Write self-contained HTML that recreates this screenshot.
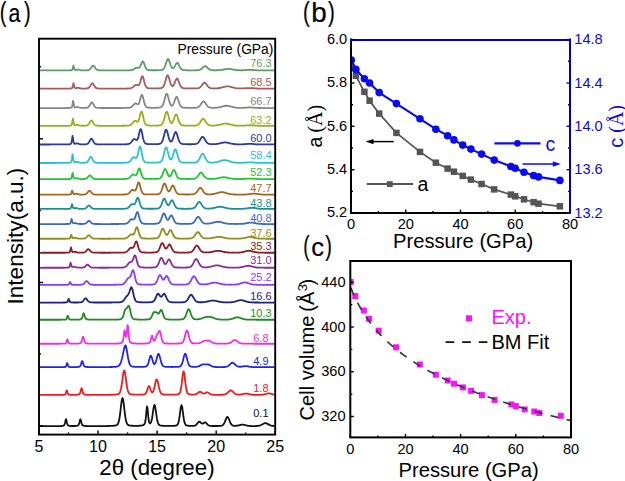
<!DOCTYPE html>
<html><head><meta charset="utf-8"><style>
html,body{margin:0;padding:0;background:#fff;}
body{width:625px;height:481px;overflow:hidden;}
svg{display:block;font-family:"Liberation Sans", sans-serif;}
</style></head><body>
<svg width="625" height="481" viewBox="0 0 625 481">
<rect width="625" height="481" fill="#fff"/>
<polyline fill="none" stroke="#5c9c64" stroke-width="1.8" stroke-linejoin="round" points="39.5,70.45 40.0,70.45 40.5,70.45 41.0,70.45 41.5,70.45 42.0,70.45 42.5,70.45 43.0,70.45 43.5,70.45 44.0,70.45 44.5,70.45 45.0,70.45 45.5,70.45 46.0,70.45 46.5,70.45 47.0,70.45 47.5,70.45 48.0,70.45 48.5,70.45 49.0,70.45 49.5,70.45 50.0,70.45 50.5,70.45 51.0,70.45 51.5,70.45 52.0,70.45 52.5,70.45 53.0,70.45 53.5,70.45 54.0,70.45 54.5,70.45 55.0,70.45 55.5,70.45 56.0,70.45 56.5,70.45 57.0,70.45 57.5,70.44 58.0,70.44 58.5,70.44 59.0,70.44 59.5,70.44 60.0,70.44 60.5,70.44 61.0,70.44 61.5,70.44 62.0,70.44 62.5,70.44 63.0,70.44 63.5,70.43 64.0,70.43 64.5,70.43 65.0,70.43 65.5,70.42 66.0,70.42 66.5,70.42 67.0,70.41 67.5,70.41 68.0,70.40 68.5,70.39 69.0,70.38 69.5,70.37 70.0,70.34 70.5,70.31 71.0,70.26 71.5,70.16 72.0,69.95 72.5,69.27 73.0,67.40 73.5,65.60 74.0,67.37 74.5,69.19 75.0,69.82 75.5,69.94 76.0,69.91 76.5,69.81 77.0,69.70 77.5,69.60 78.0,69.57 78.5,69.62 79.0,69.74 79.5,69.89 80.0,70.04 80.5,70.16 81.0,70.25 81.5,70.30 82.0,70.33 82.5,70.35 83.0,70.36 83.5,70.36 84.0,70.36 84.5,70.35 85.0,70.35 85.5,70.34 86.0,70.33 86.5,70.31 87.0,70.28 87.5,70.24 88.0,70.16 88.5,70.04 89.0,69.85 89.5,69.56 90.0,69.14 90.5,68.58 91.0,67.90 91.5,67.17 92.0,66.46 92.5,65.91 93.0,65.65 93.5,65.76 94.0,66.21 94.5,66.87 95.0,67.61 95.5,68.32 96.0,68.93 96.5,69.41 97.0,69.75 97.5,69.98 98.0,70.13 98.5,70.22 99.0,70.27 99.5,70.31 100.0,70.33 100.5,70.34 101.0,70.35 101.5,70.36 102.0,70.37 102.5,70.38 103.0,70.38 103.5,70.39 104.0,70.39 104.5,70.40 105.0,70.40 105.5,70.40 106.0,70.40 106.5,70.41 107.0,70.41 107.5,70.41 108.0,70.41 108.5,70.41 109.0,70.41 109.5,70.41 110.0,70.41 110.5,70.41 111.0,70.42 111.5,70.42 112.0,70.42 112.5,70.42 113.0,70.42 113.5,70.42 114.0,70.42 114.5,70.41 115.0,70.41 115.5,70.41 116.0,70.41 116.5,70.41 117.0,70.41 117.5,70.41 118.0,70.41 118.5,70.41 119.0,70.41 119.5,70.41 120.0,70.40 120.5,70.40 121.0,70.40 121.5,70.40 122.0,70.40 122.5,70.39 123.0,70.39 123.5,70.39 124.0,70.38 124.5,70.38 125.0,70.38 125.5,70.37 126.0,70.37 126.5,70.36 127.0,70.35 127.5,70.35 128.0,70.34 128.5,70.33 129.0,70.31 129.5,70.29 130.0,70.26 130.5,70.22 131.0,70.16 131.5,70.07 132.0,69.95 132.5,69.79 133.0,69.58 133.5,69.32 134.0,69.01 134.5,68.69 135.0,68.36 135.5,68.06 136.0,67.83 136.5,67.70 137.0,67.69 137.5,67.76 138.0,67.86 138.5,67.92 139.0,67.83 139.5,67.50 140.0,66.86 140.5,65.90 141.0,64.67 141.5,63.33 142.0,62.14 142.5,61.39 143.0,61.35 143.5,62.06 144.0,63.29 144.5,64.76 145.0,66.20 145.5,67.44 146.0,68.40 146.5,69.08 147.0,69.53 147.5,69.81 148.0,69.97 148.5,70.07 149.0,70.13 149.5,70.16 150.0,70.19 150.5,70.21 151.0,70.22 151.5,70.24 152.0,70.24 152.5,70.25 153.0,70.26 153.5,70.26 154.0,70.26 154.5,70.26 155.0,70.26 155.5,70.25 156.0,70.25 156.5,70.24 157.0,70.24 157.5,70.23 158.0,70.21 158.5,70.20 159.0,70.18 159.5,70.16 160.0,70.13 160.5,70.09 161.0,70.04 161.5,69.96 162.0,69.84 162.5,69.66 163.0,69.36 163.5,68.92 164.0,68.28 164.5,67.40 165.0,66.26 165.5,64.88 166.0,63.33 166.5,61.76 167.0,60.37 167.5,59.38 168.0,59.01 168.5,59.35 169.0,60.32 169.5,61.68 170.0,63.22 170.5,64.71 171.0,66.02 171.5,67.06 172.0,67.78 172.5,68.17 173.0,68.25 173.5,68.03 174.0,67.54 174.5,66.81 175.0,65.92 175.5,64.94 176.0,64.00 176.5,63.26 177.0,62.88 177.5,62.94 178.0,63.45 178.5,64.29 179.0,65.29 179.5,66.33 180.0,67.29 180.5,68.11 181.0,68.76 181.5,69.24 182.0,69.59 182.5,69.82 183.0,69.97 183.5,70.06 184.0,70.12 184.5,70.17 185.0,70.20 185.5,70.22 186.0,70.24 186.5,70.25 187.0,70.26 187.5,70.27 188.0,70.28 188.5,70.29 189.0,70.30 189.5,70.30 190.0,70.31 190.5,70.31 191.0,70.31 191.5,70.31 192.0,70.32 192.5,70.32 193.0,70.32 193.5,70.31 194.0,70.31 194.5,70.31 195.0,70.30 195.5,70.30 196.0,70.29 196.5,70.27 197.0,70.26 197.5,70.23 198.0,70.19 198.5,70.13 199.0,70.04 199.5,69.92 200.0,69.74 200.5,69.51 201.0,69.21 201.5,68.85 202.0,68.42 202.5,67.94 203.0,67.44 203.5,66.96 204.0,66.54 204.5,66.24 205.0,66.11 205.5,66.17 206.0,66.41 206.5,66.78 207.0,67.24 207.5,67.74 208.0,68.23 208.5,68.68 209.0,69.08 209.5,69.40 210.0,69.66 210.5,69.85 211.0,70.00 211.5,70.10 212.0,70.16 212.5,70.21 213.0,70.24 213.5,70.26 214.0,70.27 214.5,70.28 215.0,70.28 215.5,70.28 216.0,70.28 216.5,70.27 217.0,70.26 217.5,70.24 218.0,70.22 218.5,70.19 219.0,70.16 219.5,70.12 220.0,70.08 220.5,70.03 221.0,69.97 221.5,69.90 222.0,69.83 222.5,69.75 223.0,69.67 223.5,69.58 224.0,69.49 224.5,69.39 225.0,69.30 225.5,69.22 226.0,69.14 226.5,69.07 227.0,69.01 227.5,68.96 228.0,68.93 228.5,68.93 229.0,68.94 229.5,68.96 230.0,69.01 230.5,69.07 231.0,69.14 231.5,69.22 232.0,69.31 232.5,69.40 233.0,69.50 233.5,69.59 234.0,69.68 234.5,69.76 235.0,69.84 235.5,69.92 236.0,69.99 236.5,70.04 237.0,70.10 237.5,70.14 238.0,70.18 238.5,70.21 239.0,70.24 239.5,70.26 240.0,70.27 240.5,70.28 241.0,70.28 241.5,70.27 242.0,70.27 242.5,70.25 243.0,70.23 243.5,70.21 244.0,70.18 244.5,70.15 245.0,70.12 245.5,70.08 246.0,70.04 246.5,70.00 247.0,69.96 247.5,69.93 248.0,69.89 248.5,69.86 249.0,69.84 249.5,69.83 250.0,69.83 250.5,69.83 251.0,69.85 251.5,69.87 252.0,69.90 252.5,69.94 253.0,69.98 253.5,70.02 254.0,70.06 254.5,70.10 255.0,70.15 255.5,70.18 256.0,70.22 256.5,70.25 257.0,70.28 257.5,70.31 258.0,70.33 258.5,70.35 259.0,70.36 259.5,70.38 260.0,70.39 260.5,70.40 261.0,70.40 261.5,70.41 262.0,70.42 262.5,70.42 263.0,70.42 263.5,70.42 264.0,70.43 264.5,70.43 265.0,70.43 265.5,70.43 266.0,70.43 266.5,70.43 267.0,70.43 267.5,70.44 268.0,70.44 268.5,70.44 269.0,70.44 269.5,70.44 270.0,70.44 270.5,70.44 271.0,70.44 271.5,70.44 272.0,70.44 272.5,70.44 273.0,70.44 273.5,70.44 274.0,70.44 274.5,70.44"/>
<text x="260.9" y="66.9" font-size="11" text-anchor="middle" fill="#5c9c64">76.3</text>
<polyline fill="none" stroke="#a45c5c" stroke-width="1.8" stroke-linejoin="round" points="39.5,88.66 40.0,88.66 40.5,88.66 41.0,88.66 41.5,88.66 42.0,88.66 42.5,88.66 43.0,88.66 43.5,88.66 44.0,88.66 44.5,88.66 45.0,88.66 45.5,88.66 46.0,88.66 46.5,88.66 47.0,88.66 47.5,88.66 48.0,88.66 48.5,88.66 49.0,88.66 49.5,88.66 50.0,88.66 50.5,88.66 51.0,88.66 51.5,88.66 52.0,88.66 52.5,88.66 53.0,88.66 53.5,88.66 54.0,88.66 54.5,88.66 55.0,88.66 55.5,88.66 56.0,88.65 56.5,88.65 57.0,88.65 57.5,88.65 58.0,88.65 58.5,88.65 59.0,88.65 59.5,88.65 60.0,88.65 60.5,88.65 61.0,88.65 61.5,88.65 62.0,88.65 62.5,88.64 63.0,88.64 63.5,88.64 64.0,88.64 64.5,88.64 65.0,88.63 65.5,88.63 66.0,88.63 66.5,88.62 67.0,88.62 67.5,88.61 68.0,88.60 68.5,88.59 69.0,88.58 69.5,88.56 70.0,88.54 70.5,88.50 71.0,88.44 71.5,88.34 72.0,88.10 72.5,87.33 73.0,85.24 73.5,83.21 74.0,85.20 74.5,87.26 75.0,87.97 75.5,88.11 76.0,88.09 76.5,88.00 77.0,87.89 77.5,87.80 78.0,87.77 78.5,87.82 79.0,87.94 79.5,88.09 80.0,88.24 80.5,88.36 81.0,88.45 81.5,88.50 82.0,88.53 82.5,88.55 83.0,88.55 83.5,88.55 84.0,88.55 84.5,88.54 85.0,88.53 85.5,88.52 86.0,88.50 86.5,88.47 87.0,88.42 87.5,88.33 88.0,88.18 88.5,87.94 89.0,87.56 89.5,87.02 90.0,86.31 90.5,85.47 91.0,84.59 91.5,83.82 92.0,83.33 92.5,83.29 93.0,83.69 93.5,84.43 94.0,85.30 94.5,86.16 95.0,86.90 95.5,87.47 96.0,87.88 96.5,88.15 97.0,88.31 97.5,88.41 98.0,88.47 98.5,88.50 99.0,88.53 99.5,88.54 100.0,88.55 100.5,88.57 101.0,88.57 101.5,88.58 102.0,88.59 102.5,88.59 103.0,88.60 103.5,88.60 104.0,88.60 104.5,88.61 105.0,88.61 105.5,88.61 106.0,88.61 106.5,88.61 107.0,88.61 107.5,88.61 108.0,88.62 108.5,88.62 109.0,88.62 109.5,88.62 110.0,88.62 110.5,88.62 111.0,88.62 111.5,88.62 112.0,88.62 112.5,88.62 113.0,88.62 113.5,88.62 114.0,88.61 114.5,88.61 115.0,88.61 115.5,88.61 116.0,88.61 116.5,88.61 117.0,88.61 117.5,88.61 118.0,88.60 118.5,88.60 119.0,88.60 119.5,88.60 120.0,88.60 120.5,88.59 121.0,88.59 121.5,88.59 122.0,88.58 122.5,88.58 123.0,88.58 123.5,88.57 124.0,88.57 124.5,88.56 125.0,88.55 125.5,88.55 126.0,88.54 126.5,88.53 127.0,88.52 127.5,88.51 128.0,88.49 128.5,88.47 129.0,88.44 129.5,88.40 130.0,88.34 130.5,88.26 131.0,88.14 131.5,87.97 132.0,87.74 132.5,87.44 133.0,87.08 133.5,86.66 134.0,86.20 134.5,85.74 135.0,85.32 135.5,85.01 136.0,84.83 136.5,84.82 137.0,84.94 137.5,85.11 138.0,85.23 138.5,85.16 139.0,84.79 139.5,84.01 140.0,82.78 140.5,81.15 141.0,79.32 141.5,77.61 142.0,76.42 142.5,76.16 143.0,76.93 143.5,78.51 144.0,80.48 144.5,82.48 145.0,84.24 145.5,85.63 146.0,86.64 146.5,87.31 147.0,87.73 147.5,87.97 148.0,88.12 148.5,88.21 149.0,88.27 149.5,88.30 150.0,88.33 150.5,88.36 151.0,88.37 151.5,88.39 152.0,88.40 152.5,88.40 153.0,88.41 153.5,88.41 154.0,88.41 154.5,88.41 155.0,88.41 155.5,88.41 156.0,88.40 156.5,88.39 157.0,88.38 157.5,88.37 158.0,88.35 158.5,88.33 159.0,88.31 159.5,88.27 160.0,88.23 160.5,88.18 161.0,88.09 161.5,87.96 162.0,87.76 162.5,87.45 163.0,86.97 163.5,86.26 164.0,85.28 164.5,84.00 165.0,82.43 165.5,80.64 166.0,78.78 166.5,77.07 167.0,75.79 167.5,75.19 168.0,75.43 168.5,76.43 169.0,77.97 169.5,79.76 170.0,81.54 170.5,83.14 171.0,84.44 171.5,85.37 172.0,85.91 172.5,86.08 173.0,85.89 173.5,85.35 174.0,84.50 174.5,83.38 175.0,82.09 175.5,80.75 176.0,79.55 176.5,78.71 177.0,78.42 177.5,78.76 178.0,79.64 178.5,80.89 179.0,82.28 179.5,83.65 180.0,84.88 180.5,85.89 181.0,86.68 181.5,87.25 182.0,87.64 182.5,87.90 183.0,88.07 183.5,88.18 184.0,88.25 184.5,88.30 185.0,88.34 185.5,88.36 186.0,88.38 186.5,88.40 187.0,88.42 187.5,88.43 188.0,88.44 188.5,88.45 189.0,88.46 189.5,88.46 190.0,88.47 190.5,88.47 191.0,88.47 191.5,88.47 192.0,88.47 192.5,88.47 193.0,88.47 193.5,88.47 194.0,88.46 194.5,88.45 195.0,88.44 195.5,88.43 196.0,88.41 196.5,88.38 197.0,88.34 197.5,88.28 198.0,88.20 198.5,88.07 199.0,87.88 199.5,87.63 200.0,87.30 200.5,86.87 201.0,86.35 201.5,85.74 202.0,85.08 202.5,84.39 203.0,83.74 203.5,83.20 204.0,82.83 204.5,82.70 205.0,82.83 205.5,83.20 206.0,83.74 206.5,84.39 207.0,85.07 207.5,85.74 208.0,86.34 208.5,86.86 209.0,87.29 209.5,87.63 210.0,87.88 210.5,88.06 211.0,88.19 211.5,88.27 212.0,88.33 212.5,88.37 213.0,88.39 213.5,88.40 214.0,88.41 214.5,88.40 215.0,88.40 215.5,88.39 216.0,88.37 216.5,88.34 217.0,88.31 217.5,88.27 218.0,88.22 218.5,88.16 219.0,88.09 219.5,88.01 220.0,87.92 220.5,87.82 221.0,87.71 221.5,87.59 222.0,87.46 222.5,87.33 223.0,87.19 223.5,87.05 224.0,86.91 224.5,86.77 225.0,86.65 225.5,86.54 226.0,86.45 226.5,86.38 227.0,86.34 227.5,86.33 228.0,86.34 228.5,86.39 229.0,86.46 229.5,86.55 230.0,86.66 230.5,86.79 231.0,86.92 231.5,87.06 232.0,87.21 232.5,87.35 233.0,87.48 233.5,87.62 234.0,87.74 234.5,87.85 235.0,87.96 235.5,88.05 236.0,88.13 236.5,88.20 237.0,88.27 237.5,88.32 238.0,88.36 238.5,88.40 239.0,88.42 239.5,88.44 240.0,88.46 240.5,88.47 241.0,88.47 241.5,88.46 242.0,88.46 242.5,88.44 243.0,88.43 243.5,88.40 244.0,88.38 244.5,88.35 245.0,88.31 245.5,88.27 246.0,88.24 246.5,88.20 247.0,88.16 247.5,88.12 248.0,88.09 248.5,88.06 249.0,88.04 249.5,88.03 250.0,88.03 250.5,88.03 251.0,88.05 251.5,88.07 252.0,88.10 252.5,88.14 253.0,88.18 253.5,88.22 254.0,88.26 254.5,88.31 255.0,88.35 255.5,88.39 256.0,88.42 256.5,88.45 257.0,88.48 257.5,88.51 258.0,88.53 258.5,88.55 259.0,88.57 259.5,88.58 260.0,88.59 260.5,88.60 261.0,88.61 261.5,88.61 262.0,88.62 262.5,88.62 263.0,88.63 263.5,88.63 264.0,88.63 264.5,88.63 265.0,88.64 265.5,88.64 266.0,88.64 266.5,88.64 267.0,88.64 267.5,88.64 268.0,88.64 268.5,88.64 269.0,88.64 269.5,88.64 270.0,88.65 270.5,88.65 271.0,88.65 271.5,88.65 272.0,88.65 272.5,88.65 273.0,88.65 273.5,88.65 274.0,88.65 274.5,88.65"/>
<text x="260.9" y="86.1" font-size="11" text-anchor="middle" fill="#a45c5c">68.5</text>
<polyline fill="none" stroke="#868686" stroke-width="1.8" stroke-linejoin="round" points="39.5,108.07 40.0,108.07 40.5,108.07 41.0,108.07 41.5,108.07 42.0,108.07 42.5,108.07 43.0,108.07 43.5,108.07 44.0,108.07 44.5,108.07 45.0,108.07 45.5,108.07 46.0,108.07 46.5,108.07 47.0,108.07 47.5,108.07 48.0,108.07 48.5,108.07 49.0,108.07 49.5,108.07 50.0,108.07 50.5,108.07 51.0,108.07 51.5,108.06 52.0,108.06 52.5,108.06 53.0,108.06 53.5,108.06 54.0,108.06 54.5,108.06 55.0,108.06 55.5,108.06 56.0,108.06 56.5,108.06 57.0,108.06 57.5,108.06 58.0,108.06 58.5,108.06 59.0,108.06 59.5,108.05 60.0,108.05 60.5,108.05 61.0,108.05 61.5,108.05 62.0,108.05 62.5,108.05 63.0,108.04 63.5,108.04 64.0,108.04 64.5,108.04 65.0,108.03 65.5,108.03 66.0,108.02 66.5,108.02 67.0,108.01 67.5,108.00 68.0,107.99 68.5,107.97 69.0,107.95 69.5,107.92 70.0,107.87 70.5,107.80 71.0,107.68 71.5,107.42 72.0,106.62 72.5,104.22 73.0,100.97 73.5,102.73 74.0,105.83 74.5,107.06 75.0,107.35 75.5,107.37 76.0,107.29 76.5,107.18 77.0,107.08 77.5,107.05 78.0,107.12 78.5,107.25 79.0,107.42 79.5,107.59 80.0,107.73 80.5,107.82 81.0,107.89 81.5,107.92 82.0,107.94 82.5,107.95 83.0,107.95 83.5,107.95 84.0,107.94 84.5,107.93 85.0,107.92 85.5,107.90 86.0,107.86 86.5,107.81 87.0,107.72 87.5,107.56 88.0,107.31 88.5,106.91 89.0,106.34 89.5,105.59 90.0,104.70 90.5,103.77 91.0,102.96 91.5,102.44 92.0,102.39 92.5,102.82 93.0,103.60 93.5,104.52 94.0,105.42 94.5,106.20 95.0,106.81 95.5,107.24 96.0,107.53 96.5,107.70 97.0,107.80 97.5,107.86 98.0,107.90 98.5,107.93 99.0,107.94 99.5,107.96 100.0,107.97 100.5,107.98 101.0,107.98 101.5,107.99 102.0,107.99 102.5,108.00 103.0,108.00 103.5,108.01 104.0,108.01 104.5,108.01 105.0,108.01 105.5,108.01 106.0,108.02 106.5,108.02 107.0,108.02 107.5,108.02 108.0,108.02 108.5,108.02 109.0,108.02 109.5,108.02 110.0,108.02 110.5,108.02 111.0,108.02 111.5,108.02 112.0,108.02 112.5,108.02 113.0,108.02 113.5,108.02 114.0,108.02 114.5,108.02 115.0,108.01 115.5,108.01 116.0,108.01 116.5,108.01 117.0,108.01 117.5,108.01 118.0,108.00 118.5,108.00 119.0,108.00 119.5,108.00 120.0,107.99 120.5,107.99 121.0,107.98 121.5,107.98 122.0,107.98 122.5,107.97 123.0,107.97 123.5,107.96 124.0,107.95 124.5,107.94 125.0,107.94 125.5,107.93 126.0,107.91 126.5,107.90 127.0,107.88 127.5,107.86 128.0,107.84 128.5,107.80 129.0,107.74 129.5,107.66 130.0,107.54 130.5,107.37 131.0,107.14 131.5,106.83 132.0,106.44 132.5,105.96 133.0,105.43 133.5,104.86 134.0,104.32 134.5,103.85 135.0,103.54 135.5,103.42 136.0,103.51 136.5,103.74 137.0,104.03 137.5,104.24 138.0,104.24 138.5,103.90 139.0,103.11 139.5,101.82 140.0,100.12 140.5,98.19 141.0,96.38 141.5,95.13 142.0,94.84 142.5,95.66 143.0,97.33 143.5,99.41 144.0,101.52 144.5,103.38 145.0,104.85 145.5,105.92 146.0,106.63 146.5,107.07 147.0,107.33 147.5,107.49 148.0,107.58 148.5,107.64 149.0,107.68 149.5,107.71 150.0,107.74 150.5,107.76 151.0,107.77 151.5,107.78 152.0,107.79 152.5,107.79 153.0,107.80 153.5,107.80 154.0,107.80 154.5,107.79 155.0,107.79 155.5,107.78 156.0,107.77 156.5,107.75 157.0,107.74 157.5,107.72 158.0,107.69 158.5,107.66 159.0,107.62 159.5,107.56 160.0,107.48 160.5,107.36 161.0,107.16 161.5,106.85 162.0,106.38 162.5,105.68 163.0,104.70 163.5,103.40 164.0,101.77 164.5,99.90 165.0,97.92 165.5,96.04 166.0,94.55 166.5,93.75 167.0,93.83 167.5,94.76 168.0,96.32 168.5,98.20 169.0,100.14 169.5,101.91 170.0,103.40 170.5,104.53 171.0,105.28 171.5,105.67 172.0,105.71 172.5,105.41 173.0,104.78 173.5,103.84 174.0,102.62 174.5,101.20 175.0,99.70 175.5,98.33 176.0,97.30 176.5,96.84 177.0,97.07 177.5,97.93 178.0,99.24 178.5,100.76 179.0,102.28 179.5,103.67 180.0,104.83 180.5,105.75 181.0,106.42 181.5,106.88 182.0,107.20 182.5,107.40 183.0,107.53 183.5,107.61 184.0,107.67 184.5,107.71 185.0,107.74 185.5,107.76 186.0,107.78 186.5,107.80 187.0,107.81 187.5,107.82 188.0,107.83 188.5,107.84 189.0,107.85 189.5,107.85 190.0,107.86 190.5,107.86 191.0,107.86 191.5,107.86 192.0,107.86 192.5,107.85 193.0,107.85 193.5,107.84 194.0,107.83 194.5,107.81 195.0,107.79 195.5,107.76 196.0,107.72 196.5,107.65 197.0,107.55 197.5,107.41 198.0,107.20 198.5,106.92 199.0,106.54 199.5,106.07 200.0,105.48 200.5,104.81 201.0,104.06 201.5,103.30 202.0,102.57 202.5,101.96 203.0,101.55 203.5,101.40 204.0,101.55 204.5,101.96 205.0,102.57 205.5,103.30 206.0,104.06 206.5,104.81 207.0,105.48 207.5,106.07 208.0,106.54 208.5,106.92 209.0,107.20 209.5,107.40 210.0,107.55 210.5,107.64 211.0,107.71 211.5,107.75 212.0,107.78 212.5,107.79 213.0,107.80 213.5,107.80 214.0,107.80 214.5,107.79 215.0,107.77 215.5,107.75 216.0,107.72 216.5,107.68 217.0,107.63 217.5,107.58 218.0,107.51 218.5,107.43 219.0,107.34 219.5,107.25 220.0,107.14 220.5,107.02 221.0,106.89 221.5,106.76 222.0,106.62 222.5,106.48 223.0,106.34 223.5,106.20 224.0,106.08 224.5,105.97 225.0,105.87 225.5,105.80 226.0,105.75 226.5,105.73 227.0,105.74 227.5,105.78 228.0,105.85 228.5,105.93 229.0,106.04 229.5,106.17 230.0,106.30 230.5,106.44 231.0,106.58 231.5,106.73 232.0,106.86 232.5,107.00 233.0,107.12 233.5,107.24 234.0,107.35 234.5,107.44 235.0,107.53 235.5,107.60 236.0,107.67 236.5,107.72 237.0,107.77 237.5,107.80 238.0,107.83 238.5,107.86 239.0,107.88 239.5,107.89 240.0,107.90 240.5,107.90 241.0,107.90 241.5,107.89 242.0,107.88 242.5,107.86 243.0,107.84 243.5,107.82 244.0,107.79 244.5,107.76 245.0,107.72 245.5,107.69 246.0,107.65 246.5,107.61 247.0,107.57 247.5,107.53 248.0,107.50 248.5,107.47 249.0,107.45 249.5,107.44 250.0,107.44 250.5,107.44 251.0,107.46 251.5,107.48 252.0,107.51 252.5,107.55 253.0,107.59 253.5,107.63 254.0,107.67 254.5,107.72 255.0,107.76 255.5,107.80 256.0,107.83 256.5,107.86 257.0,107.89 257.5,107.92 258.0,107.94 258.5,107.96 259.0,107.98 259.5,107.99 260.0,108.00 260.5,108.01 261.0,108.02 261.5,108.02 262.0,108.03 262.5,108.03 263.0,108.04 263.5,108.04 264.0,108.04 264.5,108.04 265.0,108.04 265.5,108.05 266.0,108.05 266.5,108.05 267.0,108.05 267.5,108.05 268.0,108.05 268.5,108.05 269.0,108.05 269.5,108.05 270.0,108.05 270.5,108.05 271.0,108.06 271.5,108.06 272.0,108.06 272.5,108.06 273.0,108.06 273.5,108.06 274.0,108.06 274.5,108.06"/>
<text x="260.9" y="104.6" font-size="11" text-anchor="middle" fill="#868686">66.7</text>
<polyline fill="none" stroke="#98b018" stroke-width="1.8" stroke-linejoin="round" points="39.5,125.87 40.0,125.87 40.5,125.87 41.0,125.87 41.5,125.87 42.0,125.87 42.5,125.87 43.0,125.87 43.5,125.87 44.0,125.87 44.5,125.87 45.0,125.87 45.5,125.87 46.0,125.87 46.5,125.87 47.0,125.87 47.5,125.87 48.0,125.87 48.5,125.87 49.0,125.87 49.5,125.87 50.0,125.87 50.5,125.87 51.0,125.87 51.5,125.87 52.0,125.87 52.5,125.87 53.0,125.87 53.5,125.86 54.0,125.86 54.5,125.86 55.0,125.86 55.5,125.86 56.0,125.86 56.5,125.86 57.0,125.86 57.5,125.86 58.0,125.86 58.5,125.86 59.0,125.86 59.5,125.86 60.0,125.85 60.5,125.85 61.0,125.85 61.5,125.85 62.0,125.85 62.5,125.85 63.0,125.84 63.5,125.84 64.0,125.84 64.5,125.84 65.0,125.83 65.5,125.83 66.0,125.82 66.5,125.81 67.0,125.81 67.5,125.80 68.0,125.78 68.5,125.76 69.0,125.74 69.5,125.70 70.0,125.65 70.5,125.56 71.0,125.40 71.5,125.00 72.0,123.68 72.5,120.49 73.0,118.67 73.5,121.93 74.0,124.30 74.5,125.05 75.0,125.20 75.5,125.18 76.0,125.08 76.5,124.96 77.0,124.87 77.5,124.86 78.0,124.94 78.5,125.09 79.0,125.26 79.5,125.42 80.0,125.55 80.5,125.64 81.0,125.70 81.5,125.73 82.0,125.75 82.5,125.75 83.0,125.75 83.5,125.75 84.0,125.74 84.5,125.73 85.0,125.71 85.5,125.68 86.0,125.64 86.5,125.56 87.0,125.42 87.5,125.20 88.0,124.86 88.5,124.35 89.0,123.67 89.5,122.86 90.0,121.97 90.5,121.16 91.0,120.61 91.5,120.46 92.0,120.79 92.5,121.47 93.0,122.33 93.5,123.20 94.0,123.97 94.5,124.58 95.0,125.02 95.5,125.31 96.0,125.49 96.5,125.60 97.0,125.67 97.5,125.70 98.0,125.73 98.5,125.75 99.0,125.76 99.5,125.77 100.0,125.78 100.5,125.79 101.0,125.79 101.5,125.80 102.0,125.80 102.5,125.80 103.0,125.81 103.5,125.81 104.0,125.81 104.5,125.81 105.0,125.82 105.5,125.82 106.0,125.82 106.5,125.82 107.0,125.82 107.5,125.82 108.0,125.82 108.5,125.82 109.0,125.82 109.5,125.82 110.0,125.82 110.5,125.82 111.0,125.82 111.5,125.82 112.0,125.82 112.5,125.82 113.0,125.82 113.5,125.82 114.0,125.82 114.5,125.81 115.0,125.81 115.5,125.81 116.0,125.81 116.5,125.81 117.0,125.80 117.5,125.80 118.0,125.80 118.5,125.80 119.0,125.79 119.5,125.79 120.0,125.79 120.5,125.78 121.0,125.78 121.5,125.77 122.0,125.77 122.5,125.76 123.0,125.75 123.5,125.75 124.0,125.74 124.5,125.73 125.0,125.72 125.5,125.71 126.0,125.69 126.5,125.68 127.0,125.65 127.5,125.63 128.0,125.59 128.5,125.53 129.0,125.45 129.5,125.33 130.0,125.16 130.5,124.92 131.0,124.59 131.5,124.18 132.0,123.68 132.5,123.11 133.0,122.49 133.5,121.89 134.0,121.36 134.5,120.98 135.0,120.80 135.5,120.86 136.0,121.09 136.5,121.40 137.0,121.66 137.5,121.73 138.0,121.45 138.5,120.70 139.0,119.41 139.5,117.64 140.0,115.58 140.5,113.55 141.0,112.03 141.5,111.49 142.0,112.15 142.5,113.81 143.0,116.02 143.5,118.33 144.0,120.42 144.5,122.11 145.0,123.35 145.5,124.19 146.0,124.72 146.5,125.04 147.0,125.22 147.5,125.34 148.0,125.41 148.5,125.45 149.0,125.49 149.5,125.52 150.0,125.54 150.5,125.56 151.0,125.57 151.5,125.58 152.0,125.59 152.5,125.59 153.0,125.60 153.5,125.60 154.0,125.59 154.5,125.59 155.0,125.58 155.5,125.58 156.0,125.57 156.5,125.55 157.0,125.54 157.5,125.52 158.0,125.49 158.5,125.46 159.0,125.42 159.5,125.36 160.0,125.28 160.5,125.16 161.0,124.96 161.5,124.66 162.0,124.19 162.5,123.50 163.0,122.53 163.5,121.25 164.0,119.65 164.5,117.80 165.0,115.84 165.5,113.99 166.0,112.52 166.5,111.73 167.0,111.80 167.5,112.71 168.0,114.24 168.5,116.09 169.0,117.99 169.5,119.72 170.0,121.14 170.5,122.19 171.0,122.83 171.5,123.06 172.0,122.89 172.5,122.34 173.0,121.43 173.5,120.21 174.0,118.77 174.5,117.25 175.0,115.85 175.5,114.79 176.0,114.32 176.5,114.56 177.0,115.45 177.5,116.79 178.0,118.35 178.5,119.92 179.0,121.34 179.5,122.54 180.0,123.48 180.5,124.17 181.0,124.65 181.5,124.97 182.0,125.18 182.5,125.31 183.0,125.40 183.5,125.46 184.0,125.50 184.5,125.53 185.0,125.55 185.5,125.57 186.0,125.59 186.5,125.61 187.0,125.62 187.5,125.63 188.0,125.64 188.5,125.64 189.0,125.65 189.5,125.65 190.0,125.65 190.5,125.65 191.0,125.65 191.5,125.65 192.0,125.65 192.5,125.64 193.0,125.63 193.5,125.62 194.0,125.61 194.5,125.58 195.0,125.55 195.5,125.51 196.0,125.44 196.5,125.35 197.0,125.21 197.5,125.00 198.0,124.72 198.5,124.34 199.0,123.86 199.5,123.26 200.0,122.56 200.5,121.78 201.0,120.97 201.5,120.19 202.0,119.51 202.5,119.02 203.0,118.81 203.5,118.90 204.0,119.29 204.5,119.90 205.0,120.65 205.5,121.46 206.0,122.26 206.5,122.99 207.0,123.63 207.5,124.16 208.0,124.58 208.5,124.90 209.0,125.13 209.5,125.29 210.0,125.40 210.5,125.47 211.0,125.52 211.5,125.55 212.0,125.57 212.5,125.57 213.0,125.57 213.5,125.57 214.0,125.55 214.5,125.53 215.0,125.50 215.5,125.47 216.0,125.42 216.5,125.37 217.0,125.30 217.5,125.22 218.0,125.14 218.5,125.04 219.0,124.93 219.5,124.81 220.0,124.69 220.5,124.55 221.0,124.41 221.5,124.27 222.0,124.14 222.5,124.00 223.0,123.88 223.5,123.76 224.0,123.67 224.5,123.60 225.0,123.55 225.5,123.53 226.0,123.54 226.5,123.58 227.0,123.65 227.5,123.73 228.0,123.84 228.5,123.97 229.0,124.10 229.5,124.24 230.0,124.38 230.5,124.53 231.0,124.67 231.5,124.80 232.0,124.92 232.5,125.04 233.0,125.15 233.5,125.24 234.0,125.33 234.5,125.40 235.0,125.47 235.5,125.52 236.0,125.57 236.5,125.61 237.0,125.64 237.5,125.67 238.0,125.69 238.5,125.70 239.0,125.71 239.5,125.72 240.0,125.72 240.5,125.72 241.0,125.71 241.5,125.70 242.0,125.69 242.5,125.67 243.0,125.65 243.5,125.63 244.0,125.60 244.5,125.57 245.0,125.53 245.5,125.49 246.0,125.45 246.5,125.41 247.0,125.37 247.5,125.34 248.0,125.30 248.5,125.28 249.0,125.26 249.5,125.24 250.0,125.24 250.5,125.25 251.0,125.26 251.5,125.28 252.0,125.32 252.5,125.35 253.0,125.39 253.5,125.43 254.0,125.48 254.5,125.52 255.0,125.56 255.5,125.60 256.0,125.63 256.5,125.67 257.0,125.70 257.5,125.72 258.0,125.74 258.5,125.76 259.0,125.78 259.5,125.79 260.0,125.80 260.5,125.81 261.0,125.82 261.5,125.83 262.0,125.83 262.5,125.83 263.0,125.84 263.5,125.84 264.0,125.84 264.5,125.84 265.0,125.85 265.5,125.85 266.0,125.85 266.5,125.85 267.0,125.85 267.5,125.85 268.0,125.85 268.5,125.85 269.0,125.85 269.5,125.86 270.0,125.86 270.5,125.86 271.0,125.86 271.5,125.86 272.0,125.86 272.5,125.86 273.0,125.86 273.5,125.86 274.0,125.86 274.5,125.86"/>
<text x="260.9" y="123.5" font-size="11" text-anchor="middle" fill="#98b018">63.2</text>
<polyline fill="none" stroke="#2c3aa0" stroke-width="1.8" stroke-linejoin="round" points="39.5,144.48 40.0,144.48 40.5,144.48 41.0,144.48 41.5,144.48 42.0,144.48 42.5,144.48 43.0,144.48 43.5,144.48 44.0,144.48 44.5,144.48 45.0,144.48 45.5,144.48 46.0,144.48 46.5,144.48 47.0,144.48 47.5,144.48 48.0,144.48 48.5,144.48 49.0,144.48 49.5,144.48 50.0,144.48 50.5,144.47 51.0,144.47 51.5,144.47 52.0,144.47 52.5,144.47 53.0,144.47 53.5,144.47 54.0,144.47 54.5,144.47 55.0,144.47 55.5,144.47 56.0,144.47 56.5,144.47 57.0,144.47 57.5,144.47 58.0,144.47 58.5,144.46 59.0,144.46 59.5,144.46 60.0,144.46 60.5,144.46 61.0,144.46 61.5,144.45 62.0,144.45 62.5,144.45 63.0,144.45 63.5,144.44 64.0,144.44 64.5,144.44 65.0,144.43 65.5,144.42 66.0,144.42 66.5,144.41 67.0,144.40 67.5,144.38 68.0,144.36 68.5,144.34 69.0,144.30 69.5,144.24 70.0,144.16 70.5,144.01 71.0,143.70 71.5,142.71 72.0,139.79 72.5,135.81 73.0,137.98 73.5,141.78 74.0,143.30 74.5,143.68 75.0,143.74 75.5,143.67 76.0,143.55 76.5,143.42 77.0,143.35 77.5,143.38 78.0,143.51 78.5,143.69 79.0,143.88 79.5,144.04 80.0,144.17 80.5,144.26 81.0,144.31 81.5,144.34 82.0,144.35 82.5,144.35 83.0,144.35 83.5,144.35 84.0,144.34 84.5,144.33 85.0,144.31 85.5,144.28 86.0,144.23 86.5,144.15 87.0,144.01 87.5,143.77 88.0,143.41 88.5,142.87 89.0,142.16 89.5,141.30 90.0,140.36 90.5,139.51 91.0,138.92 91.5,138.77 92.0,139.11 92.5,139.83 93.0,140.74 93.5,141.66 94.0,142.47 94.5,143.11 95.0,143.58 95.5,143.89 96.0,144.08 96.5,144.19 97.0,144.26 97.5,144.30 98.0,144.33 98.5,144.35 99.0,144.36 99.5,144.37 100.0,144.38 100.5,144.39 101.0,144.39 101.5,144.40 102.0,144.40 102.5,144.41 103.0,144.41 103.5,144.41 104.0,144.42 104.5,144.42 105.0,144.42 105.5,144.42 106.0,144.42 106.5,144.42 107.0,144.42 107.5,144.42 108.0,144.42 108.5,144.43 109.0,144.43 109.5,144.42 110.0,144.42 110.5,144.42 111.0,144.42 111.5,144.42 112.0,144.42 112.5,144.42 113.0,144.42 113.5,144.42 114.0,144.42 114.5,144.41 115.0,144.41 115.5,144.41 116.0,144.41 116.5,144.41 117.0,144.40 117.5,144.40 118.0,144.40 118.5,144.39 119.0,144.39 119.5,144.39 120.0,144.38 120.5,144.38 121.0,144.37 121.5,144.36 122.0,144.36 122.5,144.35 123.0,144.34 123.5,144.33 124.0,144.32 124.5,144.31 125.0,144.30 125.5,144.28 126.0,144.26 126.5,144.23 127.0,144.20 127.5,144.14 128.0,144.07 128.5,143.96 129.0,143.80 129.5,143.58 130.0,143.27 130.5,142.87 131.0,142.37 131.5,141.79 132.0,141.15 132.5,140.49 133.0,139.89 133.5,139.41 134.0,139.13 134.5,139.09 135.0,139.27 135.5,139.58 136.0,139.89 136.5,140.06 137.0,139.92 137.5,139.32 138.0,138.16 138.5,136.44 139.0,134.30 139.5,132.04 140.0,130.12 140.5,129.07 141.0,129.26 141.5,130.67 142.0,132.87 142.5,135.37 143.0,137.75 143.5,139.76 144.0,141.28 144.5,142.35 145.0,143.04 145.5,143.47 146.0,143.72 146.5,143.87 147.0,143.96 147.5,144.02 148.0,144.06 148.5,144.09 149.0,144.12 149.5,144.14 150.0,144.16 150.5,144.17 151.0,144.18 151.5,144.18 152.0,144.19 152.5,144.19 153.0,144.19 153.5,144.19 154.0,144.19 154.5,144.18 155.0,144.17 155.5,144.16 156.0,144.14 156.5,144.13 157.0,144.10 157.5,144.08 158.0,144.04 158.5,144.00 159.0,143.93 159.5,143.84 160.0,143.70 160.5,143.48 161.0,143.13 161.5,142.60 162.0,141.83 162.5,140.76 163.0,139.35 163.5,137.62 164.0,135.66 164.5,133.62 165.0,131.74 165.5,130.33 166.0,129.67 166.5,129.93 167.0,131.04 167.5,132.73 168.0,134.69 168.5,136.65 169.0,138.41 169.5,139.83 170.0,140.87 170.5,141.48 171.0,141.69 171.5,141.50 172.0,140.91 172.5,139.96 173.0,138.67 173.5,137.12 174.0,135.46 174.5,133.88 175.0,132.63 175.5,131.98 176.0,132.08 176.5,132.91 177.0,134.29 177.5,135.96 178.0,137.68 178.5,139.27 179.0,140.63 179.5,141.70 180.0,142.51 180.5,143.07 181.0,143.45 181.5,143.70 182.0,143.85 182.5,143.96 183.0,144.02 183.5,144.07 184.0,144.11 184.5,144.14 185.0,144.16 185.5,144.18 186.0,144.19 186.5,144.21 187.0,144.22 187.5,144.23 188.0,144.23 188.5,144.24 189.0,144.24 189.5,144.25 190.0,144.25 190.5,144.24 191.0,144.24 191.5,144.24 192.0,144.23 192.5,144.22 193.0,144.21 193.5,144.20 194.0,144.17 194.5,144.14 195.0,144.09 195.5,144.02 196.0,143.92 196.5,143.76 197.0,143.54 197.5,143.24 198.0,142.83 198.5,142.30 199.0,141.65 199.5,140.89 200.0,140.05 200.5,139.17 201.0,138.31 201.5,137.58 202.0,137.05 202.5,136.82 203.0,136.92 203.5,137.34 204.0,138.00 204.5,138.82 205.0,139.70 205.5,140.57 206.0,141.36 206.5,142.06 207.0,142.63 207.5,143.09 208.0,143.43 208.5,143.69 209.0,143.86 209.5,143.98 210.0,144.07 210.5,144.12 211.0,144.15 211.5,144.17 212.0,144.19 212.5,144.19 213.0,144.19 213.5,144.18 214.0,144.16 214.5,144.14 215.0,144.11 215.5,144.08 216.0,144.03 216.5,143.98 217.0,143.91 217.5,143.84 218.0,143.76 218.5,143.67 219.0,143.57 219.5,143.46 220.0,143.34 220.5,143.23 221.0,143.10 221.5,142.98 222.0,142.87 222.5,142.76 223.0,142.66 223.5,142.57 224.0,142.50 224.5,142.46 225.0,142.44 225.5,142.44 226.0,142.47 226.5,142.52 227.0,142.60 227.5,142.69 228.0,142.79 228.5,142.91 229.0,143.03 229.5,143.16 230.0,143.28 230.5,143.40 231.0,143.52 231.5,143.63 232.0,143.73 232.5,143.83 233.0,143.91 233.5,143.99 234.0,144.06 234.5,144.11 235.0,144.16 235.5,144.21 236.0,144.24 236.5,144.27 237.0,144.29 237.5,144.31 238.0,144.33 238.5,144.34 239.0,144.34 239.5,144.35 240.0,144.34 240.5,144.34 241.0,144.33 241.5,144.32 242.0,144.31 242.5,144.29 243.0,144.27 243.5,144.24 244.0,144.21 244.5,144.18 245.0,144.15 245.5,144.11 246.0,144.07 246.5,144.03 247.0,143.99 247.5,143.95 248.0,143.92 248.5,143.89 249.0,143.87 249.5,143.86 250.0,143.85 250.5,143.86 251.0,143.87 251.5,143.90 252.0,143.93 252.5,143.96 253.0,144.00 253.5,144.04 254.0,144.09 254.5,144.13 255.0,144.17 255.5,144.21 256.0,144.24 256.5,144.28 257.0,144.31 257.5,144.33 258.0,144.35 258.5,144.37 259.0,144.39 259.5,144.40 260.0,144.41 260.5,144.42 261.0,144.43 261.5,144.44 262.0,144.44 262.5,144.44 263.0,144.45 263.5,144.45 264.0,144.45 264.5,144.45 265.0,144.46 265.5,144.46 266.0,144.46 266.5,144.46 267.0,144.46 267.5,144.46 268.0,144.46 268.5,144.46 269.0,144.46 269.5,144.47 270.0,144.47 270.5,144.47 271.0,144.47 271.5,144.47 272.0,144.47 272.5,144.47 273.0,144.47 273.5,144.47 274.0,144.47 274.5,144.47"/>
<text x="260.9" y="141.6" font-size="11" text-anchor="middle" fill="#2c3aa0">60.0</text>
<polyline fill="none" stroke="#2cc0d4" stroke-width="1.8" stroke-linejoin="round" points="39.5,162.99 40.0,162.99 40.5,162.99 41.0,162.99 41.5,162.99 42.0,162.99 42.5,162.99 43.0,162.99 43.5,162.98 44.0,162.98 44.5,162.98 45.0,162.98 45.5,162.98 46.0,162.98 46.5,162.98 47.0,162.98 47.5,162.98 48.0,162.98 48.5,162.98 49.0,162.98 49.5,162.98 50.0,162.98 50.5,162.98 51.0,162.98 51.5,162.98 52.0,162.98 52.5,162.98 53.0,162.98 53.5,162.98 54.0,162.98 54.5,162.98 55.0,162.98 55.5,162.98 56.0,162.97 56.5,162.97 57.0,162.97 57.5,162.97 58.0,162.97 58.5,162.97 59.0,162.97 59.5,162.97 60.0,162.97 60.5,162.96 61.0,162.96 61.5,162.96 62.0,162.96 62.5,162.96 63.0,162.95 63.5,162.95 64.0,162.94 64.5,162.94 65.0,162.94 65.5,162.93 66.0,162.92 66.5,162.91 67.0,162.90 67.5,162.88 68.0,162.87 68.5,162.84 69.0,162.80 69.5,162.74 70.0,162.66 70.5,162.51 71.0,162.18 71.5,161.17 72.0,158.19 72.5,154.12 73.0,156.33 73.5,160.22 74.0,161.78 74.5,162.17 75.0,162.23 75.5,162.17 76.0,162.04 76.5,161.92 77.0,161.85 77.5,161.88 78.0,162.00 78.5,162.18 79.0,162.37 79.5,162.54 80.0,162.67 80.5,162.75 81.0,162.80 81.5,162.83 82.0,162.84 82.5,162.84 83.0,162.84 83.5,162.83 84.0,162.81 84.5,162.79 85.0,162.76 85.5,162.70 86.0,162.60 86.5,162.43 87.0,162.15 87.5,161.72 88.0,161.10 88.5,160.29 89.0,159.32 89.5,158.31 90.0,157.42 90.5,156.86 91.0,156.81 91.5,157.28 92.0,158.12 92.5,159.12 93.0,160.10 93.5,160.95 94.0,161.61 94.5,162.08 95.0,162.39 95.5,162.58 96.0,162.69 96.5,162.76 97.0,162.80 97.5,162.83 98.0,162.84 98.5,162.86 99.0,162.87 99.5,162.88 100.0,162.89 100.5,162.89 101.0,162.90 101.5,162.90 102.0,162.91 102.5,162.91 103.0,162.92 103.5,162.92 104.0,162.92 104.5,162.92 105.0,162.92 105.5,162.92 106.0,162.93 106.5,162.93 107.0,162.93 107.5,162.93 108.0,162.93 108.5,162.93 109.0,162.93 109.5,162.93 110.0,162.93 110.5,162.93 111.0,162.92 111.5,162.92 112.0,162.92 112.5,162.92 113.0,162.92 113.5,162.92 114.0,162.92 114.5,162.91 115.0,162.91 115.5,162.91 116.0,162.91 116.5,162.90 117.0,162.90 117.5,162.90 118.0,162.89 118.5,162.89 119.0,162.88 119.5,162.88 120.0,162.87 120.5,162.87 121.0,162.86 121.5,162.85 122.0,162.84 122.5,162.84 123.0,162.82 123.5,162.81 124.0,162.80 124.5,162.78 125.0,162.77 125.5,162.74 126.0,162.71 126.5,162.67 127.0,162.61 127.5,162.52 128.0,162.39 128.5,162.21 129.0,161.95 129.5,161.60 130.0,161.15 130.5,160.59 131.0,159.94 131.5,159.24 132.0,158.54 132.5,157.91 133.0,157.43 133.5,157.17 134.0,157.18 134.5,157.40 135.0,157.73 135.5,158.01 136.0,158.09 136.5,157.78 137.0,156.94 137.5,155.48 138.0,153.47 138.5,151.11 139.0,148.80 139.5,147.07 140.0,146.46 140.5,147.22 141.0,149.13 141.5,151.67 142.0,154.32 142.5,156.72 143.0,158.66 143.5,160.09 144.0,161.05 144.5,161.66 145.0,162.03 145.5,162.25 146.0,162.38 146.5,162.46 147.0,162.52 147.5,162.56 148.0,162.59 148.5,162.61 149.0,162.64 149.5,162.65 150.0,162.66 150.5,162.67 151.0,162.68 151.5,162.69 152.0,162.69 152.5,162.69 153.0,162.69 153.5,162.69 154.0,162.68 154.5,162.67 155.0,162.66 155.5,162.65 156.0,162.63 156.5,162.61 157.0,162.59 157.5,162.56 158.0,162.52 158.5,162.47 159.0,162.40 159.5,162.31 160.0,162.16 160.5,161.92 161.0,161.56 161.5,161.00 162.0,160.18 162.5,159.05 163.0,157.56 163.5,155.74 164.0,153.66 164.5,151.51 165.0,149.53 165.5,148.04 166.0,147.34 166.5,147.61 167.0,148.77 167.5,150.54 168.0,152.60 168.5,154.65 169.0,156.47 169.5,157.92 170.0,158.92 170.5,159.44 171.0,159.48 171.5,159.03 172.0,158.14 172.5,156.84 173.0,155.21 173.5,153.42 174.0,151.65 174.5,150.19 175.0,149.33 175.5,149.27 176.0,150.04 176.5,151.46 177.0,153.25 177.5,155.15 178.0,156.93 178.5,158.48 179.0,159.72 179.5,160.66 180.0,161.33 180.5,161.78 181.0,162.08 181.5,162.27 182.0,162.39 182.5,162.47 183.0,162.52 183.5,162.57 184.0,162.60 184.5,162.62 185.0,162.64 185.5,162.66 186.0,162.68 186.5,162.69 187.0,162.70 187.5,162.71 188.0,162.71 188.5,162.72 189.0,162.72 189.5,162.72 190.0,162.72 190.5,162.72 191.0,162.71 191.5,162.71 192.0,162.70 192.5,162.69 193.0,162.67 193.5,162.65 194.0,162.62 194.5,162.58 195.0,162.52 195.5,162.44 196.0,162.31 196.5,162.12 197.0,161.85 197.5,161.48 198.0,160.99 198.5,160.35 199.0,159.57 199.5,158.64 200.0,157.62 200.5,156.55 201.0,155.52 201.5,154.63 202.0,153.99 202.5,153.71 203.0,153.83 203.5,154.34 204.0,155.14 204.5,156.13 205.0,157.19 205.5,158.24 206.0,159.21 206.5,160.05 207.0,160.74 207.5,161.29 208.0,161.71 208.5,162.01 209.0,162.22 209.5,162.37 210.0,162.46 210.5,162.52 211.0,162.56 211.5,162.58 212.0,162.58 212.5,162.58 213.0,162.56 213.5,162.54 214.0,162.51 214.5,162.46 215.0,162.41 215.5,162.34 216.0,162.26 216.5,162.16 217.0,162.05 217.5,161.93 218.0,161.80 218.5,161.65 219.0,161.49 219.5,161.32 220.0,161.15 220.5,160.97 221.0,160.79 221.5,160.63 222.0,160.47 222.5,160.33 223.0,160.21 223.5,160.12 224.0,160.06 224.5,160.03 225.0,160.05 225.5,160.10 226.0,160.18 226.5,160.29 227.0,160.43 227.5,160.58 228.0,160.75 228.5,160.93 229.0,161.11 229.5,161.29 230.0,161.47 230.5,161.64 231.0,161.79 231.5,161.94 232.0,162.08 232.5,162.20 233.0,162.30 233.5,162.40 234.0,162.48 234.5,162.55 235.0,162.61 235.5,162.66 236.0,162.70 236.5,162.74 237.0,162.76 237.5,162.79 238.0,162.80 238.5,162.81 239.0,162.82 239.5,162.83 240.0,162.83 240.5,162.83 241.0,162.82 241.5,162.81 242.0,162.80 242.5,162.78 243.0,162.76 243.5,162.73 244.0,162.70 244.5,162.67 245.0,162.64 245.5,162.60 246.0,162.56 246.5,162.52 247.0,162.48 247.5,162.45 248.0,162.41 248.5,162.38 249.0,162.36 249.5,162.35 250.0,162.35 250.5,162.35 251.0,162.37 251.5,162.39 252.0,162.42 252.5,162.46 253.0,162.50 253.5,162.54 254.0,162.59 254.5,162.63 255.0,162.67 255.5,162.71 256.0,162.74 256.5,162.78 257.0,162.81 257.5,162.83 258.0,162.85 258.5,162.87 259.0,162.89 259.5,162.90 260.0,162.91 260.5,162.92 261.0,162.93 261.5,162.94 262.0,162.94 262.5,162.95 263.0,162.95 263.5,162.95 264.0,162.95 264.5,162.96 265.0,162.96 265.5,162.96 266.0,162.96 266.5,162.96 267.0,162.96 267.5,162.96 268.0,162.97 268.5,162.97 269.0,162.97 269.5,162.97 270.0,162.97 270.5,162.97 271.0,162.97 271.5,162.97 272.0,162.97 272.5,162.97 273.0,162.97 273.5,162.97 274.0,162.97 274.5,162.97"/>
<text x="260.9" y="158.8" font-size="11" text-anchor="middle" fill="#2cc0d4">58.4</text>
<polyline fill="none" stroke="#1ec832" stroke-width="1.8" stroke-linejoin="round" points="39.5,179.16 40.0,179.16 40.5,179.16 41.0,179.16 41.5,179.16 42.0,179.16 42.5,179.16 43.0,179.16 43.5,179.16 44.0,179.16 44.5,179.16 45.0,179.16 45.5,179.16 46.0,179.16 46.5,179.16 47.0,179.16 47.5,179.16 48.0,179.16 48.5,179.16 49.0,179.16 49.5,179.16 50.0,179.16 50.5,179.16 51.0,179.16 51.5,179.16 52.0,179.16 52.5,179.16 53.0,179.16 53.5,179.15 54.0,179.15 54.5,179.15 55.0,179.15 55.5,179.15 56.0,179.15 56.5,179.15 57.0,179.15 57.5,179.15 58.0,179.15 58.5,179.15 59.0,179.15 59.5,179.15 60.0,179.15 60.5,179.14 61.0,179.14 61.5,179.14 62.0,179.14 62.5,179.14 63.0,179.14 63.5,179.13 64.0,179.13 64.5,179.13 65.0,179.12 65.5,179.12 66.0,179.11 66.5,179.11 67.0,179.10 67.5,179.09 68.0,179.07 68.5,179.05 69.0,179.03 69.5,178.99 70.0,178.93 70.5,178.82 71.0,178.59 71.5,177.88 72.0,175.79 72.5,172.93 73.0,174.47 73.5,177.17 74.0,178.22 74.5,178.45 75.0,178.44 75.5,178.34 76.0,178.23 76.5,178.16 77.0,178.17 77.5,178.27 78.0,178.42 78.5,178.59 79.0,178.75 79.5,178.87 80.0,178.95 80.5,179.01 81.0,179.03 81.5,179.05 82.0,179.05 82.5,179.05 83.0,179.04 83.5,179.03 84.0,179.01 84.5,178.98 85.0,178.92 85.5,178.81 86.0,178.64 86.5,178.38 87.0,178.00 87.5,177.50 88.0,176.91 88.5,176.29 89.0,175.75 89.5,175.40 90.0,175.37 90.5,175.66 91.0,176.17 91.5,176.79 92.0,177.39 92.5,177.91 93.0,178.32 93.5,178.60 94.0,178.79 94.5,178.91 95.0,178.98 95.5,179.02 96.0,179.04 96.5,179.06 97.0,179.07 97.5,179.08 98.0,179.09 98.5,179.09 99.0,179.10 99.5,179.10 100.0,179.11 100.5,179.11 101.0,179.11 101.5,179.11 102.0,179.11 102.5,179.12 103.0,179.12 103.5,179.12 104.0,179.12 104.5,179.12 105.0,179.12 105.5,179.12 106.0,179.12 106.5,179.12 107.0,179.12 107.5,179.12 108.0,179.12 108.5,179.12 109.0,179.12 109.5,179.12 110.0,179.12 110.5,179.12 111.0,179.12 111.5,179.12 112.0,179.12 112.5,179.11 113.0,179.11 113.5,179.11 114.0,179.11 114.5,179.11 115.0,179.11 115.5,179.10 116.0,179.10 116.5,179.10 117.0,179.10 117.5,179.09 118.0,179.09 118.5,179.09 119.0,179.08 119.5,179.08 120.0,179.07 120.5,179.07 121.0,179.06 121.5,179.06 122.0,179.05 122.5,179.04 123.0,179.03 123.5,179.02 124.0,179.01 124.5,178.99 125.0,178.97 125.5,178.95 126.0,178.91 126.5,178.86 127.0,178.79 127.5,178.67 128.0,178.51 128.5,178.29 129.0,177.99 129.5,177.61 130.0,177.14 130.5,176.61 131.0,176.03 131.5,175.47 132.0,174.98 132.5,174.63 133.0,174.47 133.5,174.52 134.0,174.74 134.5,175.03 135.0,175.28 135.5,175.35 136.0,175.13 136.5,174.52 137.0,173.51 137.5,172.15 138.0,170.63 138.5,169.26 139.0,168.41 139.5,168.39 140.0,169.23 140.5,170.70 141.0,172.43 141.5,174.13 142.0,175.59 142.5,176.73 143.0,177.53 143.5,178.06 144.0,178.39 144.5,178.59 145.0,178.70 145.5,178.77 146.0,178.82 146.5,178.85 147.0,178.88 147.5,178.90 148.0,178.91 148.5,178.93 149.0,178.94 149.5,178.94 150.0,178.95 150.5,178.95 151.0,178.96 151.5,178.96 152.0,178.96 152.5,178.96 153.0,178.95 153.5,178.95 154.0,178.94 154.5,178.93 155.0,178.92 155.5,178.91 156.0,178.89 156.5,178.87 157.0,178.85 157.5,178.82 158.0,178.77 158.5,178.71 159.0,178.61 159.5,178.46 160.0,178.22 160.5,177.86 161.0,177.33 161.5,176.59 162.0,175.63 162.5,174.44 163.0,173.09 163.5,171.69 164.0,170.40 164.5,169.43 165.0,168.98 165.5,169.15 166.0,169.90 166.5,171.04 167.0,172.36 167.5,173.66 168.0,174.80 168.5,175.68 169.0,176.23 169.5,176.42 170.0,176.26 170.5,175.76 171.0,174.95 171.5,173.91 172.0,172.74 172.5,171.58 173.0,170.61 173.5,170.04 174.0,170.00 174.5,170.52 175.0,171.46 175.5,172.66 176.0,173.92 176.5,175.12 177.0,176.15 177.5,176.98 178.0,177.60 178.5,178.05 179.0,178.35 179.5,178.55 180.0,178.67 180.5,178.76 181.0,178.81 181.5,178.85 182.0,178.88 182.5,178.90 183.0,178.91 183.5,178.93 184.0,178.94 184.5,178.95 185.0,178.96 185.5,178.96 186.0,178.97 186.5,178.97 187.0,178.98 187.5,178.98 188.0,178.98 188.5,178.98 189.0,178.97 189.5,178.97 190.0,178.97 190.5,178.96 191.0,178.95 191.5,178.94 192.0,178.92 192.5,178.90 193.0,178.87 193.5,178.82 194.0,178.76 194.5,178.66 195.0,178.51 195.5,178.31 196.0,178.02 196.5,177.65 197.0,177.17 197.5,176.59 198.0,175.91 198.5,175.17 199.0,174.40 199.5,173.67 200.0,173.06 200.5,172.65 201.0,172.51 201.5,172.65 202.0,173.06 202.5,173.67 203.0,174.40 203.5,175.16 204.0,175.91 204.5,176.59 205.0,177.17 205.5,177.65 206.0,178.02 206.5,178.30 207.0,178.51 207.5,178.65 208.0,178.75 208.5,178.81 209.0,178.85 209.5,178.88 210.0,178.90 210.5,178.90 211.0,178.91 211.5,178.90 212.0,178.89 212.5,178.88 213.0,178.85 213.5,178.83 214.0,178.79 214.5,178.75 215.0,178.69 215.5,178.63 216.0,178.56 216.5,178.49 217.0,178.40 217.5,178.30 218.0,178.20 218.5,178.09 219.0,177.98 219.5,177.86 220.0,177.75 220.5,177.63 221.0,177.53 221.5,177.43 222.0,177.35 222.5,177.29 223.0,177.25 223.5,177.23 224.0,177.23 224.5,177.26 225.0,177.31 225.5,177.38 226.0,177.46 226.5,177.56 227.0,177.67 227.5,177.79 228.0,177.91 228.5,178.02 229.0,178.14 229.5,178.25 230.0,178.36 230.5,178.46 231.0,178.54 231.5,178.63 232.0,178.70 232.5,178.76 233.0,178.82 233.5,178.86 234.0,178.91 234.5,178.94 235.0,178.97 235.5,178.99 236.0,179.01 236.5,179.02 237.0,179.03 237.5,179.04 238.0,179.05 238.5,179.05 239.0,179.05 239.5,179.05 240.0,179.05 240.5,179.04 241.0,179.03 241.5,179.02 242.0,179.00 242.5,178.98 243.0,178.96 243.5,178.93 244.0,178.90 244.5,178.87 245.0,178.84 245.5,178.80 246.0,178.76 246.5,178.72 247.0,178.68 247.5,178.64 248.0,178.60 248.5,178.58 249.0,178.55 249.5,178.54 250.0,178.54 250.5,178.54 251.0,178.56 251.5,178.58 252.0,178.61 252.5,178.65 253.0,178.69 253.5,178.73 254.0,178.77 254.5,178.81 255.0,178.85 255.5,178.89 256.0,178.93 256.5,178.96 257.0,178.99 257.5,179.02 258.0,179.04 258.5,179.06 259.0,179.07 259.5,179.09 260.0,179.10 260.5,179.11 261.0,179.11 261.5,179.12 262.0,179.12 262.5,179.13 263.0,179.13 263.5,179.13 264.0,179.14 264.5,179.14 265.0,179.14 265.5,179.14 266.0,179.14 266.5,179.14 267.0,179.14 267.5,179.14 268.0,179.14 268.5,179.15 269.0,179.15 269.5,179.15 270.0,179.15 270.5,179.15 271.0,179.15 271.5,179.15 272.0,179.15 272.5,179.15 273.0,179.15 273.5,179.15 274.0,179.15 274.5,179.15"/>
<text x="260.9" y="176.1" font-size="11" text-anchor="middle" fill="#1ec832">52.3</text>
<polyline fill="none" stroke="#a2661e" stroke-width="1.8" stroke-linejoin="round" points="39.5,194.68 40.0,194.68 40.5,194.68 41.0,194.68 41.5,194.68 42.0,194.68 42.5,194.68 43.0,194.68 43.5,194.68 44.0,194.68 44.5,194.68 45.0,194.68 45.5,194.68 46.0,194.68 46.5,194.68 47.0,194.68 47.5,194.68 48.0,194.68 48.5,194.67 49.0,194.67 49.5,194.67 50.0,194.67 50.5,194.67 51.0,194.67 51.5,194.67 52.0,194.67 52.5,194.67 53.0,194.67 53.5,194.67 54.0,194.67 54.5,194.67 55.0,194.67 55.5,194.67 56.0,194.67 56.5,194.67 57.0,194.67 57.5,194.67 58.0,194.67 58.5,194.67 59.0,194.67 59.5,194.67 60.0,194.66 60.5,194.66 61.0,194.66 61.5,194.66 62.0,194.66 62.5,194.66 63.0,194.66 63.5,194.65 64.0,194.65 64.5,194.65 65.0,194.65 65.5,194.64 66.0,194.64 66.5,194.63 67.0,194.62 67.5,194.61 68.0,194.60 68.5,194.58 69.0,194.56 69.5,194.52 70.0,194.45 70.5,194.32 71.0,193.94 71.5,192.75 72.0,190.67 72.5,191.02 73.0,193.00 73.5,193.90 74.0,194.08 74.5,194.05 75.0,193.94 75.5,193.81 76.0,193.72 76.5,193.70 77.0,193.78 77.5,193.92 78.0,194.09 78.5,194.25 79.0,194.37 79.5,194.46 80.0,194.52 80.5,194.55 81.0,194.57 81.5,194.57 82.0,194.57 82.5,194.56 83.0,194.55 83.5,194.54 84.0,194.51 84.5,194.46 85.0,194.37 85.5,194.23 86.0,194.00 86.5,193.66 87.0,193.19 87.5,192.62 88.0,191.99 88.5,191.38 89.0,190.93 89.5,190.76 90.0,190.93 90.5,191.38 91.0,191.99 91.5,192.62 92.0,193.20 92.5,193.66 93.0,194.00 93.5,194.23 94.0,194.38 94.5,194.47 95.0,194.52 95.5,194.55 96.0,194.57 96.5,194.58 97.0,194.59 97.5,194.60 98.0,194.61 98.5,194.61 99.0,194.61 99.5,194.62 100.0,194.62 100.5,194.62 101.0,194.63 101.5,194.63 102.0,194.63 102.5,194.63 103.0,194.63 103.5,194.63 104.0,194.63 104.5,194.63 105.0,194.63 105.5,194.64 106.0,194.64 106.5,194.64 107.0,194.64 107.5,194.63 108.0,194.63 108.5,194.63 109.0,194.63 109.5,194.63 110.0,194.63 110.5,194.63 111.0,194.63 111.5,194.63 112.0,194.63 112.5,194.63 113.0,194.62 113.5,194.62 114.0,194.62 114.5,194.62 115.0,194.62 115.5,194.61 116.0,194.61 116.5,194.61 117.0,194.61 117.5,194.60 118.0,194.60 118.5,194.59 119.0,194.59 119.5,194.58 120.0,194.58 120.5,194.57 121.0,194.57 121.5,194.56 122.0,194.55 122.5,194.54 123.0,194.53 123.5,194.52 124.0,194.50 124.5,194.48 125.0,194.45 125.5,194.42 126.0,194.37 126.5,194.29 127.0,194.18 127.5,194.02 128.0,193.79 128.5,193.49 129.0,193.10 129.5,192.64 130.0,192.10 130.5,191.52 131.0,190.96 131.5,190.46 132.0,190.10 132.5,189.93 133.0,189.97 133.5,190.16 134.0,190.41 134.5,190.58 135.0,190.54 135.5,190.16 136.0,189.33 136.5,188.06 137.0,186.44 137.5,184.72 138.0,183.24 138.5,182.44 139.0,182.61 139.5,183.74 140.0,185.49 140.5,187.47 141.0,189.35 141.5,190.93 142.0,192.14 142.5,192.99 143.0,193.54 143.5,193.87 144.0,194.07 144.5,194.19 145.0,194.26 145.5,194.31 146.0,194.34 146.5,194.37 147.0,194.39 147.5,194.41 148.0,194.42 148.5,194.43 149.0,194.44 149.5,194.45 150.0,194.45 150.5,194.45 151.0,194.45 151.5,194.45 152.0,194.45 152.5,194.45 153.0,194.44 153.5,194.43 154.0,194.42 154.5,194.41 155.0,194.40 155.5,194.38 156.0,194.36 156.5,194.33 157.0,194.29 157.5,194.24 158.0,194.17 158.5,194.05 159.0,193.87 159.5,193.58 160.0,193.15 160.5,192.52 161.0,191.66 161.5,190.55 162.0,189.20 162.5,187.69 163.0,186.16 163.5,184.80 164.0,183.83 164.5,183.46 165.0,183.78 165.5,184.70 166.0,186.01 166.5,187.46 167.0,188.84 167.5,190.00 168.0,190.84 168.5,191.28 169.0,191.32 169.5,190.97 170.0,190.27 170.5,189.29 171.0,188.16 171.5,187.02 172.0,186.07 172.5,185.51 173.0,185.48 173.5,186.00 174.0,186.95 174.5,188.15 175.0,189.42 175.5,190.61 176.0,191.64 176.5,192.47 177.0,193.10 177.5,193.55 178.0,193.85 178.5,194.05 179.0,194.18 179.5,194.26 180.0,194.31 180.5,194.35 181.0,194.38 181.5,194.40 182.0,194.42 182.5,194.43 183.0,194.45 183.5,194.46 184.0,194.46 184.5,194.47 185.0,194.48 185.5,194.48 186.0,194.48 186.5,194.49 187.0,194.49 187.5,194.49 188.0,194.48 188.5,194.48 189.0,194.48 189.5,194.47 190.0,194.46 190.5,194.45 191.0,194.44 191.5,194.42 192.0,194.39 192.5,194.35 193.0,194.30 193.5,194.22 194.0,194.10 194.5,193.93 195.0,193.68 195.5,193.36 196.0,192.93 196.5,192.39 197.0,191.75 197.5,191.02 198.0,190.24 198.5,189.45 199.0,188.74 199.5,188.19 200.0,187.87 200.5,187.83 201.0,188.10 201.5,188.61 202.0,189.30 202.5,190.07 203.0,190.86 203.5,191.60 204.0,192.26 204.5,192.82 205.0,193.26 205.5,193.61 206.0,193.86 206.5,194.04 207.0,194.16 207.5,194.24 208.0,194.29 208.5,194.32 209.0,194.34 209.5,194.34 210.0,194.33 210.5,194.31 211.0,194.29 211.5,194.25 212.0,194.21 212.5,194.15 213.0,194.09 213.5,194.01 214.0,193.92 214.5,193.82 215.0,193.71 215.5,193.58 216.0,193.45 216.5,193.31 217.0,193.16 217.5,193.01 218.0,192.85 218.5,192.70 219.0,192.56 219.5,192.44 220.0,192.33 220.5,192.24 221.0,192.17 221.5,192.14 222.0,192.14 222.5,192.17 223.0,192.23 223.5,192.32 224.0,192.43 224.5,192.55 225.0,192.70 225.5,192.85 226.0,193.00 226.5,193.16 227.0,193.31 227.5,193.46 228.0,193.60 228.5,193.73 229.0,193.85 229.5,193.96 230.0,194.06 230.5,194.14 231.0,194.22 231.5,194.28 232.0,194.34 232.5,194.39 233.0,194.42 233.5,194.46 234.0,194.48 234.5,194.51 235.0,194.52 235.5,194.54 236.0,194.55 236.5,194.56 237.0,194.57 237.5,194.57 238.0,194.58 238.5,194.58 239.0,194.58 239.5,194.59 240.0,194.59 240.5,194.59 241.0,194.59 241.5,194.58 242.0,194.58 242.5,194.58 243.0,194.57 243.5,194.56 244.0,194.55 244.5,194.53 245.0,194.51 245.5,194.49 246.0,194.46 246.5,194.42 247.0,194.38 247.5,194.34 248.0,194.28 248.5,194.23 249.0,194.17 249.5,194.10 250.0,194.03 250.5,193.96 251.0,193.89 251.5,193.83 252.0,193.77 252.5,193.72 253.0,193.69 253.5,193.67 254.0,193.66 254.5,193.67 255.0,193.69 255.5,193.73 256.0,193.78 256.5,193.84 257.0,193.90 257.5,193.97 258.0,194.04 258.5,194.11 259.0,194.18 259.5,194.24 260.0,194.30 260.5,194.36 261.0,194.40 261.5,194.45 262.0,194.48 262.5,194.51 263.0,194.54 263.5,194.56 264.0,194.58 264.5,194.59 265.0,194.61 265.5,194.61 266.0,194.62 266.5,194.63 267.0,194.63 267.5,194.64 268.0,194.64 268.5,194.64 269.0,194.65 269.5,194.65 270.0,194.65 270.5,194.65 271.0,194.65 271.5,194.65 272.0,194.65 272.5,194.66 273.0,194.66 273.5,194.66 274.0,194.66 274.5,194.66"/>
<text x="260.9" y="191.5" font-size="11" text-anchor="middle" fill="#a2661e">47.7</text>
<polyline fill="none" stroke="#1a9090" stroke-width="1.8" stroke-linejoin="round" points="39.5,208.97 40.0,208.97 40.5,208.97 41.0,208.97 41.5,208.97 42.0,208.97 42.5,208.97 43.0,208.97 43.5,208.97 44.0,208.97 44.5,208.97 45.0,208.97 45.5,208.97 46.0,208.97 46.5,208.97 47.0,208.97 47.5,208.97 48.0,208.97 48.5,208.97 49.0,208.97 49.5,208.97 50.0,208.97 50.5,208.97 51.0,208.97 51.5,208.97 52.0,208.97 52.5,208.97 53.0,208.97 53.5,208.97 54.0,208.97 54.5,208.97 55.0,208.96 55.5,208.96 56.0,208.96 56.5,208.96 57.0,208.96 57.5,208.96 58.0,208.96 58.5,208.96 59.0,208.96 59.5,208.96 60.0,208.96 60.5,208.96 61.0,208.96 61.5,208.95 62.0,208.95 62.5,208.95 63.0,208.95 63.5,208.95 64.0,208.94 64.5,208.94 65.0,208.94 65.5,208.93 66.0,208.93 66.5,208.92 67.0,208.91 67.5,208.90 68.0,208.88 68.5,208.86 69.0,208.83 69.5,208.77 70.0,208.68 70.5,208.46 71.0,207.77 71.5,205.90 72.0,204.08 72.5,205.83 73.0,207.60 73.5,208.17 74.0,208.23 74.5,208.15 75.0,208.05 75.5,207.98 76.0,207.99 76.5,208.08 77.0,208.24 77.5,208.41 78.0,208.57 78.5,208.69 79.0,208.77 79.5,208.82 80.0,208.85 80.5,208.87 81.0,208.87 81.5,208.87 82.0,208.86 82.5,208.85 83.0,208.84 83.5,208.81 84.0,208.76 84.5,208.67 85.0,208.53 85.5,208.31 86.0,207.98 86.5,207.54 87.0,207.01 87.5,206.44 88.0,205.92 88.5,205.55 89.0,205.46 89.5,205.67 90.0,206.11 90.5,206.67 91.0,207.23 91.5,207.73 92.0,208.13 92.5,208.41 93.0,208.60 93.5,208.72 94.0,208.79 94.5,208.83 95.0,208.86 95.5,208.87 96.0,208.89 96.5,208.89 97.0,208.90 97.5,208.91 98.0,208.91 98.5,208.91 99.0,208.92 99.5,208.92 100.0,208.92 100.5,208.93 101.0,208.93 101.5,208.93 102.0,208.93 102.5,208.93 103.0,208.93 103.5,208.93 104.0,208.93 104.5,208.93 105.0,208.93 105.5,208.93 106.0,208.93 106.5,208.93 107.0,208.93 107.5,208.93 108.0,208.93 108.5,208.93 109.0,208.93 109.5,208.93 110.0,208.93 110.5,208.93 111.0,208.92 111.5,208.92 112.0,208.92 112.5,208.92 113.0,208.92 113.5,208.92 114.0,208.91 114.5,208.91 115.0,208.91 115.5,208.91 116.0,208.90 116.5,208.90 117.0,208.90 117.5,208.89 118.0,208.89 118.5,208.89 119.0,208.88 119.5,208.88 120.0,208.87 120.5,208.86 121.0,208.86 121.5,208.85 122.0,208.84 122.5,208.83 123.0,208.81 123.5,208.80 124.0,208.78 124.5,208.75 125.0,208.72 125.5,208.67 126.0,208.60 126.5,208.49 127.0,208.34 127.5,208.12 128.0,207.83 128.5,207.45 129.0,206.99 129.5,206.45 130.0,205.86 130.5,205.28 131.0,204.74 131.5,204.34 132.0,204.11 132.5,204.07 133.0,204.18 133.5,204.33 134.0,204.38 134.5,204.18 135.0,203.62 135.5,202.65 136.0,201.34 136.5,199.86 137.0,198.51 137.5,197.69 138.0,197.71 138.5,198.61 139.0,200.15 139.5,201.96 140.0,203.73 140.5,205.25 141.0,206.44 141.5,207.28 142.0,207.83 142.5,208.17 143.0,208.37 143.5,208.50 144.0,208.57 144.5,208.62 145.0,208.65 145.5,208.68 146.0,208.70 146.5,208.72 147.0,208.73 147.5,208.74 148.0,208.75 148.5,208.76 149.0,208.76 149.5,208.77 150.0,208.77 150.5,208.77 151.0,208.77 151.5,208.77 152.0,208.76 152.5,208.76 153.0,208.75 153.5,208.74 154.0,208.73 154.5,208.72 155.0,208.70 155.5,208.68 156.0,208.66 156.5,208.63 157.0,208.59 157.5,208.53 158.0,208.43 158.5,208.29 159.0,208.07 159.5,207.73 160.0,207.22 160.5,206.51 161.0,205.57 161.5,204.40 162.0,203.05 162.5,201.62 163.0,200.27 163.5,199.19 164.0,198.60 164.5,198.64 165.0,199.28 165.5,200.36 166.0,201.64 166.5,202.92 167.0,204.01 167.5,204.80 168.0,205.20 168.5,205.20 169.0,204.81 169.5,204.09 170.0,203.13 170.5,202.08 171.0,201.12 171.5,200.43 172.0,200.20 172.5,200.50 173.0,201.26 173.5,202.32 174.0,203.51 174.5,204.68 175.0,205.73 175.5,206.59 176.0,207.26 176.5,207.75 177.0,208.08 177.5,208.31 178.0,208.45 178.5,208.54 179.0,208.60 179.5,208.64 180.0,208.67 180.5,208.70 181.0,208.72 181.5,208.73 182.0,208.74 182.5,208.75 183.0,208.76 183.5,208.77 184.0,208.77 184.5,208.78 185.0,208.78 185.5,208.78 186.0,208.78 186.5,208.78 187.0,208.78 187.5,208.77 188.0,208.77 188.5,208.76 189.0,208.75 189.5,208.74 190.0,208.73 190.5,208.71 191.0,208.68 191.5,208.63 192.0,208.57 192.5,208.48 193.0,208.35 193.5,208.16 194.0,207.89 194.5,207.54 195.0,207.07 195.5,206.50 196.0,205.82 196.5,205.05 197.0,204.24 197.5,203.44 198.0,202.74 198.5,202.21 199.0,201.93 199.5,201.96 200.0,202.29 200.5,202.86 201.0,203.59 201.5,204.40 202.0,205.20 202.5,205.95 203.0,206.61 203.5,207.16 204.0,207.60 204.5,207.93 205.0,208.18 205.5,208.35 206.0,208.46 206.5,208.54 207.0,208.58 207.5,208.61 208.0,208.62 208.5,208.61 209.0,208.60 209.5,208.58 210.0,208.54 210.5,208.50 211.0,208.45 211.5,208.39 212.0,208.32 212.5,208.23 213.0,208.14 213.5,208.03 214.0,207.92 214.5,207.80 215.0,207.67 215.5,207.54 216.0,207.41 216.5,207.28 217.0,207.15 217.5,207.03 218.0,206.93 218.5,206.84 219.0,206.78 219.5,206.74 220.0,206.73 220.5,206.74 221.0,206.78 221.5,206.85 222.0,206.94 222.5,207.05 223.0,207.17 223.5,207.30 224.0,207.43 224.5,207.57 225.0,207.71 225.5,207.84 226.0,207.97 226.5,208.09 227.0,208.20 227.5,208.30 228.0,208.39 228.5,208.47 229.0,208.54 229.5,208.60 230.0,208.65 230.5,208.69 231.0,208.73 231.5,208.76 232.0,208.79 232.5,208.81 233.0,208.82 233.5,208.84 234.0,208.85 234.5,208.86 235.0,208.86 235.5,208.87 236.0,208.87 236.5,208.88 237.0,208.88 237.5,208.88 238.0,208.88 238.5,208.88 239.0,208.88 239.5,208.87 240.0,208.87 240.5,208.86 241.0,208.85 241.5,208.84 242.0,208.83 242.5,208.81 243.0,208.78 243.5,208.75 244.0,208.72 244.5,208.68 245.0,208.63 245.5,208.57 246.0,208.51 246.5,208.44 247.0,208.36 247.5,208.29 248.0,208.20 248.5,208.12 249.0,208.04 249.5,207.96 250.0,207.89 250.5,207.83 251.0,207.79 251.5,207.76 252.0,207.75 252.5,207.76 253.0,207.79 253.5,207.84 254.0,207.90 254.5,207.97 255.0,208.05 255.5,208.13 256.0,208.21 256.5,208.30 257.0,208.38 257.5,208.45 258.0,208.52 258.5,208.59 259.0,208.65 259.5,208.70 260.0,208.74 260.5,208.78 261.0,208.81 261.5,208.83 262.0,208.86 262.5,208.87 263.0,208.89 263.5,208.90 264.0,208.91 264.5,208.92 265.0,208.92 265.5,208.93 266.0,208.93 266.5,208.93 267.0,208.94 267.5,208.94 268.0,208.94 268.5,208.94 269.0,208.94 269.5,208.95 270.0,208.95 270.5,208.95 271.0,208.95 271.5,208.95 272.0,208.95 272.5,208.95 273.0,208.95 273.5,208.95 274.0,208.95 274.5,208.96"/>
<text x="260.9" y="206.6" font-size="11" text-anchor="middle" fill="#1a9090">43.8</text>
<polyline fill="none" stroke="#3a6cb4" stroke-width="1.8" stroke-linejoin="round" points="39.5,224.07 40.0,224.07 40.5,224.07 41.0,224.07 41.5,224.07 42.0,224.07 42.5,224.07 43.0,224.07 43.5,224.07 44.0,224.07 44.5,224.07 45.0,224.07 45.5,224.07 46.0,224.07 46.5,224.07 47.0,224.07 47.5,224.07 48.0,224.07 48.5,224.07 49.0,224.07 49.5,224.07 50.0,224.07 50.5,224.07 51.0,224.07 51.5,224.07 52.0,224.07 52.5,224.07 53.0,224.07 53.5,224.07 54.0,224.07 54.5,224.07 55.0,224.07 55.5,224.07 56.0,224.07 56.5,224.06 57.0,224.06 57.5,224.06 58.0,224.06 58.5,224.06 59.0,224.06 59.5,224.06 60.0,224.06 60.5,224.06 61.0,224.06 61.5,224.05 62.0,224.05 62.5,224.05 63.0,224.05 63.5,224.05 64.0,224.04 64.5,224.04 65.0,224.03 65.5,224.03 66.0,224.02 66.5,224.01 67.0,224.00 67.5,223.98 68.0,223.96 68.5,223.93 69.0,223.88 69.5,223.79 70.0,223.60 70.5,223.02 71.0,221.32 71.5,218.99 72.0,220.20 72.5,222.34 73.0,223.14 73.5,223.26 74.0,223.20 74.5,223.11 75.0,223.06 75.5,223.09 76.0,223.21 76.5,223.37 77.0,223.55 77.5,223.70 78.0,223.81 78.5,223.89 79.0,223.94 79.5,223.96 80.0,223.98 80.5,223.98 81.0,223.98 81.5,223.98 82.0,223.98 82.5,223.97 83.0,223.95 83.5,223.92 84.0,223.88 84.5,223.80 85.0,223.67 85.5,223.46 86.0,223.17 86.5,222.77 87.0,222.28 87.5,221.76 88.0,221.28 88.5,220.95 89.0,220.86 89.5,221.05 90.0,221.46 90.5,221.97 91.0,222.48 91.5,222.94 92.0,223.30 92.5,223.56 93.0,223.74 93.5,223.84 94.0,223.91 94.5,223.95 95.0,223.97 95.5,223.98 96.0,223.99 96.5,224.00 97.0,224.01 97.5,224.01 98.0,224.02 98.5,224.02 99.0,224.02 99.5,224.02 100.0,224.03 100.5,224.03 101.0,224.03 101.5,224.03 102.0,224.03 102.5,224.03 103.0,224.03 103.5,224.03 104.0,224.03 104.5,224.03 105.0,224.03 105.5,224.03 106.0,224.03 106.5,224.03 107.0,224.03 107.5,224.03 108.0,224.03 108.5,224.03 109.0,224.03 109.5,224.03 110.0,224.03 110.5,224.03 111.0,224.02 111.5,224.02 112.0,224.02 112.5,224.02 113.0,224.02 113.5,224.02 114.0,224.01 114.5,224.01 115.0,224.01 115.5,224.01 116.0,224.00 116.5,224.00 117.0,223.99 117.5,223.99 118.0,223.99 118.5,223.98 119.0,223.98 119.5,223.97 120.0,223.96 120.5,223.95 121.0,223.95 121.5,223.94 122.0,223.93 122.5,223.91 123.0,223.90 123.5,223.88 124.0,223.85 124.5,223.82 125.0,223.77 125.5,223.69 126.0,223.59 126.5,223.43 127.0,223.22 127.5,222.93 128.0,222.55 128.5,222.08 129.0,221.54 129.5,220.96 130.0,220.37 130.5,219.84 131.0,219.43 131.5,219.20 132.0,219.17 132.5,219.29 133.0,219.45 133.5,219.51 134.0,219.33 134.5,218.77 135.0,217.78 135.5,216.41 136.0,214.81 136.5,213.28 137.0,212.24 137.5,212.05 138.0,212.83 138.5,214.35 139.0,216.25 139.5,218.15 140.0,219.83 140.5,221.17 141.0,222.13 141.5,222.77 142.0,223.17 142.5,223.41 143.0,223.55 143.5,223.64 144.0,223.69 144.5,223.73 145.0,223.76 145.5,223.79 146.0,223.80 146.5,223.82 147.0,223.83 147.5,223.84 148.0,223.85 148.5,223.86 149.0,223.86 149.5,223.86 150.0,223.86 150.5,223.86 151.0,223.86 151.5,223.86 152.0,223.85 152.5,223.84 153.0,223.84 153.5,223.83 154.0,223.81 154.5,223.80 155.0,223.78 155.5,223.75 156.0,223.72 156.5,223.68 157.0,223.63 157.5,223.54 158.0,223.40 158.5,223.19 159.0,222.87 159.5,222.39 160.0,221.70 160.5,220.78 161.0,219.63 161.5,218.27 162.0,216.80 162.5,215.37 163.0,214.18 163.5,213.46 164.0,213.36 164.5,213.90 165.0,214.92 165.5,216.20 166.0,217.49 166.5,218.61 167.0,219.42 167.5,219.84 168.0,219.82 168.5,219.40 169.0,218.66 169.5,217.70 170.0,216.70 170.5,215.85 171.0,215.34 171.5,215.33 172.0,215.83 172.5,216.74 173.0,217.88 173.5,219.08 174.0,220.21 174.5,221.18 175.0,221.97 175.5,222.57 176.0,222.99 176.5,223.28 177.0,223.46 177.5,223.58 178.0,223.66 178.5,223.71 179.0,223.75 179.5,223.78 180.0,223.80 180.5,223.81 181.0,223.83 181.5,223.84 182.0,223.85 182.5,223.86 183.0,223.86 183.5,223.87 184.0,223.87 184.5,223.87 185.0,223.87 185.5,223.87 186.0,223.87 186.5,223.86 187.0,223.86 187.5,223.85 188.0,223.84 188.5,223.83 189.0,223.81 189.5,223.79 190.0,223.76 190.5,223.71 191.0,223.64 191.5,223.54 192.0,223.40 192.5,223.19 193.0,222.90 193.5,222.51 194.0,222.01 194.5,221.39 195.0,220.67 195.5,219.87 196.0,219.04 196.5,218.23 197.0,217.53 197.5,217.03 198.0,216.81 198.5,216.90 199.0,217.30 199.5,217.93 200.0,218.70 200.5,219.53 201.0,220.35 201.5,221.10 202.0,221.76 202.5,222.30 203.0,222.72 203.5,223.05 204.0,223.28 204.5,223.44 205.0,223.54 205.5,223.61 206.0,223.64 206.5,223.65 207.0,223.65 207.5,223.63 208.0,223.60 208.5,223.56 209.0,223.51 209.5,223.45 210.0,223.37 210.5,223.29 211.0,223.19 211.5,223.08 212.0,222.97 212.5,222.84 213.0,222.71 213.5,222.57 214.0,222.43 214.5,222.29 215.0,222.16 215.5,222.04 216.0,221.93 216.5,221.84 217.0,221.78 217.5,221.73 218.0,221.72 218.5,221.74 219.0,221.78 219.5,221.85 220.0,221.95 220.5,222.06 221.0,222.19 221.5,222.32 222.0,222.46 222.5,222.61 223.0,222.75 223.5,222.89 224.0,223.02 224.5,223.14 225.0,223.26 225.5,223.36 226.0,223.46 226.5,223.54 227.0,223.62 227.5,223.68 228.0,223.73 228.5,223.78 229.0,223.82 229.5,223.85 230.0,223.88 230.5,223.90 231.0,223.92 231.5,223.93 232.0,223.94 232.5,223.95 233.0,223.96 233.5,223.96 234.0,223.97 234.5,223.97 235.0,223.97 235.5,223.98 236.0,223.98 236.5,223.98 237.0,223.98 237.5,223.97 238.0,223.97 238.5,223.97 239.0,223.96 239.5,223.95 240.0,223.94 240.5,223.92 241.0,223.90 241.5,223.88 242.0,223.85 242.5,223.81 243.0,223.77 243.5,223.71 244.0,223.65 244.5,223.58 245.0,223.50 245.5,223.42 246.0,223.32 246.5,223.22 247.0,223.12 247.5,223.02 248.0,222.91 248.5,222.82 249.0,222.73 249.5,222.66 250.0,222.60 250.5,222.57 251.0,222.56 251.5,222.57 252.0,222.60 252.5,222.66 253.0,222.74 253.5,222.82 254.0,222.92 254.5,223.02 255.0,223.13 255.5,223.23 256.0,223.33 256.5,223.43 257.0,223.52 257.5,223.60 258.0,223.67 258.5,223.73 259.0,223.79 259.5,223.83 260.0,223.87 260.5,223.90 261.0,223.93 261.5,223.95 262.0,223.97 262.5,223.98 263.0,224.00 263.5,224.00 264.0,224.01 264.5,224.02 265.0,224.02 265.5,224.03 266.0,224.03 266.5,224.03 267.0,224.04 267.5,224.04 268.0,224.04 268.5,224.04 269.0,224.04 269.5,224.04 270.0,224.05 270.5,224.05 271.0,224.05 271.5,224.05 272.0,224.05 272.5,224.05 273.0,224.05 273.5,224.05 274.0,224.05 274.5,224.06"/>
<text x="260.9" y="221.8" font-size="11" text-anchor="middle" fill="#3a6cb4">40.8</text>
<polyline fill="none" stroke="#8e8e1a" stroke-width="1.8" stroke-linejoin="round" points="39.5,238.77 40.0,238.77 40.5,238.77 41.0,238.77 41.5,238.77 42.0,238.77 42.5,238.77 43.0,238.77 43.5,238.77 44.0,238.77 44.5,238.77 45.0,238.77 45.5,238.77 46.0,238.77 46.5,238.77 47.0,238.77 47.5,238.77 48.0,238.77 48.5,238.77 49.0,238.77 49.5,238.77 50.0,238.77 50.5,238.77 51.0,238.77 51.5,238.77 52.0,238.77 52.5,238.77 53.0,238.77 53.5,238.77 54.0,238.77 54.5,238.77 55.0,238.77 55.5,238.77 56.0,238.77 56.5,238.76 57.0,238.76 57.5,238.76 58.0,238.76 58.5,238.76 59.0,238.76 59.5,238.76 60.0,238.76 60.5,238.76 61.0,238.76 61.5,238.75 62.0,238.75 62.5,238.75 63.0,238.75 63.5,238.75 64.0,238.74 64.5,238.74 65.0,238.73 65.5,238.73 66.0,238.72 66.5,238.71 67.0,238.70 67.5,238.68 68.0,238.66 68.5,238.62 69.0,238.55 69.5,238.42 70.0,238.05 70.5,236.88 71.0,234.84 71.5,235.17 72.0,237.08 72.5,237.93 73.0,238.08 73.5,238.02 74.0,237.91 74.5,237.81 75.0,237.78 75.5,237.85 76.0,237.98 76.5,238.15 77.0,238.32 77.5,238.45 78.0,238.55 78.5,238.62 79.0,238.65 79.5,238.67 80.0,238.68 80.5,238.68 81.0,238.68 81.5,238.68 82.0,238.67 82.5,238.66 83.0,238.64 83.5,238.61 84.0,238.56 84.5,238.47 85.0,238.32 85.5,238.09 86.0,237.76 86.5,237.30 87.0,236.76 87.5,236.17 88.0,235.63 88.5,235.26 89.0,235.16 89.5,235.38 90.0,235.83 90.5,236.41 91.0,236.99 91.5,237.50 92.0,237.91 92.5,238.20 93.0,238.40 93.5,238.52 94.0,238.59 94.5,238.63 95.0,238.66 95.5,238.67 96.0,238.69 96.5,238.69 97.0,238.70 97.5,238.71 98.0,238.71 98.5,238.72 99.0,238.72 99.5,238.72 100.0,238.72 100.5,238.73 101.0,238.73 101.5,238.73 102.0,238.73 102.5,238.73 103.0,238.73 103.5,238.73 104.0,238.73 104.5,238.73 105.0,238.73 105.5,238.73 106.0,238.73 106.5,238.73 107.0,238.73 107.5,238.73 108.0,238.73 108.5,238.73 109.0,238.73 109.5,238.73 110.0,238.73 110.5,238.73 111.0,238.72 111.5,238.72 112.0,238.72 112.5,238.72 113.0,238.72 113.5,238.72 114.0,238.71 114.5,238.71 115.0,238.71 115.5,238.71 116.0,238.70 116.5,238.70 117.0,238.70 117.5,238.69 118.0,238.69 118.5,238.68 119.0,238.68 119.5,238.67 120.0,238.66 120.5,238.65 121.0,238.65 121.5,238.64 122.0,238.62 122.5,238.61 123.0,238.59 123.5,238.57 124.0,238.54 124.5,238.49 125.0,238.43 125.5,238.33 126.0,238.19 126.5,238.00 127.0,237.74 127.5,237.40 128.0,236.99 128.5,236.51 129.0,235.99 129.5,235.46 130.0,234.99 130.5,234.62 131.0,234.41 131.5,234.38 132.0,234.47 132.5,234.59 133.0,234.61 133.5,234.39 134.0,233.81 134.5,232.82 135.0,231.46 135.5,229.89 136.0,228.40 136.5,227.38 137.0,227.18 137.5,227.93 138.0,229.40 138.5,231.22 139.0,233.06 139.5,234.69 140.0,235.97 140.5,236.90 141.0,237.52 141.5,237.91 142.0,238.14 142.5,238.27 143.0,238.36 143.5,238.41 144.0,238.45 144.5,238.47 145.0,238.50 145.5,238.51 146.0,238.53 146.5,238.54 147.0,238.55 147.5,238.56 148.0,238.56 148.5,238.56 149.0,238.57 149.5,238.57 150.0,238.56 150.5,238.56 151.0,238.56 151.5,238.55 152.0,238.54 152.5,238.53 153.0,238.52 153.5,238.51 154.0,238.49 154.5,238.47 155.0,238.44 155.5,238.40 156.0,238.35 156.5,238.26 157.0,238.13 157.5,237.93 158.0,237.63 158.5,237.17 159.0,236.51 159.5,235.64 160.0,234.54 160.5,233.24 161.0,231.84 161.5,230.48 162.0,229.36 162.5,228.67 163.0,228.58 163.5,229.09 164.0,230.07 164.5,231.30 165.0,232.55 165.5,233.65 166.0,234.46 166.5,234.89 167.0,234.92 167.5,234.56 168.0,233.85 168.5,232.91 169.0,231.87 169.5,230.91 170.0,230.23 170.5,230.00 171.0,230.30 171.5,231.06 172.0,232.13 172.5,233.32 173.0,234.49 173.5,235.53 174.0,236.40 174.5,237.06 175.0,237.55 175.5,237.89 176.0,238.11 176.5,238.25 177.0,238.35 177.5,238.41 178.0,238.45 178.5,238.48 179.0,238.50 179.5,238.52 180.0,238.54 180.5,238.55 181.0,238.56 181.5,238.57 182.0,238.57 182.5,238.58 183.0,238.58 183.5,238.59 184.0,238.59 184.5,238.59 185.0,238.59 185.5,238.59 186.0,238.58 186.5,238.58 187.0,238.57 187.5,238.57 188.0,238.56 188.5,238.54 189.0,238.52 189.5,238.50 190.0,238.46 190.5,238.41 191.0,238.33 191.5,238.21 192.0,238.05 192.5,237.81 193.0,237.50 193.5,237.08 194.0,236.56 194.5,235.93 195.0,235.23 195.5,234.47 196.0,233.71 196.5,233.02 197.0,232.48 197.5,232.17 198.0,232.14 198.5,232.39 199.0,232.89 199.5,233.56 200.0,234.31 200.5,235.07 201.0,235.79 201.5,236.43 202.0,236.97 202.5,237.41 203.0,237.74 203.5,237.99 204.0,238.16 204.5,238.28 205.0,238.36 205.5,238.41 206.0,238.44 206.5,238.46 207.0,238.46 207.5,238.45 208.0,238.44 208.5,238.42 209.0,238.39 209.5,238.35 210.0,238.31 210.5,238.25 211.0,238.19 211.5,238.11 212.0,238.03 212.5,237.94 213.0,237.84 213.5,237.73 214.0,237.62 214.5,237.51 215.0,237.39 215.5,237.28 216.0,237.17 216.5,237.07 217.0,236.99 217.5,236.91 218.0,236.86 218.5,236.83 219.0,236.83 219.5,236.85 220.0,236.89 220.5,236.95 221.0,237.03 221.5,237.12 222.0,237.23 222.5,237.34 223.0,237.46 223.5,237.58 224.0,237.70 224.5,237.81 225.0,237.92 225.5,238.02 226.0,238.11 226.5,238.20 227.0,238.27 227.5,238.34 228.0,238.40 228.5,238.45 229.0,238.49 229.5,238.53 230.0,238.56 230.5,238.58 231.0,238.60 231.5,238.62 232.0,238.63 232.5,238.64 233.0,238.65 233.5,238.66 234.0,238.66 234.5,238.66 235.0,238.67 235.5,238.67 236.0,238.67 236.5,238.66 237.0,238.66 237.5,238.65 238.0,238.64 238.5,238.63 239.0,238.62 239.5,238.60 240.0,238.58 240.5,238.55 241.0,238.51 241.5,238.46 242.0,238.41 242.5,238.35 243.0,238.27 243.5,238.19 244.0,238.09 244.5,237.99 245.0,237.88 245.5,237.76 246.0,237.63 246.5,237.51 247.0,237.39 247.5,237.27 248.0,237.17 248.5,237.08 249.0,237.01 249.5,236.97 250.0,236.96 250.5,236.97 251.0,237.01 251.5,237.08 252.0,237.17 252.5,237.28 253.0,237.39 253.5,237.52 254.0,237.64 254.5,237.77 255.0,237.89 255.5,238.00 256.0,238.11 256.5,238.21 257.0,238.29 257.5,238.37 258.0,238.43 258.5,238.49 259.0,238.53 259.5,238.57 260.0,238.61 260.5,238.63 261.0,238.65 261.5,238.67 262.0,238.68 262.5,238.69 263.0,238.70 263.5,238.71 264.0,238.71 264.5,238.72 265.0,238.72 265.5,238.73 266.0,238.73 266.5,238.73 267.0,238.73 267.5,238.74 268.0,238.74 268.5,238.74 269.0,238.74 269.5,238.74 270.0,238.74 270.5,238.75 271.0,238.75 271.5,238.75 272.0,238.75 272.5,238.75 273.0,238.75 273.5,238.75 274.0,238.75 274.5,238.75"/>
<text x="260.9" y="236.8" font-size="11" text-anchor="middle" fill="#8e8e1a">37.6</text>
<polyline fill="none" stroke="#8e1a24" stroke-width="1.8" stroke-linejoin="round" points="39.5,252.78 40.0,252.78 40.5,252.78 41.0,252.78 41.5,252.78 42.0,252.77 42.5,252.77 43.0,252.77 43.5,252.77 44.0,252.77 44.5,252.77 45.0,252.77 45.5,252.77 46.0,252.77 46.5,252.77 47.0,252.77 47.5,252.77 48.0,252.77 48.5,252.77 49.0,252.77 49.5,252.77 50.0,252.77 50.5,252.77 51.0,252.77 51.5,252.77 52.0,252.77 52.5,252.77 53.0,252.77 53.5,252.77 54.0,252.77 54.5,252.77 55.0,252.77 55.5,252.77 56.0,252.77 56.5,252.77 57.0,252.76 57.5,252.76 58.0,252.76 58.5,252.76 59.0,252.76 59.5,252.76 60.0,252.76 60.5,252.76 61.0,252.76 61.5,252.75 62.0,252.75 62.5,252.75 63.0,252.75 63.5,252.74 64.0,252.74 64.5,252.73 65.0,252.73 65.5,252.72 66.0,252.71 66.5,252.70 67.0,252.68 67.5,252.66 68.0,252.62 68.5,252.56 69.0,252.46 69.5,252.23 70.0,251.48 70.5,249.45 71.0,247.49 71.5,249.38 72.0,251.31 72.5,251.94 73.0,252.01 73.5,251.94 74.0,251.84 74.5,251.77 75.0,251.78 75.5,251.88 76.0,252.04 76.5,252.21 77.0,252.37 77.5,252.49 78.0,252.58 78.5,252.63 79.0,252.66 79.5,252.67 80.0,252.68 80.5,252.68 81.0,252.67 81.5,252.67 82.0,252.65 82.5,252.64 83.0,252.60 83.5,252.55 84.0,252.45 84.5,252.29 85.0,252.03 85.5,251.67 86.0,251.20 86.5,250.64 87.0,250.06 87.5,249.54 88.0,249.22 88.5,249.19 89.0,249.46 89.5,249.94 90.0,250.53 90.5,251.10 91.0,251.59 91.5,251.98 92.0,252.25 92.5,252.43 93.0,252.54 93.5,252.60 94.0,252.64 94.5,252.66 95.0,252.68 95.5,252.69 96.0,252.70 96.5,252.70 97.0,252.71 97.5,252.71 98.0,252.72 98.5,252.72 99.0,252.72 99.5,252.73 100.0,252.73 100.5,252.73 101.0,252.73 101.5,252.73 102.0,252.73 102.5,252.73 103.0,252.73 103.5,252.73 104.0,252.73 104.5,252.73 105.0,252.73 105.5,252.73 106.0,252.73 106.5,252.73 107.0,252.73 107.5,252.73 108.0,252.73 108.5,252.73 109.0,252.73 109.5,252.73 110.0,252.73 110.5,252.73 111.0,252.72 111.5,252.72 112.0,252.72 112.5,252.72 113.0,252.72 113.5,252.71 114.0,252.71 114.5,252.71 115.0,252.71 115.5,252.70 116.0,252.70 116.5,252.69 117.0,252.69 117.5,252.68 118.0,252.68 118.5,252.67 119.0,252.67 119.5,252.66 120.0,252.65 120.5,252.64 121.0,252.63 121.5,252.62 122.0,252.60 122.5,252.59 123.0,252.56 123.5,252.53 124.0,252.49 124.5,252.42 125.0,252.33 125.5,252.20 126.0,252.00 126.5,251.74 127.0,251.38 127.5,250.94 128.0,250.42 128.5,249.84 129.0,249.23 129.5,248.65 130.0,248.17 130.5,247.85 131.0,247.72 131.5,247.75 132.0,247.85 132.5,247.88 133.0,247.69 133.5,247.16 134.0,246.23 134.5,244.96 135.0,243.52 135.5,242.21 136.0,241.42 136.5,241.46 137.0,242.38 137.5,243.93 138.0,245.75 138.5,247.53 139.0,249.05 139.5,250.23 140.0,251.08 140.5,251.63 141.0,251.97 141.5,252.18 142.0,252.30 142.5,252.37 143.0,252.42 143.5,252.45 144.0,252.48 144.5,252.50 145.0,252.52 145.5,252.53 146.0,252.54 146.5,252.55 147.0,252.56 147.5,252.56 148.0,252.57 148.5,252.57 149.0,252.57 149.5,252.57 150.0,252.57 150.5,252.56 151.0,252.56 151.5,252.55 152.0,252.54 152.5,252.53 153.0,252.51 153.5,252.49 154.0,252.47 154.5,252.44 155.0,252.40 155.5,252.35 156.0,252.26 156.5,252.13 157.0,251.92 157.5,251.60 158.0,251.13 158.5,250.47 159.0,249.59 159.5,248.50 160.0,247.24 160.5,245.91 161.0,244.64 161.5,243.64 162.0,243.08 162.5,243.11 163.0,243.69 163.5,244.66 164.0,245.80 164.5,246.91 165.0,247.82 165.5,248.40 166.0,248.60 166.5,248.40 167.0,247.84 167.5,247.03 168.0,246.10 168.5,245.22 169.0,244.59 169.5,244.39 170.0,244.68 170.5,245.41 171.0,246.42 171.5,247.56 172.0,248.68 172.5,249.67 173.0,250.50 173.5,251.14 174.0,251.60 174.5,251.92 175.0,252.13 175.5,252.27 176.0,252.36 176.5,252.42 177.0,252.46 177.5,252.49 178.0,252.51 178.5,252.53 179.0,252.54 179.5,252.55 180.0,252.56 180.5,252.57 181.0,252.58 181.5,252.58 182.0,252.58 182.5,252.59 183.0,252.59 183.5,252.59 184.0,252.59 184.5,252.58 185.0,252.58 185.5,252.57 186.0,252.57 186.5,252.56 187.0,252.55 187.5,252.53 188.0,252.51 188.5,252.49 189.0,252.44 189.5,252.39 190.0,252.30 190.5,252.17 191.0,251.99 191.5,251.74 192.0,251.39 192.5,250.93 193.0,250.37 193.5,249.68 194.0,248.91 194.5,248.08 195.0,247.26 195.5,246.50 196.0,245.91 196.5,245.57 197.0,245.54 197.5,245.82 198.0,246.37 198.5,247.09 199.0,247.91 199.5,248.74 200.0,249.53 200.5,250.23 201.0,250.82 201.5,251.29 202.0,251.66 202.5,251.93 203.0,252.12 203.5,252.25 204.0,252.34 204.5,252.40 205.0,252.43 205.5,252.45 206.0,252.45 206.5,252.45 207.0,252.44 207.5,252.42 208.0,252.39 208.5,252.35 209.0,252.31 209.5,252.26 210.0,252.20 210.5,252.12 211.0,252.04 211.5,251.95 212.0,251.86 212.5,251.75 213.0,251.64 213.5,251.53 214.0,251.41 214.5,251.30 215.0,251.19 215.5,251.09 216.0,251.00 216.5,250.93 217.0,250.87 217.5,250.84 218.0,250.83 218.5,250.84 219.0,250.88 219.5,250.93 220.0,251.01 220.5,251.10 221.0,251.21 221.5,251.32 222.0,251.44 222.5,251.56 223.0,251.67 223.5,251.79 224.0,251.90 224.5,252.00 225.0,252.09 225.5,252.18 226.0,252.26 226.5,252.32 227.0,252.38 227.5,252.44 228.0,252.48 228.5,252.52 229.0,252.55 229.5,252.58 230.0,252.60 230.5,252.61 231.0,252.63 231.5,252.64 232.0,252.65 232.5,252.65 233.0,252.66 233.5,252.66 234.0,252.66 234.5,252.66 235.0,252.66 235.5,252.66 236.0,252.65 236.5,252.64 237.0,252.63 237.5,252.62 238.0,252.60 238.5,252.58 239.0,252.55 239.5,252.52 240.0,252.48 240.5,252.42 241.0,252.36 241.5,252.29 242.0,252.20 242.5,252.11 243.0,252.00 243.5,251.88 244.0,251.76 244.5,251.62 245.0,251.48 245.5,251.35 246.0,251.21 246.5,251.08 247.0,250.97 247.5,250.88 248.0,250.81 248.5,250.77 249.0,250.76 249.5,250.78 250.0,250.84 250.5,250.92 251.0,251.02 251.5,251.14 252.0,251.27 252.5,251.41 253.0,251.55 253.5,251.69 254.0,251.82 254.5,251.95 255.0,252.06 255.5,252.17 256.0,252.26 256.5,252.34 257.0,252.41 257.5,252.47 258.0,252.52 258.5,252.56 259.0,252.60 259.5,252.62 260.0,252.65 260.5,252.66 261.0,252.68 261.5,252.69 262.0,252.70 262.5,252.71 263.0,252.71 263.5,252.72 264.0,252.72 264.5,252.72 265.0,252.73 265.5,252.73 266.0,252.73 266.5,252.74 267.0,252.74 267.5,252.74 268.0,252.74 268.5,252.74 269.0,252.74 269.5,252.75 270.0,252.75 270.5,252.75 271.0,252.75 271.5,252.75 272.0,252.75 272.5,252.75 273.0,252.75 273.5,252.75 274.0,252.76 274.5,252.76"/>
<text x="260.9" y="249.9" font-size="11" text-anchor="middle" fill="#8e1a24">35.3</text>
<polyline fill="none" stroke="#8e2a98" stroke-width="1.8" stroke-linejoin="round" points="39.5,267.78 40.0,267.78 40.5,267.78 41.0,267.78 41.5,267.78 42.0,267.78 42.5,267.77 43.0,267.77 43.5,267.77 44.0,267.77 44.5,267.77 45.0,267.77 45.5,267.77 46.0,267.77 46.5,267.77 47.0,267.77 47.5,267.77 48.0,267.77 48.5,267.77 49.0,267.77 49.5,267.77 50.0,267.77 50.5,267.77 51.0,267.77 51.5,267.77 52.0,267.77 52.5,267.77 53.0,267.77 53.5,267.77 54.0,267.77 54.5,267.77 55.0,267.77 55.5,267.77 56.0,267.77 56.5,267.76 57.0,267.76 57.5,267.76 58.0,267.76 58.5,267.76 59.0,267.76 59.5,267.76 60.0,267.76 60.5,267.76 61.0,267.75 61.5,267.75 62.0,267.75 62.5,267.75 63.0,267.74 63.5,267.74 64.0,267.73 64.5,267.73 65.0,267.72 65.5,267.71 66.0,267.70 66.5,267.68 67.0,267.66 67.5,267.63 68.0,267.58 68.5,267.49 69.0,267.30 69.5,266.71 70.0,264.97 70.5,262.61 71.0,263.85 71.5,266.05 72.0,266.88 72.5,267.02 73.0,266.96 73.5,266.86 74.0,266.78 74.5,266.78 75.0,266.86 75.5,267.01 76.0,267.18 76.5,267.34 77.0,267.47 77.5,267.56 78.0,267.62 78.5,267.65 79.0,267.67 79.5,267.68 80.0,267.68 80.5,267.67 81.0,267.67 81.5,267.65 82.0,267.63 82.5,267.59 83.0,267.52 83.5,267.40 84.0,267.21 84.5,266.93 85.0,266.55 85.5,266.08 86.0,265.56 86.5,265.07 87.0,264.70 87.5,264.56 88.0,264.70 88.5,265.07 89.0,265.56 89.5,266.08 90.0,266.56 90.5,266.94 91.0,267.22 91.5,267.41 92.0,267.53 92.5,267.60 93.0,267.64 93.5,267.67 94.0,267.68 94.5,267.69 95.0,267.70 95.5,267.71 96.0,267.71 96.5,267.72 97.0,267.72 97.5,267.72 98.0,267.72 98.5,267.73 99.0,267.73 99.5,267.73 100.0,267.73 100.5,267.73 101.0,267.73 101.5,267.73 102.0,267.73 102.5,267.73 103.0,267.73 103.5,267.73 104.0,267.73 104.5,267.73 105.0,267.73 105.5,267.73 106.0,267.73 106.5,267.73 107.0,267.73 107.5,267.73 108.0,267.73 108.5,267.73 109.0,267.72 109.5,267.72 110.0,267.72 110.5,267.72 111.0,267.72 111.5,267.71 112.0,267.71 112.5,267.71 113.0,267.71 113.5,267.70 114.0,267.70 114.5,267.70 115.0,267.69 115.5,267.69 116.0,267.68 116.5,267.68 117.0,267.67 117.5,267.67 118.0,267.66 118.5,267.65 119.0,267.64 119.5,267.63 120.0,267.62 120.5,267.61 121.0,267.59 121.5,267.58 122.0,267.55 122.5,267.52 123.0,267.48 123.5,267.42 124.0,267.33 124.5,267.20 125.0,267.02 125.5,266.76 126.0,266.42 126.5,265.97 127.0,265.44 127.5,264.82 128.0,264.16 128.5,263.50 129.0,262.91 129.5,262.45 130.0,262.16 130.5,262.03 131.0,261.95 131.5,261.78 132.0,261.36 132.5,260.59 133.0,259.44 133.5,258.03 134.0,256.63 134.5,255.59 135.0,255.33 135.5,256.01 136.0,257.49 136.5,259.40 137.0,261.37 137.5,263.14 138.0,264.57 138.5,265.62 139.0,266.33 139.5,266.78 140.0,267.05 140.5,267.21 141.0,267.31 141.5,267.37 142.0,267.42 142.5,267.45 143.0,267.47 143.5,267.50 144.0,267.51 144.5,267.53 145.0,267.54 145.5,267.55 146.0,267.55 146.5,267.56 147.0,267.56 147.5,267.56 148.0,267.56 148.5,267.56 149.0,267.56 149.5,267.56 150.0,267.55 150.5,267.54 151.0,267.53 151.5,267.52 152.0,267.51 152.5,267.49 153.0,267.47 153.5,267.44 154.0,267.40 154.5,267.35 155.0,267.27 155.5,267.14 156.0,266.95 156.5,266.65 157.0,266.20 157.5,265.56 158.0,264.70 158.5,263.62 159.0,262.35 159.5,260.98 160.0,259.65 160.5,258.54 161.0,257.87 161.5,257.78 162.0,258.29 162.5,259.25 163.0,260.46 163.5,261.69 164.0,262.77 164.5,263.57 165.0,264.01 165.5,264.05 166.0,263.72 166.5,263.06 167.0,262.16 167.5,261.18 168.0,260.27 168.5,259.62 169.0,259.40 169.5,259.69 170.0,260.41 170.5,261.42 171.0,262.56 171.5,263.67 172.0,264.67 172.5,265.49 173.0,266.13 173.5,266.59 174.0,266.92 174.5,267.13 175.0,267.26 175.5,267.35 176.0,267.41 176.5,267.45 177.0,267.48 177.5,267.50 178.0,267.51 178.5,267.53 179.0,267.54 179.5,267.55 180.0,267.55 180.5,267.56 181.0,267.56 181.5,267.57 182.0,267.57 182.5,267.57 183.0,267.57 183.5,267.56 184.0,267.56 184.5,267.55 185.0,267.55 185.5,267.54 186.0,267.52 186.5,267.51 187.0,267.49 187.5,267.46 188.0,267.43 188.5,267.37 189.0,267.30 189.5,267.18 190.0,267.02 190.5,266.78 191.0,266.45 191.5,266.01 192.0,265.43 192.5,264.71 193.0,263.87 193.5,262.92 194.0,261.91 194.5,260.92 195.0,260.04 195.5,259.38 196.0,259.04 196.5,259.08 197.0,259.49 197.5,260.20 198.0,261.10 198.5,262.10 199.0,263.10 199.5,264.03 200.0,264.85 200.5,265.54 201.0,266.08 201.5,266.50 202.0,266.80 202.5,267.02 203.0,267.16 203.5,267.25 204.0,267.31 204.5,267.34 205.0,267.36 205.5,267.36 206.0,267.35 206.5,267.32 207.0,267.29 207.5,267.25 208.0,267.19 208.5,267.12 209.0,267.05 209.5,266.96 210.0,266.85 210.5,266.74 211.0,266.62 211.5,266.49 212.0,266.35 212.5,266.20 213.0,266.06 213.5,265.92 214.0,265.78 214.5,265.65 215.0,265.54 215.5,265.44 216.0,265.37 216.5,265.33 217.0,265.32 217.5,265.33 218.0,265.38 218.5,265.45 219.0,265.55 219.5,265.67 220.0,265.80 220.5,265.94 221.0,266.09 221.5,266.24 222.0,266.39 222.5,266.53 223.0,266.67 223.5,266.80 224.0,266.92 224.5,267.03 225.0,267.13 225.5,267.21 226.0,267.29 226.5,267.35 227.0,267.41 227.5,267.46 228.0,267.50 228.5,267.53 229.0,267.56 229.5,267.58 230.0,267.60 230.5,267.61 231.0,267.62 231.5,267.63 232.0,267.64 232.5,267.64 233.0,267.65 233.5,267.65 234.0,267.65 234.5,267.65 235.0,267.64 235.5,267.64 236.0,267.63 236.5,267.62 237.0,267.61 237.5,267.59 238.0,267.56 238.5,267.53 239.0,267.50 239.5,267.45 240.0,267.39 240.5,267.33 241.0,267.25 241.5,267.16 242.0,267.06 242.5,266.95 243.0,266.83 243.5,266.70 244.0,266.56 244.5,266.42 245.0,266.29 245.5,266.15 246.0,266.03 246.5,265.93 247.0,265.84 247.5,265.78 248.0,265.76 248.5,265.76 249.0,265.80 249.5,265.86 250.0,265.95 250.5,266.06 251.0,266.19 251.5,266.32 252.0,266.46 252.5,266.60 253.0,266.74 253.5,266.87 254.0,266.99 254.5,267.10 255.0,267.20 255.5,267.29 256.0,267.37 256.5,267.43 257.0,267.49 257.5,267.54 258.0,267.57 258.5,267.61 259.0,267.63 259.5,267.65 260.0,267.67 260.5,267.68 261.0,267.69 261.5,267.70 262.0,267.71 262.5,267.71 263.0,267.72 263.5,267.72 264.0,267.72 264.5,267.73 265.0,267.73 265.5,267.73 266.0,267.73 266.5,267.74 267.0,267.74 267.5,267.74 268.0,267.74 268.5,267.74 269.0,267.75 269.5,267.75 270.0,267.75 270.5,267.75 271.0,267.75 271.5,267.75 272.0,267.75 272.5,267.75 273.0,267.75 273.5,267.75 274.0,267.76 274.5,267.76"/>
<text x="260.9" y="264.4" font-size="11" text-anchor="middle" fill="#8e2a98">31.0</text>
<polyline fill="none" stroke="#8c3cf0" stroke-width="1.8" stroke-linejoin="round" points="39.5,284.87 40.0,284.87 40.5,284.87 41.0,284.87 41.5,284.87 42.0,284.87 42.5,284.87 43.0,284.87 43.5,284.87 44.0,284.87 44.5,284.87 45.0,284.87 45.5,284.87 46.0,284.87 46.5,284.87 47.0,284.87 47.5,284.87 48.0,284.87 48.5,284.87 49.0,284.87 49.5,284.87 50.0,284.87 50.5,284.87 51.0,284.87 51.5,284.87 52.0,284.87 52.5,284.86 53.0,284.86 53.5,284.86 54.0,284.86 54.5,284.86 55.0,284.86 55.5,284.86 56.0,284.86 56.5,284.86 57.0,284.86 57.5,284.86 58.0,284.86 58.5,284.86 59.0,284.86 59.5,284.86 60.0,284.86 60.5,284.85 61.0,284.85 61.5,284.85 62.0,284.85 62.5,284.85 63.0,284.84 63.5,284.84 64.0,284.84 64.5,284.83 65.0,284.83 65.5,284.82 66.0,284.81 66.5,284.79 67.0,284.77 67.5,284.74 68.0,284.68 68.5,284.54 69.0,284.14 69.5,283.15 70.0,282.00 70.5,282.61 71.0,283.83 71.5,284.43 72.0,284.63 72.5,284.71 73.0,284.75 73.5,284.77 74.0,284.79 74.5,284.80 75.0,284.80 75.5,284.80 76.0,284.81 76.5,284.81 77.0,284.80 77.5,284.80 78.0,284.80 78.5,284.79 79.0,284.79 79.5,284.78 80.0,284.77 80.5,284.75 81.0,284.72 81.5,284.68 82.0,284.60 82.5,284.47 83.0,284.27 83.5,283.96 84.0,283.53 84.5,282.99 85.0,282.37 85.5,281.77 86.0,281.29 86.5,281.06 87.0,281.16 87.5,281.55 88.0,282.12 88.5,282.74 89.0,283.32 89.5,283.80 90.0,284.15 90.5,284.40 91.0,284.55 91.5,284.65 92.0,284.70 92.5,284.74 93.0,284.76 93.5,284.77 94.0,284.78 94.5,284.79 95.0,284.79 95.5,284.80 96.0,284.80 96.5,284.81 97.0,284.81 97.5,284.81 98.0,284.81 98.5,284.82 99.0,284.82 99.5,284.82 100.0,284.82 100.5,284.82 101.0,284.82 101.5,284.82 102.0,284.82 102.5,284.82 103.0,284.82 103.5,284.82 104.0,284.82 104.5,284.82 105.0,284.82 105.5,284.81 106.0,284.81 106.5,284.81 107.0,284.81 107.5,284.81 108.0,284.81 108.5,284.81 109.0,284.80 109.5,284.80 110.0,284.80 110.5,284.80 111.0,284.79 111.5,284.79 112.0,284.78 112.5,284.78 113.0,284.78 113.5,284.77 114.0,284.77 114.5,284.76 115.0,284.75 115.5,284.75 116.0,284.74 116.5,284.73 117.0,284.72 117.5,284.71 118.0,284.70 118.5,284.68 119.0,284.67 119.5,284.65 120.0,284.63 120.5,284.60 121.0,284.56 121.5,284.50 122.0,284.42 122.5,284.31 123.0,284.14 123.5,283.91 124.0,283.58 124.5,283.14 125.0,282.58 125.5,281.91 126.0,281.16 126.5,280.35 127.0,279.56 127.5,278.85 128.0,278.30 128.5,277.93 129.0,277.68 129.5,277.41 130.0,276.95 130.5,276.14 131.0,274.93 131.5,273.40 132.0,271.80 132.5,270.55 133.0,270.09 133.5,270.73 134.0,272.35 134.5,274.55 135.0,276.89 135.5,279.04 136.0,280.81 136.5,282.13 137.0,283.04 137.5,283.62 138.0,283.97 138.5,284.18 139.0,284.31 139.5,284.39 140.0,284.45 140.5,284.49 141.0,284.52 141.5,284.55 142.0,284.57 142.5,284.59 143.0,284.60 143.5,284.61 144.0,284.62 144.5,284.63 145.0,284.64 145.5,284.64 146.0,284.64 146.5,284.64 147.0,284.64 147.5,284.64 148.0,284.64 148.5,284.63 149.0,284.63 149.5,284.62 150.0,284.61 150.5,284.59 151.0,284.58 151.5,284.56 152.0,284.53 152.5,284.50 153.0,284.45 153.5,284.38 154.0,284.26 154.5,284.09 155.0,283.82 155.5,283.41 156.0,282.83 156.5,282.04 157.0,281.03 157.5,279.83 158.0,278.50 158.5,277.19 159.0,276.05 159.5,275.28 160.0,275.05 160.5,275.39 161.0,276.18 161.5,277.21 162.0,278.25 162.5,279.10 163.0,279.63 163.5,279.75 164.0,279.47 164.5,278.84 165.0,277.98 165.5,277.08 166.0,276.32 166.5,275.94 167.0,276.05 167.5,276.66 168.0,277.65 168.5,278.83 169.0,280.04 169.5,281.16 170.0,282.11 170.5,282.87 171.0,283.43 171.5,283.83 172.0,284.10 172.5,284.27 173.0,284.39 173.5,284.46 174.0,284.51 174.5,284.54 175.0,284.57 175.5,284.59 176.0,284.60 176.5,284.62 177.0,284.63 177.5,284.64 178.0,284.64 178.5,284.65 179.0,284.65 179.5,284.65 180.0,284.66 180.5,284.65 181.0,284.65 181.5,284.65 182.0,284.65 182.5,284.64 183.0,284.63 183.5,284.62 184.0,284.61 184.5,284.59 185.0,284.57 185.5,284.54 186.0,284.49 186.5,284.43 187.0,284.33 187.5,284.19 188.0,283.99 188.5,283.70 189.0,283.31 189.5,282.79 190.0,282.14 190.5,281.35 191.0,280.45 191.5,279.47 192.0,278.47 192.5,277.55 193.0,276.80 193.5,276.32 194.0,276.21 194.5,276.47 195.0,277.07 195.5,277.90 196.0,278.86 196.5,279.86 197.0,280.81 197.5,281.67 198.0,282.40 198.5,283.00 199.0,283.46 199.5,283.80 200.0,284.04 200.5,284.21 201.0,284.32 201.5,284.40 202.0,284.44 202.5,284.46 203.0,284.46 203.5,284.46 204.0,284.44 204.5,284.41 205.0,284.38 205.5,284.33 206.0,284.27 206.5,284.20 207.0,284.12 207.5,284.03 208.0,283.93 208.5,283.82 209.0,283.70 209.5,283.58 210.0,283.44 210.5,283.31 211.0,283.18 211.5,283.05 212.0,282.93 212.5,282.83 213.0,282.74 213.5,282.67 214.0,282.63 214.5,282.61 215.0,282.62 215.5,282.66 216.0,282.72 216.5,282.80 217.0,282.91 217.5,283.03 218.0,283.15 218.5,283.29 219.0,283.43 219.5,283.56 220.0,283.69 220.5,283.82 221.0,283.94 221.5,284.05 222.0,284.16 222.5,284.25 223.0,284.33 223.5,284.40 224.0,284.46 224.5,284.51 225.0,284.56 225.5,284.60 226.0,284.63 226.5,284.65 227.0,284.67 227.5,284.69 228.0,284.70 228.5,284.71 229.0,284.72 229.5,284.72 230.0,284.73 230.5,284.73 231.0,284.72 231.5,284.72 232.0,284.72 232.5,284.71 233.0,284.69 233.5,284.68 234.0,284.66 234.5,284.63 235.0,284.59 235.5,284.55 236.0,284.50 236.5,284.43 237.0,284.36 237.5,284.27 238.0,284.16 238.5,284.04 239.0,283.91 239.5,283.77 240.0,283.61 240.5,283.45 241.0,283.29 241.5,283.12 242.0,282.96 242.5,282.81 243.0,282.68 243.5,282.57 244.0,282.50 244.5,282.45 245.0,282.45 245.5,282.49 246.0,282.56 246.5,282.66 247.0,282.79 247.5,282.94 248.0,283.10 248.5,283.26 249.0,283.43 249.5,283.60 250.0,283.75 250.5,283.90 251.0,284.04 251.5,284.16 252.0,284.27 252.5,284.36 253.0,284.45 253.5,284.52 254.0,284.57 254.5,284.62 255.0,284.66 255.5,284.69 256.0,284.72 256.5,284.74 257.0,284.75 257.5,284.77 258.0,284.78 258.5,284.79 259.0,284.79 259.5,284.80 260.0,284.80 260.5,284.81 261.0,284.81 261.5,284.82 262.0,284.82 262.5,284.82 263.0,284.82 263.5,284.83 264.0,284.83 264.5,284.83 265.0,284.83 265.5,284.83 266.0,284.84 266.5,284.84 267.0,284.84 267.5,284.84 268.0,284.84 268.5,284.84 269.0,284.84 269.5,284.84 270.0,284.85 270.5,284.85 271.0,284.85 271.5,284.85 272.0,284.85 272.5,284.85 273.0,284.85 273.5,284.85 274.0,284.85 274.5,284.85"/>
<text x="260.9" y="281.0" font-size="11" text-anchor="middle" fill="#8c3cf0">25.2</text>
<polyline fill="none" stroke="#1e2080" stroke-width="1.8" stroke-linejoin="round" points="39.5,302.57 40.0,302.57 40.5,302.57 41.0,302.57 41.5,302.57 42.0,302.57 42.5,302.57 43.0,302.57 43.5,302.57 44.0,302.57 44.5,302.57 45.0,302.57 45.5,302.57 46.0,302.57 46.5,302.57 47.0,302.57 47.5,302.57 48.0,302.57 48.5,302.57 49.0,302.57 49.5,302.57 50.0,302.57 50.5,302.57 51.0,302.57 51.5,302.57 52.0,302.57 52.5,302.57 53.0,302.57 53.5,302.56 54.0,302.56 54.5,302.56 55.0,302.56 55.5,302.56 56.0,302.56 56.5,302.56 57.0,302.56 57.5,302.56 58.0,302.56 58.5,302.56 59.0,302.55 59.5,302.55 60.0,302.55 60.5,302.55 61.0,302.55 61.5,302.54 62.0,302.54 62.5,302.53 63.0,302.53 63.5,302.52 64.0,302.51 64.5,302.50 65.0,302.48 65.5,302.46 66.0,302.42 66.5,302.35 67.0,302.20 67.5,301.78 68.0,300.66 68.5,299.01 69.0,299.29 69.5,300.95 70.0,301.90 70.5,302.23 71.0,302.35 71.5,302.41 72.0,302.45 72.5,302.47 73.0,302.48 73.5,302.49 74.0,302.50 74.5,302.50 75.0,302.50 75.5,302.50 76.0,302.50 76.5,302.50 77.0,302.49 77.5,302.49 78.0,302.48 78.5,302.47 79.0,302.46 79.5,302.44 80.0,302.41 80.5,302.36 81.0,302.28 81.5,302.13 82.0,301.91 82.5,301.56 83.0,301.09 83.5,300.49 84.0,299.81 84.5,299.15 85.0,298.62 85.5,298.36 86.0,298.47 86.5,298.91 87.0,299.54 87.5,300.22 88.0,300.86 88.5,301.39 89.0,301.78 89.5,302.05 90.0,302.22 90.5,302.33 91.0,302.39 91.5,302.43 92.0,302.45 92.5,302.46 93.0,302.47 93.5,302.48 94.0,302.49 94.5,302.50 95.0,302.50 95.5,302.50 96.0,302.51 96.5,302.51 97.0,302.51 97.5,302.51 98.0,302.52 98.5,302.52 99.0,302.52 99.5,302.52 100.0,302.52 100.5,302.52 101.0,302.52 101.5,302.52 102.0,302.52 102.5,302.52 103.0,302.52 103.5,302.52 104.0,302.52 104.5,302.51 105.0,302.51 105.5,302.51 106.0,302.51 106.5,302.51 107.0,302.51 107.5,302.50 108.0,302.50 108.5,302.50 109.0,302.50 109.5,302.49 110.0,302.49 110.5,302.49 111.0,302.48 111.5,302.48 112.0,302.47 112.5,302.47 113.0,302.46 113.5,302.46 114.0,302.45 114.5,302.44 115.0,302.43 115.5,302.42 116.0,302.41 116.5,302.40 117.0,302.39 117.5,302.37 118.0,302.35 118.5,302.33 119.0,302.30 119.5,302.27 120.0,302.22 120.5,302.15 121.0,302.05 121.5,301.90 122.0,301.69 122.5,301.41 123.0,301.02 123.5,300.52 124.0,299.92 124.5,299.23 125.0,298.47 125.5,297.70 126.0,296.97 126.5,296.32 127.0,295.78 127.5,295.29 128.0,294.74 128.5,293.99 129.0,292.93 129.5,291.56 130.0,290.00 130.5,288.52 131.0,287.49 131.5,287.29 132.0,288.12 132.5,289.80 133.0,291.98 133.5,294.28 134.0,296.40 134.5,298.17 135.0,299.53 135.5,300.50 136.0,301.14 136.5,301.55 137.0,301.80 137.5,301.96 138.0,302.05 138.5,302.12 139.0,302.17 139.5,302.20 140.0,302.23 140.5,302.25 141.0,302.27 141.5,302.29 142.0,302.30 142.5,302.31 143.0,302.32 143.5,302.33 144.0,302.34 144.5,302.34 145.0,302.34 145.5,302.34 146.0,302.34 146.5,302.34 147.0,302.33 147.5,302.32 148.0,302.32 148.5,302.31 149.0,302.29 149.5,302.27 150.0,302.25 150.5,302.22 151.0,302.18 151.5,302.12 152.0,302.03 152.5,301.88 153.0,301.66 153.5,301.32 154.0,300.84 154.5,300.16 155.0,299.30 155.5,298.25 156.0,297.07 156.5,295.87 157.0,294.80 157.5,294.01 158.0,293.67 158.5,293.82 159.0,294.38 159.5,295.14 160.0,295.90 160.5,296.47 161.0,296.73 161.5,296.62 162.0,296.16 162.5,295.46 163.0,294.67 163.5,294.00 164.0,293.67 164.5,293.82 165.0,294.44 165.5,295.42 166.0,296.59 166.5,297.79 167.0,298.90 167.5,299.85 168.0,300.60 168.5,301.15 169.0,301.55 169.5,301.81 170.0,301.99 170.5,302.10 171.0,302.17 171.5,302.22 172.0,302.25 172.5,302.28 173.0,302.30 173.5,302.31 174.0,302.33 174.5,302.34 175.0,302.35 175.5,302.35 176.0,302.36 176.5,302.36 177.0,302.37 177.5,302.37 178.0,302.37 178.5,302.36 179.0,302.36 179.5,302.36 180.0,302.35 180.5,302.34 181.0,302.33 181.5,302.32 182.0,302.30 182.5,302.28 183.0,302.24 183.5,302.19 184.0,302.12 184.5,302.01 185.0,301.85 185.5,301.62 186.0,301.31 186.5,300.89 187.0,300.35 187.5,299.68 188.0,298.90 188.5,298.03 189.0,297.13 189.5,296.25 190.0,295.50 190.5,294.96 191.0,294.72 191.5,294.82 192.0,295.25 192.5,295.93 193.0,296.77 193.5,297.67 194.0,298.56 194.5,299.38 195.0,300.09 195.5,300.68 196.0,301.15 196.5,301.50 197.0,301.76 197.5,301.94 198.0,302.06 198.5,302.14 199.0,302.19 199.5,302.23 200.0,302.24 200.5,302.25 201.0,302.25 201.5,302.24 202.0,302.23 202.5,302.21 203.0,302.18 203.5,302.14 204.0,302.09 204.5,302.03 205.0,301.97 205.5,301.89 206.0,301.80 206.5,301.71 207.0,301.61 207.5,301.50 208.0,301.38 208.5,301.26 209.0,301.14 209.5,301.02 210.0,300.90 210.5,300.80 211.0,300.70 211.5,300.62 212.0,300.56 212.5,300.53 213.0,300.52 213.5,300.53 214.0,300.57 214.5,300.63 215.0,300.71 215.5,300.81 216.0,300.92 216.5,301.03 217.0,301.16 217.5,301.28 218.0,301.40 218.5,301.52 219.0,301.64 219.5,301.75 220.0,301.84 220.5,301.93 221.0,302.01 221.5,302.09 222.0,302.15 222.5,302.20 223.0,302.25 223.5,302.29 224.0,302.32 224.5,302.34 225.0,302.36 225.5,302.38 226.0,302.39 226.5,302.40 227.0,302.40 227.5,302.40 228.0,302.40 228.5,302.40 229.0,302.39 229.5,302.37 230.0,302.35 230.5,302.33 231.0,302.29 231.5,302.25 232.0,302.20 232.5,302.13 233.0,302.06 233.5,301.97 234.0,301.86 234.5,301.74 235.0,301.61 235.5,301.47 236.0,301.31 236.5,301.15 237.0,300.99 237.5,300.82 238.0,300.66 238.5,300.51 239.0,300.38 239.5,300.27 240.0,300.20 240.5,300.16 241.0,300.15 241.5,300.19 242.0,300.26 242.5,300.36 243.0,300.49 243.5,300.64 244.0,300.80 244.5,300.97 245.0,301.13 245.5,301.30 246.0,301.46 246.5,301.61 247.0,301.74 247.5,301.86 248.0,301.97 248.5,302.07 249.0,302.15 249.5,302.22 250.0,302.28 250.5,302.32 251.0,302.36 251.5,302.40 252.0,302.42 252.5,302.44 253.0,302.46 253.5,302.47 254.0,302.48 254.5,302.49 255.0,302.50 255.5,302.50 256.0,302.51 256.5,302.51 257.0,302.52 257.5,302.52 258.0,302.52 258.5,302.52 259.0,302.53 259.5,302.53 260.0,302.53 260.5,302.53 261.0,302.54 261.5,302.54 262.0,302.54 262.5,302.54 263.0,302.54 263.5,302.54 264.0,302.54 264.5,302.55 265.0,302.55 265.5,302.55 266.0,302.55 266.5,302.55 267.0,302.55 267.5,302.55 268.0,302.55 268.5,302.55 269.0,302.55 269.5,302.55 270.0,302.56 270.5,302.56 271.0,302.56 271.5,302.56 272.0,302.56 272.5,302.56 273.0,302.56 273.5,302.56 274.0,302.56 274.5,302.56"/>
<text x="260.9" y="299.7" font-size="11" text-anchor="middle" fill="#1e2080">16.6</text>
<polyline fill="none" stroke="#1e8c1e" stroke-width="1.8" stroke-linejoin="round" points="39.5,319.76 40.0,319.76 40.5,319.76 41.0,319.76 41.5,319.76 42.0,319.76 42.5,319.76 43.0,319.76 43.5,319.76 44.0,319.76 44.5,319.76 45.0,319.76 45.5,319.76 46.0,319.76 46.5,319.76 47.0,319.76 47.5,319.76 48.0,319.76 48.5,319.76 49.0,319.76 49.5,319.75 50.0,319.75 50.5,319.75 51.0,319.75 51.5,319.75 52.0,319.75 52.5,319.75 53.0,319.75 53.5,319.75 54.0,319.75 54.5,319.75 55.0,319.75 55.5,319.75 56.0,319.75 56.5,319.75 57.0,319.74 57.5,319.74 58.0,319.74 58.5,319.74 59.0,319.74 59.5,319.73 60.0,319.73 60.5,319.73 61.0,319.72 61.5,319.72 62.0,319.71 62.5,319.70 63.0,319.69 63.5,319.68 64.0,319.66 64.5,319.63 65.0,319.59 65.5,319.52 66.0,319.38 66.5,318.99 67.0,317.89 67.5,315.96 68.0,315.64 68.5,317.54 69.0,318.84 69.5,319.32 70.0,319.49 70.5,319.56 71.0,319.61 71.5,319.63 72.0,319.65 72.5,319.66 73.0,319.67 73.5,319.67 74.0,319.67 74.5,319.67 75.0,319.67 75.5,319.66 76.0,319.66 76.5,319.65 77.0,319.63 77.5,319.62 78.0,319.60 78.5,319.57 79.0,319.53 79.5,319.49 80.0,319.42 80.5,319.31 81.0,319.13 81.5,318.77 82.0,318.03 82.5,316.72 83.0,314.85 83.5,313.24 84.0,313.46 84.5,315.25 85.0,317.03 85.5,318.22 86.0,318.86 86.5,319.17 87.0,319.34 87.5,319.43 88.0,319.50 88.5,319.54 89.0,319.58 89.5,319.60 90.0,319.63 90.5,319.64 91.0,319.65 91.5,319.67 92.0,319.67 92.5,319.68 93.0,319.69 93.5,319.69 94.0,319.70 94.5,319.70 95.0,319.70 95.5,319.71 96.0,319.71 96.5,319.71 97.0,319.71 97.5,319.71 98.0,319.71 98.5,319.71 99.0,319.71 99.5,319.71 100.0,319.71 100.5,319.71 101.0,319.71 101.5,319.71 102.0,319.71 102.5,319.71 103.0,319.71 103.5,319.71 104.0,319.71 104.5,319.71 105.0,319.71 105.5,319.71 106.0,319.70 106.5,319.70 107.0,319.70 107.5,319.70 108.0,319.70 108.5,319.69 109.0,319.69 109.5,319.69 110.0,319.68 110.5,319.68 111.0,319.68 111.5,319.67 112.0,319.67 112.5,319.66 113.0,319.65 113.5,319.65 114.0,319.64 114.5,319.63 115.0,319.62 115.5,319.61 116.0,319.59 116.5,319.58 117.0,319.56 117.5,319.54 118.0,319.52 118.5,319.49 119.0,319.45 119.5,319.41 120.0,319.35 120.5,319.25 121.0,319.09 121.5,318.81 122.0,318.32 122.5,317.56 123.0,316.43 123.5,314.95 124.0,313.23 124.5,311.48 125.0,310.03 125.5,309.13 126.0,308.72 126.5,308.43 127.0,307.93 127.5,307.11 128.0,306.20 128.5,305.68 129.0,306.05 129.5,307.43 130.0,309.52 130.5,311.86 131.0,314.05 131.5,315.85 132.0,317.18 132.5,318.08 133.0,318.64 133.5,318.97 134.0,319.16 134.5,319.27 135.0,319.34 135.5,319.39 136.0,319.43 136.5,319.46 137.0,319.48 137.5,319.50 138.0,319.52 138.5,319.53 139.0,319.54 139.5,319.55 140.0,319.56 140.5,319.57 141.0,319.57 141.5,319.57 142.0,319.57 142.5,319.57 143.0,319.57 143.5,319.57 144.0,319.56 144.5,319.56 145.0,319.55 145.5,319.54 146.0,319.53 146.5,319.51 147.0,319.49 147.5,319.47 148.0,319.43 148.5,319.38 149.0,319.29 149.5,319.15 150.0,318.90 150.5,318.47 151.0,317.82 151.5,316.90 152.0,315.74 152.5,314.47 153.0,313.28 153.5,312.43 154.0,312.06 154.5,312.03 155.0,312.12 155.5,312.16 156.0,312.16 156.5,312.28 157.0,312.66 157.5,313.20 158.0,313.63 158.5,313.72 159.0,313.33 159.5,312.49 160.0,311.40 160.5,310.38 161.0,309.82 161.5,309.99 162.0,310.91 162.5,312.32 163.0,313.91 163.5,315.43 164.0,316.70 164.5,317.68 165.0,318.36 165.5,318.80 166.0,319.08 166.5,319.24 167.0,319.34 167.5,319.40 168.0,319.44 168.5,319.47 169.0,319.49 169.5,319.51 170.0,319.53 170.5,319.54 171.0,319.55 171.5,319.56 172.0,319.57 172.5,319.57 173.0,319.58 173.5,319.58 174.0,319.58 174.5,319.58 175.0,319.58 175.5,319.58 176.0,319.58 176.5,319.57 177.0,319.57 177.5,319.56 178.0,319.55 178.5,319.54 179.0,319.53 179.5,319.51 180.0,319.49 180.5,319.47 181.0,319.44 181.5,319.39 182.0,319.33 182.5,319.23 183.0,319.07 183.5,318.82 184.0,318.44 184.5,317.88 185.0,317.10 185.5,316.09 186.0,314.84 186.5,313.41 187.0,311.94 187.5,310.59 188.0,309.57 188.5,309.10 189.0,309.30 189.5,310.12 190.0,311.36 190.5,312.81 191.0,314.27 191.5,315.59 192.0,316.70 192.5,317.57 193.0,318.20 193.5,318.64 194.0,318.93 194.5,319.11 195.0,319.22 195.5,319.28 196.0,319.31 196.5,319.31 197.0,319.31 197.5,319.28 198.0,319.24 198.5,319.19 199.0,319.11 199.5,319.02 200.0,318.91 200.5,318.79 201.0,318.64 201.5,318.48 202.0,318.30 202.5,318.12 203.0,317.92 203.5,317.73 204.0,317.54 204.5,317.37 205.0,317.21 205.5,317.08 206.0,316.97 206.5,316.89 207.0,316.83 207.5,316.80 208.0,316.78 208.5,316.78 209.0,316.79 209.5,316.82 210.0,316.87 210.5,316.93 211.0,317.03 211.5,317.15 212.0,317.30 212.5,317.47 213.0,317.65 213.5,317.85 214.0,318.05 214.5,318.24 215.0,318.43 215.5,318.61 216.0,318.77 216.5,318.92 217.0,319.05 217.5,319.16 218.0,319.26 218.5,319.34 219.0,319.40 219.5,319.45 220.0,319.49 220.5,319.53 221.0,319.55 221.5,319.57 222.0,319.59 222.5,319.60 223.0,319.60 223.5,319.61 224.0,319.61 224.5,319.61 225.0,319.61 225.5,319.61 226.0,319.60 226.5,319.59 227.0,319.57 227.5,319.55 228.0,319.53 228.5,319.49 229.0,319.44 229.5,319.38 230.0,319.31 230.5,319.22 231.0,319.11 231.5,318.98 232.0,318.83 232.5,318.67 233.0,318.49 233.5,318.30 234.0,318.10 234.5,317.90 235.0,317.71 235.5,317.54 236.0,317.40 236.5,317.30 237.0,317.24 237.5,317.24 238.0,317.29 238.5,317.38 239.0,317.52 239.5,317.69 240.0,317.87 240.5,318.07 241.0,318.27 241.5,318.47 242.0,318.65 242.5,318.82 243.0,318.97 243.5,319.11 244.0,319.22 244.5,319.32 245.0,319.40 245.5,319.47 246.0,319.52 246.5,319.56 247.0,319.59 247.5,319.62 248.0,319.64 248.5,319.65 249.0,319.67 249.5,319.68 250.0,319.68 250.5,319.69 251.0,319.69 251.5,319.70 252.0,319.70 252.5,319.71 253.0,319.71 253.5,319.71 254.0,319.72 254.5,319.72 255.0,319.72 255.5,319.72 256.0,319.72 256.5,319.73 257.0,319.73 257.5,319.73 258.0,319.73 258.5,319.73 259.0,319.73 259.5,319.73 260.0,319.74 260.5,319.74 261.0,319.74 261.5,319.74 262.0,319.74 262.5,319.74 263.0,319.74 263.5,319.74 264.0,319.74 264.5,319.74 265.0,319.74 265.5,319.74 266.0,319.75 266.5,319.75 267.0,319.75 267.5,319.75 268.0,319.75 268.5,319.75 269.0,319.75 269.5,319.75 270.0,319.75 270.5,319.75 271.0,319.75 271.5,319.75 272.0,319.75 272.5,319.75 273.0,319.75 273.5,319.75 274.0,319.75 274.5,319.75"/>
<text x="260.9" y="317.4" font-size="11" text-anchor="middle" fill="#1e8c1e">10.3</text>
<polyline fill="none" stroke="#ee2cee" stroke-width="1.8" stroke-linejoin="round" points="39.5,343.75 40.0,343.75 40.5,343.75 41.0,343.75 41.5,343.75 42.0,343.75 42.5,343.75 43.0,343.75 43.5,343.75 44.0,343.75 44.5,343.75 45.0,343.75 45.5,343.75 46.0,343.75 46.5,343.75 47.0,343.75 47.5,343.75 48.0,343.75 48.5,343.75 49.0,343.75 49.5,343.75 50.0,343.75 50.5,343.75 51.0,343.75 51.5,343.74 52.0,343.74 52.5,343.74 53.0,343.74 53.5,343.74 54.0,343.74 54.5,343.74 55.0,343.74 55.5,343.74 56.0,343.74 56.5,343.74 57.0,343.73 57.5,343.73 58.0,343.73 58.5,343.73 59.0,343.73 59.5,343.72 60.0,343.72 60.5,343.72 61.0,343.71 61.5,343.70 62.0,343.70 62.5,343.69 63.0,343.67 63.5,343.65 64.0,343.63 64.5,343.59 65.0,343.52 65.5,343.40 66.0,343.07 66.5,342.11 67.0,340.18 67.5,339.21 68.0,341.03 68.5,342.60 69.0,343.23 69.5,343.44 70.0,343.53 70.5,343.59 71.0,343.62 71.5,343.63 72.0,343.65 72.5,343.65 73.0,343.66 73.5,343.66 74.0,343.66 74.5,343.65 75.0,343.65 75.5,343.64 76.0,343.63 76.5,343.62 77.0,343.60 77.5,343.58 78.0,343.55 78.5,343.51 79.0,343.45 79.5,343.37 80.0,343.25 80.5,343.03 81.0,342.58 81.5,341.70 82.0,340.17 82.5,338.14 83.0,336.69 83.5,337.38 84.0,339.39 84.5,341.17 85.0,342.30 85.5,342.89 86.0,343.18 86.5,343.33 87.0,343.42 87.5,343.49 88.0,343.53 88.5,343.57 89.0,343.60 89.5,343.62 90.0,343.63 90.5,343.65 91.0,343.66 91.5,343.67 92.0,343.67 92.5,343.68 93.0,343.68 93.5,343.69 94.0,343.69 94.5,343.70 95.0,343.70 95.5,343.70 96.0,343.70 96.5,343.70 97.0,343.70 97.5,343.71 98.0,343.71 98.5,343.71 99.0,343.71 99.5,343.71 100.0,343.71 100.5,343.71 101.0,343.71 101.5,343.71 102.0,343.71 102.5,343.71 103.0,343.71 103.5,343.70 104.0,343.70 104.5,343.70 105.0,343.70 105.5,343.70 106.0,343.70 106.5,343.70 107.0,343.69 107.5,343.69 108.0,343.69 108.5,343.69 109.0,343.68 109.5,343.68 110.0,343.68 110.5,343.67 111.0,343.67 111.5,343.66 112.0,343.66 112.5,343.65 113.0,343.64 113.5,343.63 114.0,343.63 114.5,343.61 115.0,343.60 115.5,343.59 116.0,343.57 116.5,343.55 117.0,343.53 117.5,343.51 118.0,343.48 118.5,343.44 119.0,343.39 119.5,343.33 120.0,343.25 120.5,343.15 121.0,343.01 121.5,342.81 122.0,342.48 122.5,341.85 123.0,340.49 123.5,337.82 124.0,333.77 124.5,330.47 125.0,331.64 125.5,335.04 126.0,336.74 126.5,335.24 127.0,330.45 127.5,325.17 128.0,326.20 128.5,332.42 129.0,337.65 129.5,340.51 130.0,341.80 130.5,342.39 131.0,342.72 131.5,342.94 132.0,343.09 132.5,343.20 133.0,343.28 133.5,343.34 134.0,343.39 134.5,343.43 135.0,343.46 135.5,343.49 136.0,343.51 136.5,343.53 137.0,343.54 137.5,343.55 138.0,343.56 138.5,343.57 139.0,343.57 139.5,343.58 140.0,343.58 140.5,343.58 141.0,343.58 141.5,343.58 142.0,343.57 142.5,343.57 143.0,343.56 143.5,343.55 144.0,343.54 144.5,343.53 145.0,343.51 145.5,343.49 146.0,343.46 146.5,343.43 147.0,343.39 147.5,343.33 148.0,343.26 148.5,343.15 149.0,342.99 149.5,342.69 150.0,342.11 150.5,340.99 151.0,339.14 151.5,336.85 152.0,335.58 152.5,336.70 153.0,338.79 153.5,340.33 154.0,340.94 154.5,340.71 155.0,339.86 155.5,338.57 156.0,337.09 156.5,335.68 157.0,334.60 157.5,333.87 158.0,333.18 158.5,332.31 159.0,331.37 159.5,330.85 160.0,331.33 160.5,332.95 161.0,335.25 161.5,337.63 162.0,339.66 162.5,341.17 163.0,342.15 163.5,342.72 164.0,343.04 164.5,343.21 165.0,343.31 165.5,343.37 166.0,343.41 166.5,343.45 167.0,343.48 167.5,343.50 168.0,343.52 168.5,343.53 169.0,343.54 169.5,343.55 170.0,343.56 170.5,343.57 171.0,343.57 171.5,343.58 172.0,343.58 172.5,343.58 173.0,343.58 173.5,343.58 174.0,343.58 174.5,343.57 175.0,343.57 175.5,343.56 176.0,343.55 176.5,343.55 177.0,343.53 177.5,343.52 178.0,343.50 178.5,343.48 179.0,343.46 179.5,343.43 180.0,343.38 180.5,343.32 181.0,343.23 181.5,343.08 182.0,342.83 182.5,342.42 183.0,341.78 183.5,340.83 184.0,339.51 184.5,337.83 185.0,335.87 185.5,333.81 186.0,331.98 186.5,330.74 187.0,330.42 187.5,331.14 188.0,332.66 188.5,334.62 189.0,336.67 189.5,338.54 190.0,340.08 190.5,341.24 191.0,342.06 191.5,342.59 192.0,342.93 192.5,343.13 193.0,343.25 193.5,343.32 194.0,343.37 194.5,343.40 195.0,343.42 195.5,343.44 196.0,343.45 196.5,343.45 197.0,343.44 197.5,343.41 198.0,343.38 198.5,343.32 199.0,343.23 199.5,343.12 200.0,342.97 200.5,342.78 201.0,342.55 201.5,342.29 202.0,342.00 202.5,341.70 203.0,341.41 203.5,341.14 204.0,340.92 204.5,340.77 205.0,340.67 205.5,340.63 206.0,340.61 206.5,340.61 207.0,340.62 207.5,340.62 208.0,340.63 208.5,340.67 209.0,340.76 209.5,340.91 210.0,341.12 210.5,341.38 211.0,341.67 211.5,341.98 212.0,342.27 212.5,342.55 213.0,342.79 213.5,342.99 214.0,343.16 214.5,343.29 215.0,343.39 215.5,343.46 216.0,343.51 216.5,343.55 217.0,343.58 217.5,343.59 218.0,343.61 218.5,343.62 219.0,343.62 219.5,343.63 220.0,343.63 220.5,343.64 221.0,343.64 221.5,343.64 222.0,343.64 222.5,343.64 223.0,343.64 223.5,343.63 224.0,343.63 224.5,343.63 225.0,343.62 225.5,343.61 226.0,343.59 226.5,343.57 227.0,343.54 227.5,343.50 228.0,343.44 228.5,343.36 229.0,343.24 229.5,343.08 230.0,342.88 230.5,342.63 231.0,342.32 231.5,341.98 232.0,341.59 232.5,341.20 233.0,340.81 233.5,340.47 234.0,340.21 234.5,340.06 235.0,340.05 235.5,340.17 236.0,340.42 236.5,340.75 237.0,341.13 237.5,341.52 238.0,341.91 238.5,342.27 239.0,342.58 239.5,342.85 240.0,343.06 240.5,343.23 241.0,343.35 241.5,343.45 242.0,343.51 242.5,343.56 243.0,343.60 243.5,343.62 244.0,343.64 244.5,343.65 245.0,343.66 245.5,343.67 246.0,343.68 246.5,343.68 247.0,343.69 247.5,343.69 248.0,343.70 248.5,343.70 249.0,343.70 249.5,343.71 250.0,343.71 250.5,343.71 251.0,343.71 251.5,343.72 252.0,343.72 252.5,343.72 253.0,343.72 253.5,343.72 254.0,343.73 254.5,343.73 255.0,343.73 255.5,343.73 256.0,343.73 256.5,343.73 257.0,343.73 257.5,343.73 258.0,343.73 258.5,343.74 259.0,343.74 259.5,343.74 260.0,343.74 260.5,343.74 261.0,343.74 261.5,343.74 262.0,343.74 262.5,343.74 263.0,343.74 263.5,343.74 264.0,343.74 264.5,343.74 265.0,343.74 265.5,343.74 266.0,343.74 266.5,343.74 267.0,343.74 267.5,343.75 268.0,343.75 268.5,343.75 269.0,343.75 269.5,343.75 270.0,343.75 270.5,343.75 271.0,343.75 271.5,343.75 272.0,343.75 272.5,343.75 273.0,343.75 273.5,343.75 274.0,343.75 274.5,343.75"/>
<text x="260.9" y="341.5" font-size="11" text-anchor="middle" fill="#ee2cee">6.8</text>
<polyline fill="none" stroke="#2222ee" stroke-width="1.8" stroke-linejoin="round" points="39.5,367.19 40.0,367.19 40.5,367.19 41.0,367.19 41.5,367.19 42.0,367.19 42.5,367.19 43.0,367.19 43.5,367.19 44.0,367.19 44.5,367.19 45.0,367.19 45.5,367.19 46.0,367.19 46.5,367.19 47.0,367.19 47.5,367.19 48.0,367.19 48.5,367.19 49.0,367.19 49.5,367.19 50.0,367.19 50.5,367.19 51.0,367.19 51.5,367.18 52.0,367.18 52.5,367.18 53.0,367.18 53.5,367.18 54.0,367.18 54.5,367.18 55.0,367.18 55.5,367.18 56.0,367.18 56.5,367.18 57.0,367.17 57.5,367.17 58.0,367.17 58.5,367.17 59.0,367.17 59.5,367.16 60.0,367.16 60.5,367.15 61.0,367.15 61.5,367.14 62.0,367.13 62.5,367.12 63.0,367.11 63.5,367.09 64.0,367.06 64.5,367.01 65.0,366.93 65.5,366.76 66.0,366.27 66.5,364.97 67.0,363.07 67.5,363.39 68.0,365.31 68.5,366.41 69.0,366.80 69.5,366.94 70.0,367.00 70.5,367.04 71.0,367.06 71.5,367.08 72.0,367.09 72.5,367.09 73.0,367.10 73.5,367.09 74.0,367.09 74.5,367.09 75.0,367.08 75.5,367.07 76.0,367.05 76.5,367.03 77.0,367.01 77.5,366.97 78.0,366.93 78.5,366.86 79.0,366.76 79.5,366.59 80.0,366.25 80.5,365.56 81.0,364.33 81.5,362.57 82.0,361.05 82.5,361.26 83.0,362.94 83.5,364.62 84.0,365.74 84.5,366.34 85.0,366.63 85.5,366.79 86.0,366.88 86.5,366.94 87.0,366.98 87.5,367.01 88.0,367.04 88.5,367.06 89.0,367.07 89.5,367.08 90.0,367.09 90.5,367.10 91.0,367.11 91.5,367.11 92.0,367.12 92.5,367.12 93.0,367.12 93.5,367.12 94.0,367.13 94.5,367.13 95.0,367.13 95.5,367.13 96.0,367.13 96.5,367.13 97.0,367.13 97.5,367.13 98.0,367.13 98.5,367.13 99.0,367.13 99.5,367.12 100.0,367.12 100.5,367.12 101.0,367.12 101.5,367.12 102.0,367.12 102.5,367.11 103.0,367.11 103.5,367.11 104.0,367.10 104.5,367.10 105.0,367.10 105.5,367.09 106.0,367.09 106.5,367.08 107.0,367.08 107.5,367.07 108.0,367.06 108.5,367.06 109.0,367.05 109.5,367.04 110.0,367.03 110.5,367.02 111.0,367.01 111.5,367.00 112.0,366.98 112.5,366.97 113.0,366.95 113.5,366.93 114.0,366.90 114.5,366.87 115.0,366.84 115.5,366.80 116.0,366.75 116.5,366.68 117.0,366.58 117.5,366.44 118.0,366.24 118.5,365.94 119.0,365.52 119.5,364.94 120.0,364.16 120.5,363.14 121.0,361.85 121.5,360.26 122.0,358.38 122.5,356.25 123.0,353.92 123.5,351.51 124.0,349.18 124.5,347.16 125.0,345.81 125.5,345.53 126.0,346.50 126.5,348.61 127.0,351.43 127.5,354.51 128.0,357.46 128.5,360.03 129.0,362.11 129.5,363.66 130.0,364.75 130.5,365.48 131.0,365.94 131.5,366.24 132.0,366.42 132.5,366.54 133.0,366.62 133.5,366.68 134.0,366.73 134.5,366.76 135.0,366.79 135.5,366.82 136.0,366.84 136.5,366.86 137.0,366.87 137.5,366.89 138.0,366.90 138.5,366.90 139.0,366.91 139.5,366.91 140.0,366.91 140.5,366.91 141.0,366.90 141.5,366.90 142.0,366.89 142.5,366.87 143.0,366.86 143.5,366.83 144.0,366.81 144.5,366.77 145.0,366.71 145.5,366.63 146.0,366.49 146.5,366.23 147.0,365.80 147.5,365.09 148.0,364.03 148.5,362.55 149.0,360.73 149.5,358.76 150.0,356.96 150.5,355.80 151.0,355.66 151.5,356.58 152.0,358.20 152.5,360.08 153.0,361.80 153.5,363.12 154.0,363.89 154.5,364.07 155.0,363.66 155.5,362.71 156.0,361.26 156.5,359.45 157.0,357.47 157.5,355.61 158.0,354.26 158.5,353.77 159.0,354.31 159.5,355.70 160.0,357.61 160.5,359.66 161.0,361.57 161.5,363.18 162.0,364.42 162.5,365.31 163.0,365.90 163.5,366.27 164.0,366.50 164.5,366.63 165.0,366.72 165.5,366.78 166.0,366.82 166.5,366.85 167.0,366.88 167.5,366.90 168.0,366.92 168.5,366.93 169.0,366.94 169.5,366.95 170.0,366.96 170.5,366.97 171.0,366.97 171.5,366.98 172.0,366.98 172.5,366.98 173.0,366.97 173.5,366.97 174.0,366.97 174.5,366.96 175.0,366.95 175.5,366.94 176.0,366.93 176.5,366.91 177.0,366.89 177.5,366.86 178.0,366.82 178.5,366.78 179.0,366.71 179.5,366.59 180.0,366.41 180.5,366.10 181.0,365.60 181.5,364.83 182.0,363.73 182.5,362.24 183.0,360.40 183.5,358.34 184.0,356.30 184.5,354.63 185.0,353.72 185.5,353.82 186.0,354.92 186.5,356.69 187.0,358.75 187.5,360.78 188.0,362.56 188.5,363.97 189.0,365.01 189.5,365.71 190.0,366.16 190.5,366.44 191.0,366.61 191.5,366.71 192.0,366.77 192.5,366.81 193.0,366.84 193.5,366.86 194.0,366.87 194.5,366.88 195.0,366.88 195.5,366.86 196.0,366.84 196.5,366.79 197.0,366.73 197.5,366.63 198.0,366.50 198.5,366.34 199.0,366.14 199.5,365.90 200.0,365.63 200.5,365.35 201.0,365.07 201.5,364.81 202.0,364.59 202.5,364.44 203.0,364.35 203.5,364.32 204.0,364.34 204.5,364.38 205.0,364.41 205.5,364.42 206.0,364.41 206.5,364.38 207.0,364.35 207.5,364.34 208.0,364.38 208.5,364.48 209.0,364.66 209.5,364.89 210.0,365.16 210.5,365.45 211.0,365.73 211.5,366.00 212.0,366.23 212.5,366.43 213.0,366.60 213.5,366.73 214.0,366.82 214.5,366.89 215.0,366.95 215.5,366.98 216.0,367.01 216.5,367.02 217.0,367.04 217.5,367.04 218.0,367.05 218.5,367.05 219.0,367.06 219.5,367.06 220.0,367.06 220.5,367.06 221.0,367.05 221.5,367.05 222.0,367.05 222.5,367.04 223.0,367.03 223.5,367.02 224.0,367.00 224.5,366.98 225.0,366.94 225.5,366.88 226.0,366.80 226.5,366.69 227.0,366.53 227.5,366.33 228.0,366.05 228.5,365.72 229.0,365.32 229.5,364.86 230.0,364.37 230.5,363.87 231.0,363.40 231.5,363.01 232.0,362.75 232.5,362.66 233.0,362.75 233.5,363.01 234.0,363.39 234.5,363.86 235.0,364.36 235.5,364.85 236.0,365.30 236.5,365.70 237.0,366.03 237.5,366.29 238.0,366.48 238.5,366.62 239.0,366.70 239.5,366.75 240.0,366.76 240.5,366.75 241.0,366.71 241.5,366.65 242.0,366.58 242.5,366.51 243.0,366.42 243.5,366.34 244.0,366.26 244.5,366.20 245.0,366.15 245.5,366.13 246.0,366.14 246.5,366.17 247.0,366.23 247.5,366.31 248.0,366.40 248.5,366.49 249.0,366.59 249.5,366.68 250.0,366.76 250.5,366.84 251.0,366.91 251.5,366.96 252.0,367.01 252.5,367.04 253.0,367.07 253.5,367.09 254.0,367.11 254.5,367.12 255.0,367.13 255.5,367.14 256.0,367.14 256.5,367.15 257.0,367.15 257.5,367.15 258.0,367.16 258.5,367.16 259.0,367.16 259.5,367.16 260.0,367.17 260.5,367.17 261.0,367.17 261.5,367.17 262.0,367.17 262.5,367.17 263.0,367.17 263.5,367.17 264.0,367.18 264.5,367.18 265.0,367.18 265.5,367.18 266.0,367.18 266.5,367.18 267.0,367.18 267.5,367.18 268.0,367.18 268.5,367.18 269.0,367.18 269.5,367.18 270.0,367.18 270.5,367.18 271.0,367.18 271.5,367.19 272.0,367.19 272.5,367.19 273.0,367.19 273.5,367.19 274.0,367.19 274.5,367.19"/>
<text x="260.9" y="364.6" font-size="11" text-anchor="middle" fill="#2222ee">4.9</text>
<polyline fill="none" stroke="#ee1c1c" stroke-width="1.8" stroke-linejoin="round" points="39.5,394.93 40.0,394.93 40.5,394.93 41.0,394.93 41.5,394.93 42.0,394.93 42.5,394.93 43.0,394.93 43.5,394.93 44.0,394.93 44.5,394.93 45.0,394.93 45.5,394.93 46.0,394.93 46.5,394.93 47.0,394.93 47.5,394.93 48.0,394.93 48.5,394.93 49.0,394.93 49.5,394.92 50.0,394.92 50.5,394.92 51.0,394.92 51.5,394.92 52.0,394.92 52.5,394.92 53.0,394.92 53.5,394.92 54.0,394.92 54.5,394.92 55.0,394.92 55.5,394.92 56.0,394.91 56.5,394.91 57.0,394.91 57.5,394.91 58.0,394.91 58.5,394.90 59.0,394.90 59.5,394.90 60.0,394.89 60.5,394.89 61.0,394.88 61.5,394.87 62.0,394.86 62.5,394.84 63.0,394.82 63.5,394.79 64.0,394.75 64.5,394.67 65.0,394.52 65.5,394.09 66.0,392.89 66.5,390.79 67.0,390.43 67.5,392.51 68.0,393.92 68.5,394.45 69.0,394.63 69.5,394.72 70.0,394.76 70.5,394.79 71.0,394.81 71.5,394.82 72.0,394.83 72.5,394.83 73.0,394.83 73.5,394.83 74.0,394.82 74.5,394.82 75.0,394.81 75.5,394.79 76.0,394.77 76.5,394.75 77.0,394.72 77.5,394.67 78.0,394.60 78.5,394.50 79.0,394.33 79.5,393.98 80.0,393.21 80.5,391.77 81.0,389.67 81.5,388.07 82.0,388.84 82.5,390.98 83.0,392.73 83.5,393.74 84.0,394.22 84.5,394.45 85.0,394.57 85.5,394.65 86.0,394.70 86.5,394.74 87.0,394.77 87.5,394.79 88.0,394.81 88.5,394.82 89.0,394.83 89.5,394.84 90.0,394.85 90.5,394.85 91.0,394.86 91.5,394.86 92.0,394.86 92.5,394.87 93.0,394.87 93.5,394.87 94.0,394.87 94.5,394.87 95.0,394.87 95.5,394.87 96.0,394.87 96.5,394.87 97.0,394.87 97.5,394.87 98.0,394.87 98.5,394.87 99.0,394.87 99.5,394.87 100.0,394.87 100.5,394.86 101.0,394.86 101.5,394.86 102.0,394.86 102.5,394.86 103.0,394.85 103.5,394.85 104.0,394.85 104.5,394.84 105.0,394.84 105.5,394.84 106.0,394.83 106.5,394.83 107.0,394.82 107.5,394.81 108.0,394.81 108.5,394.80 109.0,394.79 109.5,394.78 110.0,394.78 110.5,394.76 111.0,394.75 111.5,394.74 112.0,394.73 112.5,394.71 113.0,394.69 113.5,394.67 114.0,394.65 114.5,394.62 115.0,394.59 115.5,394.55 116.0,394.50 116.5,394.45 117.0,394.38 117.5,394.29 118.0,394.16 118.5,393.95 119.0,393.61 119.5,393.05 120.0,392.14 120.5,390.75 121.0,388.73 121.5,386.03 122.0,382.69 122.5,378.95 123.0,375.25 123.5,372.22 124.0,370.56 124.5,370.75 125.0,372.73 125.5,375.95 126.0,379.70 126.5,383.39 127.0,386.61 127.5,389.17 128.0,391.05 128.5,392.34 129.0,393.16 129.5,393.67 130.0,393.97 130.5,394.16 131.0,394.28 131.5,394.36 132.0,394.42 132.5,394.47 133.0,394.51 133.5,394.54 134.0,394.57 134.5,394.59 135.0,394.61 135.5,394.63 136.0,394.64 136.5,394.65 137.0,394.66 137.5,394.66 138.0,394.67 138.5,394.67 139.0,394.67 139.5,394.66 140.0,394.66 140.5,394.65 141.0,394.64 141.5,394.63 142.0,394.61 142.5,394.59 143.0,394.56 143.5,394.51 144.0,394.43 144.5,394.30 145.0,394.07 145.5,393.66 146.0,392.98 146.5,391.98 147.0,390.63 147.5,389.07 148.0,387.54 148.5,386.42 149.0,386.10 149.5,386.70 150.0,387.96 150.5,389.44 151.0,390.79 151.5,391.78 152.0,392.28 152.5,392.25 153.0,391.70 153.5,390.60 154.0,388.99 154.5,386.93 155.0,384.61 155.5,382.29 156.0,380.40 156.5,379.36 157.0,379.50 157.5,380.76 158.0,382.81 158.5,385.19 159.0,387.53 159.5,389.57 160.0,391.20 160.5,392.40 161.0,393.21 161.5,393.73 162.0,394.06 162.5,394.25 163.0,394.37 163.5,394.45 164.0,394.51 164.5,394.55 165.0,394.58 165.5,394.60 166.0,394.62 166.5,394.64 167.0,394.66 167.5,394.67 168.0,394.68 168.5,394.68 169.0,394.69 169.5,394.69 170.0,394.69 170.5,394.69 171.0,394.69 171.5,394.69 172.0,394.68 172.5,394.67 173.0,394.66 173.5,394.65 174.0,394.64 174.5,394.62 175.0,394.59 175.5,394.57 176.0,394.53 176.5,394.49 177.0,394.44 177.5,394.37 178.0,394.27 178.5,394.11 179.0,393.84 179.5,393.34 180.0,392.45 180.5,390.92 181.0,388.55 181.5,385.22 182.0,381.11 182.5,376.76 183.0,373.12 183.5,371.33 184.0,372.12 184.5,375.15 185.0,379.35 185.5,383.65 186.0,387.33 186.5,390.08 187.0,391.93 187.5,393.04 188.0,393.67 188.5,394.02 189.0,394.21 189.5,394.32 190.0,394.40 190.5,394.46 191.0,394.50 191.5,394.53 192.0,394.56 192.5,394.58 193.0,394.58 193.5,394.58 194.0,394.56 194.5,394.52 195.0,394.45 195.5,394.34 196.0,394.16 196.5,393.92 197.0,393.61 197.5,393.24 198.0,392.83 198.5,392.42 199.0,392.07 199.5,391.84 200.0,391.77 200.5,391.89 201.0,392.16 201.5,392.52 202.0,392.88 202.5,393.20 203.0,393.44 203.5,393.56 204.0,393.55 204.5,393.42 205.0,393.21 205.5,392.93 206.0,392.65 206.5,392.42 207.0,392.30 207.5,392.33 208.0,392.50 208.5,392.79 209.0,393.13 209.5,393.48 210.0,393.81 210.5,394.09 211.0,394.31 211.5,394.47 212.0,394.59 212.5,394.66 213.0,394.71 213.5,394.75 214.0,394.77 214.5,394.78 215.0,394.79 215.5,394.80 216.0,394.80 216.5,394.80 217.0,394.80 217.5,394.80 218.0,394.80 218.5,394.80 219.0,394.80 219.5,394.80 220.0,394.79 220.5,394.79 221.0,394.78 221.5,394.77 222.0,394.75 222.5,394.73 223.0,394.70 223.5,394.65 224.0,394.58 224.5,394.48 225.0,394.34 225.5,394.16 226.0,393.91 226.5,393.60 227.0,393.22 227.5,392.79 228.0,392.30 228.5,391.80 229.0,391.32 229.5,390.89 230.0,390.57 230.5,390.41 231.0,390.43 231.5,390.62 232.0,390.97 232.5,391.41 233.0,391.90 233.5,392.40 234.0,392.87 234.5,393.29 235.0,393.65 235.5,393.95 236.0,394.18 236.5,394.35 237.0,394.47 237.5,394.55 238.0,394.60 238.5,394.62 239.0,394.62 239.5,394.60 240.0,394.56 240.5,394.51 241.0,394.45 241.5,394.36 242.0,394.27 242.5,394.16 243.0,394.05 243.5,393.93 244.0,393.82 244.5,393.72 245.0,393.64 245.5,393.59 246.0,393.58 246.5,393.60 247.0,393.65 247.5,393.74 248.0,393.84 248.5,393.96 249.0,394.08 249.5,394.20 250.0,394.31 250.5,394.42 251.0,394.51 251.5,394.59 252.0,394.65 252.5,394.70 253.0,394.74 253.5,394.78 254.0,394.80 254.5,394.82 255.0,394.83 255.5,394.84 256.0,394.84 256.5,394.85 257.0,394.85 257.5,394.85 258.0,394.85 258.5,394.84 259.0,394.84 259.5,394.83 260.0,394.82 260.5,394.80 261.0,394.78 261.5,394.74 262.0,394.70 262.5,394.65 263.0,394.58 263.5,394.49 264.0,394.39 264.5,394.28 265.0,394.15 265.5,394.01 266.0,393.87 266.5,393.74 267.0,393.62 267.5,393.52 268.0,393.45 268.5,393.42 269.0,393.43 269.5,393.49 270.0,393.58 270.5,393.69 271.0,393.83 271.5,393.96 272.0,394.10 272.5,394.24 273.0,394.36 273.5,394.47 274.0,394.56 274.5,394.64"/>
<text x="260.9" y="391.5" font-size="11" text-anchor="middle" fill="#ee1c1c">1.8</text>
<polyline fill="none" stroke="#111111" stroke-width="1.8" stroke-linejoin="round" points="39.5,426.18 40.0,426.18 40.5,426.18 41.0,426.18 41.5,426.18 42.0,426.18 42.5,426.18 43.0,426.18 43.5,426.18 44.0,426.18 44.5,426.18 45.0,426.18 45.5,426.17 46.0,426.17 46.5,426.17 47.0,426.17 47.5,426.17 48.0,426.17 48.5,426.17 49.0,426.17 49.5,426.17 50.0,426.17 50.5,426.17 51.0,426.16 51.5,426.16 52.0,426.16 52.5,426.16 53.0,426.16 53.5,426.16 54.0,426.15 54.5,426.15 55.0,426.15 55.5,426.14 56.0,426.14 56.5,426.14 57.0,426.13 57.5,426.12 58.0,426.12 58.5,426.11 59.0,426.10 59.5,426.09 60.0,426.07 60.5,426.05 61.0,426.03 61.5,426.00 62.0,425.95 62.5,425.89 63.0,425.79 63.5,425.63 64.0,425.29 64.5,424.52 65.0,422.94 65.5,420.60 66.0,419.16 66.5,420.59 67.0,422.93 67.5,424.51 68.0,425.28 68.5,425.61 69.0,425.77 69.5,425.86 70.0,425.92 70.5,425.96 71.0,425.99 71.5,426.00 72.0,426.02 72.5,426.02 73.0,426.02 73.5,426.02 74.0,426.01 74.5,426.00 75.0,425.98 75.5,425.96 76.0,425.92 76.5,425.87 77.0,425.79 77.5,425.67 78.0,425.44 78.5,424.95 79.0,423.93 79.5,422.16 80.0,419.99 80.5,419.21 81.0,420.83 81.5,422.96 82.0,424.43 82.5,425.20 83.0,425.56 83.5,425.74 84.0,425.84 84.5,425.91 85.0,425.96 85.5,425.99 86.0,426.02 86.5,426.04 87.0,426.05 87.5,426.06 88.0,426.07 88.5,426.08 89.0,426.09 89.5,426.09 90.0,426.10 90.5,426.10 91.0,426.11 91.5,426.11 92.0,426.11 92.5,426.11 93.0,426.11 93.5,426.11 94.0,426.11 94.5,426.11 95.0,426.11 95.5,426.11 96.0,426.11 96.5,426.11 97.0,426.11 97.5,426.11 98.0,426.11 98.5,426.11 99.0,426.10 99.5,426.10 100.0,426.10 100.5,426.10 101.0,426.09 101.5,426.09 102.0,426.09 102.5,426.08 103.0,426.08 103.5,426.07 104.0,426.07 104.5,426.06 105.0,426.06 105.5,426.05 106.0,426.04 106.5,426.04 107.0,426.03 107.5,426.02 108.0,426.01 108.5,426.00 109.0,425.98 109.5,425.97 110.0,425.95 110.5,425.94 111.0,425.92 111.5,425.89 112.0,425.87 112.5,425.84 113.0,425.81 113.5,425.77 114.0,425.72 114.5,425.67 115.0,425.60 115.5,425.51 116.0,425.39 116.5,425.21 117.0,424.92 117.5,424.45 118.0,423.66 118.5,422.43 119.0,420.56 119.5,417.95 120.0,414.55 120.5,410.50 121.0,406.18 121.5,402.16 122.0,399.23 122.5,398.14 123.0,399.23 123.5,402.15 124.0,406.17 124.5,410.49 125.0,414.53 125.5,417.93 126.0,420.54 126.5,422.40 127.0,423.63 127.5,424.41 128.0,424.88 128.5,425.17 129.0,425.34 129.5,425.46 130.0,425.54 130.5,425.61 131.0,425.65 131.5,425.69 132.0,425.73 132.5,425.75 133.0,425.78 133.5,425.79 134.0,425.81 134.5,425.82 135.0,425.82 135.5,425.83 136.0,425.83 136.5,425.83 137.0,425.82 137.5,425.81 138.0,425.80 138.5,425.78 139.0,425.76 139.5,425.74 140.0,425.70 140.5,425.66 141.0,425.60 141.5,425.53 142.0,425.44 142.5,425.32 143.0,425.16 143.5,424.93 144.0,424.58 144.5,423.96 145.0,422.72 145.5,420.28 146.0,416.05 146.5,410.43 147.0,406.42 147.5,408.27 148.0,413.72 148.5,418.54 149.0,421.51 149.5,422.92 150.0,423.35 150.5,423.13 151.0,422.32 151.5,420.81 152.0,418.52 152.5,415.49 153.0,411.97 153.5,408.50 154.0,405.86 154.5,404.88 155.0,405.93 155.5,408.64 156.0,412.19 156.5,415.80 157.0,418.95 157.5,421.37 158.0,423.07 158.5,424.15 159.0,424.80 159.5,425.17 160.0,425.39 160.5,425.52 161.0,425.61 161.5,425.67 162.0,425.72 162.5,425.76 163.0,425.79 163.5,425.82 164.0,425.85 164.5,425.87 165.0,425.88 165.5,425.90 166.0,425.91 166.5,425.92 167.0,425.92 167.5,425.93 168.0,425.93 168.5,425.93 169.0,425.93 169.5,425.93 170.0,425.93 170.5,425.92 171.0,425.91 171.5,425.90 172.0,425.89 172.5,425.87 173.0,425.85 173.5,425.83 174.0,425.80 174.5,425.76 175.0,425.71 175.5,425.64 176.0,425.55 176.5,425.40 177.0,425.12 177.5,424.63 178.0,423.73 178.5,422.24 179.0,419.96 179.5,416.84 180.0,413.09 180.5,409.27 181.0,406.27 181.5,405.11 182.0,406.27 182.5,409.27 183.0,413.09 183.5,416.84 184.0,419.96 184.5,422.24 185.0,423.74 185.5,424.63 186.0,425.12 186.5,425.40 187.0,425.55 187.5,425.64 188.0,425.71 188.5,425.76 189.0,425.79 189.5,425.82 190.0,425.84 190.5,425.86 191.0,425.87 191.5,425.88 192.0,425.88 192.5,425.88 193.0,425.87 193.5,425.84 194.0,425.79 194.5,425.71 195.0,425.56 195.5,425.33 196.0,425.00 196.5,424.53 197.0,423.95 197.5,423.29 198.0,422.61 198.5,422.02 199.0,421.64 199.5,421.58 200.0,421.82 200.5,422.28 201.0,422.80 201.5,423.25 202.0,423.54 202.5,423.61 203.0,423.46 203.5,423.16 204.0,422.79 204.5,422.48 205.0,422.35 205.5,422.47 206.0,422.83 206.5,423.34 207.0,423.91 207.5,424.45 208.0,424.91 208.5,425.28 209.0,425.54 209.5,425.72 210.0,425.83 210.5,425.90 211.0,425.94 211.5,425.97 212.0,425.98 212.5,425.99 213.0,426.00 213.5,426.01 214.0,426.01 214.5,426.01 215.0,426.01 215.5,426.01 216.0,426.00 216.5,426.00 217.0,425.99 217.5,425.98 218.0,425.97 218.5,425.96 219.0,425.94 219.5,425.92 220.0,425.89 220.5,425.85 221.0,425.78 221.5,425.68 222.0,425.51 222.5,425.26 223.0,424.87 223.5,424.32 224.0,423.56 224.5,422.59 225.0,421.44 225.5,420.17 226.0,418.92 226.5,417.83 227.0,417.12 227.5,416.95 228.0,417.35 228.5,418.23 229.0,419.40 229.5,420.68 230.0,421.91 230.5,423.00 231.0,423.88 231.5,424.55 232.0,425.03 232.5,425.35 233.0,425.56 233.5,425.69 234.0,425.76 234.5,425.80 235.0,425.81 235.5,425.80 236.0,425.77 236.5,425.73 237.0,425.67 237.5,425.60 238.0,425.50 238.5,425.40 239.0,425.27 239.5,425.14 240.0,425.01 240.5,424.88 241.0,424.77 241.5,424.68 242.0,424.62 242.5,424.60 243.0,424.63 243.5,424.69 244.0,424.79 244.5,424.91 245.0,425.04 245.5,425.19 246.0,425.32 246.5,425.46 247.0,425.58 247.5,425.68 248.0,425.77 248.5,425.84 249.0,425.90 249.5,425.95 250.0,425.98 250.5,426.01 251.0,426.03 251.5,426.04 252.0,426.05 252.5,426.06 253.0,426.06 253.5,426.06 254.0,426.06 254.5,426.05 255.0,426.05 255.5,426.04 256.0,426.02 256.5,426.00 257.0,425.97 257.5,425.93 258.0,425.87 258.5,425.80 259.0,425.70 259.5,425.58 260.0,425.42 260.5,425.24 261.0,425.03 261.5,424.79 262.0,424.52 262.5,424.25 263.0,423.97 263.5,423.71 264.0,423.48 264.5,423.30 265.0,423.20 265.5,423.17 266.0,423.23 266.5,423.37 267.0,423.57 267.5,423.82 268.0,424.09 268.5,424.37 269.0,424.64 269.5,424.90 270.0,425.13 270.5,425.33 271.0,425.51 271.5,425.65 272.0,425.76 272.5,425.85 273.0,425.92 273.5,425.98 274.0,426.01 274.5,426.04"/>
<text x="260.9" y="417.1" font-size="11" text-anchor="middle" fill="#111111">0.1</text>
<rect x="39.0" y="38.7" width="236.2" height="395.9" fill="none" stroke="#000" stroke-width="1.9"/>
<line x1="39.0" y1="434.6" x2="39.0" y2="430.6" stroke="#000" stroke-width="1.4"/>
<line x1="98.0" y1="434.6" x2="98.0" y2="430.6" stroke="#000" stroke-width="1.4"/>
<line x1="157.1" y1="434.6" x2="157.1" y2="430.6" stroke="#000" stroke-width="1.4"/>
<line x1="216.2" y1="434.6" x2="216.2" y2="430.6" stroke="#000" stroke-width="1.4"/>
<line x1="275.2" y1="434.6" x2="275.2" y2="430.6" stroke="#000" stroke-width="1.4"/>
<line x1="68.5" y1="434.6" x2="68.5" y2="432.4" stroke="#000" stroke-width="1.3"/>
<line x1="127.6" y1="434.6" x2="127.6" y2="432.4" stroke="#000" stroke-width="1.3"/>
<line x1="186.6" y1="434.6" x2="186.6" y2="432.4" stroke="#000" stroke-width="1.3"/>
<line x1="245.7" y1="434.6" x2="245.7" y2="432.4" stroke="#000" stroke-width="1.3"/>
<line x1="39.0" y1="66.8" x2="41.0" y2="66.8" stroke="#000" stroke-width="1.4"/>
<line x1="39.0" y1="138.8" x2="43.0" y2="138.8" stroke="#000" stroke-width="1.4"/>
<line x1="39.0" y1="210.6" x2="41.0" y2="210.6" stroke="#000" stroke-width="1.4"/>
<line x1="39.0" y1="282.5" x2="43.0" y2="282.5" stroke="#000" stroke-width="1.4"/>
<line x1="39.0" y1="353.9" x2="41.0" y2="353.9" stroke="#000" stroke-width="1.4"/>
<line x1="39.0" y1="425.7" x2="43.0" y2="425.7" stroke="#000" stroke-width="1.4"/>
<text x="39.0" y="452" font-size="16" text-anchor="middle">5</text>
<text x="98.0" y="452" font-size="16" text-anchor="middle">10</text>
<text x="157.1" y="452" font-size="16" text-anchor="middle">15</text>
<text x="216.2" y="452" font-size="16" text-anchor="middle">20</text>
<text x="275.2" y="452" font-size="16" text-anchor="middle">25</text>
<text x="177.5" y="54.2" font-size="13.8">Pressure (GPa)</text>
<text x="99.3" y="474.6" font-size="22.3">2θ (degree)</text>
<text transform="translate(23.2 304.5) rotate(-90)" font-size="22.6">Intensity(a.u.)</text>
<text transform="translate(-0.30 21.06) scale(0.721 1)" font-size="27.75" stroke="#000" stroke-width="0.2">(</text><text transform="translate(8.47 21.54) scale(0.816 1)" font-size="26.09" stroke="#000" stroke-width="0.2">a</text><text transform="translate(23.88 21.06) scale(0.721 1)" font-size="27.75" stroke="#000" stroke-width="0.2">)</text>
<clipPath id="cb"><rect x="351.0" y="39.6" width="219.0" height="173.5"/></clipPath><g clip-path="url(#cb)">
<polyline fill="none" stroke="#555555" stroke-width="1.7" points="351.3,67.0 355.9,75.8 364.4,91.8 369.6,100.7 379.2,113.6 396.4,132.9 420.0,151.9 435.9,162.7 447.6,168.6 453.9,171.7 462.7,175.9 470.9,179.6 481.6,184.0 494.2,189.4 510.9,194.6 515.2,196.3 524.0,199.3 533.6,202.2 538.5,203.7 559.9,206.3"/>
<rect x="348.02" y="63.75" width="6.5" height="6.5" fill="#555555"/>
<rect x="352.68" y="72.55" width="6.5" height="6.5" fill="#555555"/>
<rect x="361.16" y="88.55" width="6.5" height="6.5" fill="#555555"/>
<rect x="366.37" y="97.45" width="6.5" height="6.5" fill="#555555"/>
<rect x="375.95" y="110.35" width="6.5" height="6.5" fill="#555555"/>
<rect x="393.19" y="129.65" width="6.5" height="6.5" fill="#555555"/>
<rect x="416.74" y="148.65" width="6.5" height="6.5" fill="#555555"/>
<rect x="432.61" y="159.45" width="6.5" height="6.5" fill="#555555"/>
<rect x="444.38" y="165.35" width="6.5" height="6.5" fill="#555555"/>
<rect x="450.68" y="168.45" width="6.5" height="6.5" fill="#555555"/>
<rect x="459.44" y="172.65" width="6.5" height="6.5" fill="#555555"/>
<rect x="467.65" y="176.35" width="6.5" height="6.5" fill="#555555"/>
<rect x="478.33" y="180.75" width="6.5" height="6.5" fill="#555555"/>
<rect x="490.92" y="186.15" width="6.5" height="6.5" fill="#555555"/>
<rect x="507.62" y="191.35" width="6.5" height="6.5" fill="#555555"/>
<rect x="512.00" y="193.05" width="6.5" height="6.5" fill="#555555"/>
<rect x="520.76" y="196.05" width="6.5" height="6.5" fill="#555555"/>
<rect x="530.34" y="198.95" width="6.5" height="6.5" fill="#555555"/>
<rect x="535.27" y="200.45" width="6.5" height="6.5" fill="#555555"/>
<rect x="556.62" y="203.05" width="6.5" height="6.5" fill="#555555"/>
<polyline fill="none" stroke="#0a0af0" stroke-width="2.1" points="351.3,60.0 355.9,69.4 364.4,78.7 369.6,83.0 379.2,92.6 396.4,103.6 420.0,118.8 435.9,129.2 447.6,135.7 453.9,139.9 462.7,145.1 470.9,149.1 481.6,154.1 494.2,160.1 510.9,166.5 515.2,168.3 524.0,172.2 533.6,175.6 538.5,176.9 559.9,180.4"/>
<circle cx="351.3" cy="60.0" r="3.8" fill="#0a0af0"/>
<circle cx="355.9" cy="69.4" r="3.8" fill="#0a0af0"/>
<circle cx="364.4" cy="78.7" r="3.8" fill="#0a0af0"/>
<circle cx="369.6" cy="83.0" r="3.8" fill="#0a0af0"/>
<circle cx="379.2" cy="92.6" r="3.8" fill="#0a0af0"/>
<circle cx="396.4" cy="103.6" r="3.8" fill="#0a0af0"/>
<circle cx="420.0" cy="118.8" r="3.8" fill="#0a0af0"/>
<circle cx="435.9" cy="129.2" r="3.8" fill="#0a0af0"/>
<circle cx="447.6" cy="135.7" r="3.8" fill="#0a0af0"/>
<circle cx="453.9" cy="139.9" r="3.8" fill="#0a0af0"/>
<circle cx="462.7" cy="145.1" r="3.8" fill="#0a0af0"/>
<circle cx="470.9" cy="149.1" r="3.8" fill="#0a0af0"/>
<circle cx="481.6" cy="154.1" r="3.8" fill="#0a0af0"/>
<circle cx="494.2" cy="160.1" r="3.8" fill="#0a0af0"/>
<circle cx="510.9" cy="166.5" r="3.8" fill="#0a0af0"/>
<circle cx="515.2" cy="168.3" r="3.8" fill="#0a0af0"/>
<circle cx="524.0" cy="172.2" r="3.8" fill="#0a0af0"/>
<circle cx="533.6" cy="175.6" r="3.8" fill="#0a0af0"/>
<circle cx="538.5" cy="176.9" r="3.8" fill="#0a0af0"/>
<circle cx="559.9" cy="180.4" r="3.8" fill="#0a0af0"/>
</g>
<line x1="351.0" y1="38.6" x2="351.0" y2="214.1" stroke="#000" stroke-width="2"/>
<line x1="350.0" y1="213.1" x2="571.0" y2="213.1" stroke="#000" stroke-width="2"/>
<line x1="350.0" y1="39.9" x2="571.0" y2="39.9" stroke="#0000c4" stroke-width="2"/>
<line x1="570.0" y1="38.6" x2="570.0" y2="214.1" stroke="#0000c4" stroke-width="2"/>
<line x1="351.0" y1="213.1" x2="351.0" y2="209.6" stroke="#000" stroke-width="1.4"/>
<line x1="378.4" y1="213.1" x2="378.4" y2="211.1" stroke="#000" stroke-width="1.4"/>
<line x1="405.8" y1="213.1" x2="405.8" y2="209.6" stroke="#000" stroke-width="1.4"/>
<line x1="433.1" y1="213.1" x2="433.1" y2="211.1" stroke="#000" stroke-width="1.4"/>
<line x1="460.5" y1="213.1" x2="460.5" y2="209.6" stroke="#000" stroke-width="1.4"/>
<line x1="487.9" y1="213.1" x2="487.9" y2="211.1" stroke="#000" stroke-width="1.4"/>
<line x1="515.2" y1="213.1" x2="515.2" y2="209.6" stroke="#000" stroke-width="1.4"/>
<line x1="542.6" y1="213.1" x2="542.6" y2="211.1" stroke="#000" stroke-width="1.4"/>
<line x1="570.0" y1="213.1" x2="570.0" y2="209.6" stroke="#000" stroke-width="1.4"/>
<line x1="351.0" y1="39.6" x2="354.5" y2="39.6" stroke="#000" stroke-width="1.4"/>
<line x1="570.0" y1="39.6" x2="566.5" y2="39.6" stroke="#0000c4" stroke-width="1.4"/>
<line x1="351.0" y1="61.3" x2="353.0" y2="61.3" stroke="#000" stroke-width="1.4"/>
<line x1="570.0" y1="61.3" x2="568.0" y2="61.3" stroke="#0000c4" stroke-width="1.4"/>
<line x1="351.0" y1="83.0" x2="354.5" y2="83.0" stroke="#000" stroke-width="1.4"/>
<line x1="570.0" y1="83.0" x2="566.5" y2="83.0" stroke="#0000c4" stroke-width="1.4"/>
<line x1="351.0" y1="104.7" x2="353.0" y2="104.7" stroke="#000" stroke-width="1.4"/>
<line x1="570.0" y1="104.7" x2="568.0" y2="104.7" stroke="#0000c4" stroke-width="1.4"/>
<line x1="351.0" y1="126.3" x2="354.5" y2="126.3" stroke="#000" stroke-width="1.4"/>
<line x1="570.0" y1="126.3" x2="566.5" y2="126.3" stroke="#0000c4" stroke-width="1.4"/>
<line x1="351.0" y1="148.0" x2="353.0" y2="148.0" stroke="#000" stroke-width="1.4"/>
<line x1="570.0" y1="148.0" x2="568.0" y2="148.0" stroke="#0000c4" stroke-width="1.4"/>
<line x1="351.0" y1="169.7" x2="354.5" y2="169.7" stroke="#000" stroke-width="1.4"/>
<line x1="570.0" y1="169.7" x2="566.5" y2="169.7" stroke="#0000c4" stroke-width="1.4"/>
<line x1="351.0" y1="191.4" x2="353.0" y2="191.4" stroke="#000" stroke-width="1.4"/>
<line x1="570.0" y1="191.4" x2="568.0" y2="191.4" stroke="#0000c4" stroke-width="1.4"/>
<line x1="351.0" y1="213.1" x2="354.5" y2="213.1" stroke="#000" stroke-width="1.4"/>
<line x1="570.0" y1="213.1" x2="566.5" y2="213.1" stroke="#0000c4" stroke-width="1.4"/>
<text x="347.2" y="43.9" font-size="14.6" text-anchor="end">6.0</text>
<text x="347.2" y="87.3" font-size="14.6" text-anchor="end">5.8</text>
<text x="347.2" y="130.7" font-size="14.6" text-anchor="end">5.6</text>
<text x="347.2" y="174.0" font-size="14.6" text-anchor="end">5.4</text>
<text x="347.2" y="217.4" font-size="14.6" text-anchor="end">5.2</text>
<text x="574.3" y="44.1" font-size="14.6" fill="#0c0cd8">14.8</text>
<text x="574.3" y="87.5" font-size="14.6" fill="#0c0cd8">14.4</text>
<text x="574.3" y="130.8" font-size="14.6" fill="#0c0cd8">14.0</text>
<text x="574.3" y="174.2" font-size="14.6" fill="#0c0cd8">13.6</text>
<text x="574.3" y="217.6" font-size="14.6" fill="#0c0cd8">13.2</text>
<text x="351.0" y="228.8" font-size="14.6" text-anchor="middle">0</text>
<text x="405.8" y="228.8" font-size="14.6" text-anchor="middle">20</text>
<text x="460.5" y="228.8" font-size="14.6" text-anchor="middle">40</text>
<text x="515.2" y="228.8" font-size="14.6" text-anchor="middle">60</text>
<text x="570.0" y="228.8" font-size="14.6" text-anchor="middle">80</text>
<text x="393" y="248.3" font-size="20.2">Pressure (GPa)</text>
<text transform="translate(321.5 147.6) rotate(-90)" font-size="19.5">a <tspan dx="-1.2" font-size="20" font-family='"Liberation Serif", serif'>(Å)</tspan></text>
<text transform="translate(622.5 147.8) rotate(-90)" font-size="20" fill="#0c0cd8">c <tspan dx="-0.5" font-family='"Liberation Serif", serif'>(Å)</tspan></text>
<text transform="translate(302.94 20.87) scale(0.742 1)" font-size="27.47" stroke="#000" stroke-width="0.2">(</text><text transform="translate(311.29 21.53) scale(1.013 1)" font-size="27.48" stroke="#000" stroke-width="0.2">b</text><text transform="translate(328.08 20.87) scale(0.742 1)" font-size="27.47" stroke="#000" stroke-width="0.2">)</text>
<line x1="366.8" y1="184.1" x2="413.1" y2="184.1" stroke="#555555" stroke-width="2"/>
<rect x="386.9" y="181.2" width="5.8" height="5.8" fill="#555555"/>
<text x="417.5" y="190.8" font-size="19.5">a</text>
<line x1="494.4" y1="143.3" x2="540.5" y2="143.3" stroke="#0a0af0" stroke-width="2.2"/>
<circle cx="517.4" cy="143.3" r="3.4" fill="#0a0af0"/>
<text x="545.6" y="151" font-size="19.5" fill="#0a0af0">c</text>
<line x1="370" y1="141.6" x2="393.7" y2="141.6" stroke="#000" stroke-width="1.5"/>
<path d="M365.6,141.6 L373.5,138.9 L373.5,144.3 Z" fill="#000"/>
<line x1="522.5" y1="164" x2="555" y2="164" stroke="#0a0af0" stroke-width="1.7"/>
<path d="M560.8,164 L552.8,161.2 L552.8,166.8 Z" fill="#0a0af0"/>
<clipPath id="cc"><rect x="350.3" y="261.0" width="220.7" height="176.39999999999998"/></clipPath><g clip-path="url(#cc)">
<rect x="347.6" y="279.0" width="6" height="6" fill="#ff10ff"/>
<rect x="352.3" y="293.1" width="6" height="6" fill="#ff10ff"/>
<rect x="360.8" y="307.5" width="6" height="6" fill="#ff10ff"/>
<rect x="366.1" y="315.8" width="6" height="6" fill="#ff10ff"/>
<rect x="375.7" y="327.7" width="6" height="6" fill="#ff10ff"/>
<rect x="393.1" y="344.3" width="6" height="6" fill="#ff10ff"/>
<rect x="416.8" y="361.5" width="6" height="6" fill="#ff10ff"/>
<rect x="432.8" y="371.7" width="6" height="6" fill="#ff10ff"/>
<rect x="444.7" y="377.5" width="6" height="6" fill="#ff10ff"/>
<rect x="451.0" y="380.7" width="6" height="6" fill="#ff10ff"/>
<rect x="459.9" y="384.4" width="6" height="6" fill="#ff10ff"/>
<rect x="468.1" y="387.9" width="6" height="6" fill="#ff10ff"/>
<rect x="478.9" y="392.1" width="6" height="6" fill="#ff10ff"/>
<rect x="491.6" y="396.9" width="6" height="6" fill="#ff10ff"/>
<rect x="508.4" y="401.4" width="6" height="6" fill="#ff10ff"/>
<rect x="512.8" y="403.1" width="6" height="6" fill="#ff10ff"/>
<rect x="521.7" y="406.4" width="6" height="6" fill="#ff10ff"/>
<rect x="531.3" y="408.5" width="6" height="6" fill="#ff10ff"/>
<rect x="536.3" y="410.0" width="6" height="6" fill="#ff10ff"/>
<rect x="557.8" y="412.8" width="6" height="6" fill="#ff10ff"/>
<polyline fill="none" stroke="#3a3a3a" stroke-width="1.7" stroke-dasharray="8.2 8.24" stroke-dashoffset="14.64" points="350.30,286.01 351.04,288.00 351.78,289.91 352.51,291.74 353.25,293.50 353.99,295.20 354.73,296.85 355.47,298.44 356.21,299.97 356.94,301.47 357.68,302.91 358.42,304.32 359.16,305.69 359.90,307.02 360.63,308.32 361.37,309.59 362.11,310.82 362.85,312.03 363.59,313.21 364.32,314.36 365.06,315.48 365.80,316.59 366.54,317.67 367.28,318.73 368.02,319.76 368.75,320.78 369.49,321.78 370.23,322.76 370.97,323.72 371.71,324.67 372.44,325.60 373.18,326.51 373.92,327.41 374.66,328.29 375.40,329.16 376.13,330.02 376.87,330.86 377.61,331.69 378.35,332.50 379.09,333.31 379.83,334.10 380.56,334.88 381.30,335.65 382.04,336.41 382.78,337.16 383.52,337.90 384.25,338.63 384.99,339.35 385.73,340.06 386.47,340.76 387.21,341.46 387.94,342.14 388.68,342.82 389.42,343.48 390.16,344.14 390.90,344.80 391.64,345.44 392.37,346.08 393.11,346.71 393.85,347.33 394.59,347.95 395.33,348.56 396.06,349.16 396.80,349.76 397.54,350.35 398.28,350.93 399.02,351.51 399.75,352.08 400.49,352.65 401.23,353.21 401.97,353.77 402.71,354.32 403.45,354.86 404.18,355.40 404.92,355.93 405.66,356.46 406.40,356.99 407.14,357.51 407.87,358.02 408.61,358.53 409.35,359.04 410.09,359.54 410.83,360.04 411.56,360.53 412.30,361.02 413.04,361.50 413.78,361.98 414.52,362.46 415.26,362.93 415.99,363.40 416.73,363.86 417.47,364.32 418.21,364.78 418.95,365.23 419.68,365.68 420.42,366.13 421.16,366.57 421.90,367.01 422.64,367.45 423.37,367.88 424.11,368.31 424.85,368.74 425.59,369.16 426.33,369.58 427.07,370.00 427.80,370.41 428.54,370.82 429.28,371.23 430.02,371.64 430.76,372.04 431.49,372.44 432.23,372.84 432.97,373.23 433.71,373.62 434.45,374.01 435.18,374.40 435.92,374.78 436.66,375.16 437.40,375.54 438.14,375.92 438.88,376.29 439.61,376.66 440.35,377.03 441.09,377.40 441.83,377.76 442.57,378.12 443.30,378.48 444.04,378.84 444.78,379.19 445.52,379.55 446.26,379.90 446.99,380.25 447.73,380.59 448.47,380.94 449.21,381.28 449.95,381.62 450.69,381.96 451.42,382.30 452.16,382.63 452.90,382.96 453.64,383.29 454.38,383.62 455.11,383.95 455.85,384.27 456.59,384.60 457.33,384.92 458.07,385.24 458.80,385.56 459.54,385.87 460.28,386.19 461.02,386.50 461.76,386.81 462.50,387.12 463.23,387.43 463.97,387.74 464.71,388.04 465.45,388.34 466.19,388.64 466.92,388.94 467.66,389.24 468.40,389.54 469.14,389.83 469.88,390.13 470.61,390.42 471.35,390.71 472.09,391.00 472.83,391.29 473.57,391.57 474.31,391.86 475.04,392.14 475.78,392.42 476.52,392.71 477.26,392.98 478.00,393.26 478.73,393.54 479.47,393.82 480.21,394.09 480.95,394.36 481.69,394.63 482.42,394.90 483.16,395.17 483.90,395.44 484.64,395.71 485.38,395.97 486.12,396.24 486.85,396.50 487.59,396.76 488.33,397.02 489.07,397.28 489.81,397.54 490.54,397.80 491.28,398.05 492.02,398.31 492.76,398.56 493.50,398.81 494.23,399.07 494.97,399.32 495.71,399.56 496.45,399.81 497.19,400.06 497.93,400.31 498.66,400.55 499.40,400.80 500.14,401.04 500.88,401.28 501.62,401.52 502.35,401.76 503.09,402.00 503.83,402.24 504.57,402.48 505.31,402.71 506.04,402.95 506.78,403.18 507.52,403.41 508.26,403.65 509.00,403.88 509.74,404.11 510.47,404.34 511.21,404.57 511.95,404.79 512.69,405.02 513.43,405.25 514.16,405.47 514.90,405.69 515.64,405.92 516.38,406.14 517.12,406.36 517.85,406.58 518.59,406.80 519.33,407.02 520.07,407.24 520.81,407.46 521.55,407.67 522.28,407.89 523.02,408.10 523.76,408.32 524.50,408.53 525.24,408.74 525.97,408.96 526.71,409.17 527.45,409.38 528.19,409.59 528.93,409.79 529.66,410.00 530.40,410.21 531.14,410.42 531.88,410.62 532.62,410.83 533.36,411.03 534.09,411.23 534.83,411.44 535.57,411.64 536.31,411.84 537.05,412.04 537.78,412.24 538.52,412.44 539.26,412.64 540.00,412.84 540.74,413.03 541.47,413.23 542.21,413.43 542.95,413.62 543.69,413.82 544.43,414.01 545.17,414.20 545.90,414.40 546.64,414.59 547.38,414.78 548.12,414.97 548.86,415.16 549.59,415.35 550.33,415.54 551.07,415.73 551.81,415.91 552.55,416.10 553.28,416.29 554.02,416.47 554.76,416.66 555.50,416.84 556.24,417.03 556.98,417.21 557.71,417.39 558.45,417.57 559.19,417.76 559.93,417.94 560.67,418.12 561.40,418.30 562.14,418.48 562.88,418.66 563.62,418.83 564.36,419.01 565.09,419.19 565.83,419.37 566.57,419.54 567.31,419.72 568.05,419.89 568.79,420.07 569.52,420.24 570.26,420.41 571.00,420.59"/>
</g>
<rect x="350.3" y="261.0" width="220.7" height="176.4" fill="none" stroke="#000" stroke-width="2"/>
<line x1="350.3" y1="437.4" x2="350.3" y2="433.9" stroke="#000" stroke-width="1.4"/>
<line x1="377.9" y1="437.4" x2="377.9" y2="435.4" stroke="#000" stroke-width="1.4"/>
<line x1="405.5" y1="437.4" x2="405.5" y2="433.9" stroke="#000" stroke-width="1.4"/>
<line x1="433.1" y1="437.4" x2="433.1" y2="435.4" stroke="#000" stroke-width="1.4"/>
<line x1="460.6" y1="437.4" x2="460.6" y2="433.9" stroke="#000" stroke-width="1.4"/>
<line x1="488.2" y1="437.4" x2="488.2" y2="435.4" stroke="#000" stroke-width="1.4"/>
<line x1="515.8" y1="437.4" x2="515.8" y2="433.9" stroke="#000" stroke-width="1.4"/>
<line x1="543.4" y1="437.4" x2="543.4" y2="435.4" stroke="#000" stroke-width="1.4"/>
<line x1="571.0" y1="437.4" x2="571.0" y2="433.9" stroke="#000" stroke-width="1.4"/>
<line x1="350.3" y1="282.3" x2="353.8" y2="282.3" stroke="#000" stroke-width="1.4"/>
<line x1="350.3" y1="304.7" x2="352.3" y2="304.7" stroke="#000" stroke-width="1.4"/>
<line x1="350.3" y1="327.0" x2="353.8" y2="327.0" stroke="#000" stroke-width="1.4"/>
<line x1="350.3" y1="349.4" x2="352.3" y2="349.4" stroke="#000" stroke-width="1.4"/>
<line x1="350.3" y1="371.8" x2="353.8" y2="371.8" stroke="#000" stroke-width="1.4"/>
<line x1="350.3" y1="394.2" x2="352.3" y2="394.2" stroke="#000" stroke-width="1.4"/>
<line x1="350.3" y1="416.5" x2="353.8" y2="416.5" stroke="#000" stroke-width="1.4"/>
<text x="345.6" y="286.9" font-size="14.6" text-anchor="end">440</text>
<text x="345.6" y="331.6" font-size="14.6" text-anchor="end">400</text>
<text x="345.6" y="376.4" font-size="14.6" text-anchor="end">360</text>
<text x="345.6" y="421.1" font-size="14.6" text-anchor="end">320</text>
<text x="350.3" y="453.5" font-size="14.6" text-anchor="middle">0</text>
<text x="405.5" y="453.5" font-size="14.6" text-anchor="middle">20</text>
<text x="460.6" y="453.5" font-size="14.6" text-anchor="middle">40</text>
<text x="515.8" y="453.5" font-size="14.6" text-anchor="middle">60</text>
<text x="571.0" y="453.5" font-size="14.6" text-anchor="middle">80</text>
<text x="398.5" y="476.5" font-size="20.2">Pressure (GPa)</text>
<text transform="translate(314.2 420.5) rotate(-90)" font-size="20.1">Cell volume <tspan dx="-1.8">(Å</tspan><tspan font-size="13" dx="0.3" dy="-7.3">3</tspan><tspan dx="-1.4" dy="7.3">)</tspan></text>
<text transform="translate(303.13 255.23) scale(0.676 1)" font-size="27.90" stroke="#000" stroke-width="0.2">(</text><text transform="translate(311.23 255.74) scale(0.976 1)" font-size="26.09" stroke="#000" stroke-width="0.2">c</text><text transform="translate(325.18 255.23) scale(0.717 1)" font-size="27.90" stroke="#000" stroke-width="0.2">)</text>
<rect x="466" y="315.3" width="6" height="6" fill="#ff10ff"/>
<text x="491.5" y="323.9" font-size="20" fill="#ff10ff">Exp.</text>
<line x1="445.6" y1="342.2" x2="487.5" y2="342.2" stroke="#111" stroke-width="1.7" stroke-dasharray="8.6 8"/>
<text x="491.5" y="349.4" font-size="20">BM Fit</text>
</svg>
</body></html>
